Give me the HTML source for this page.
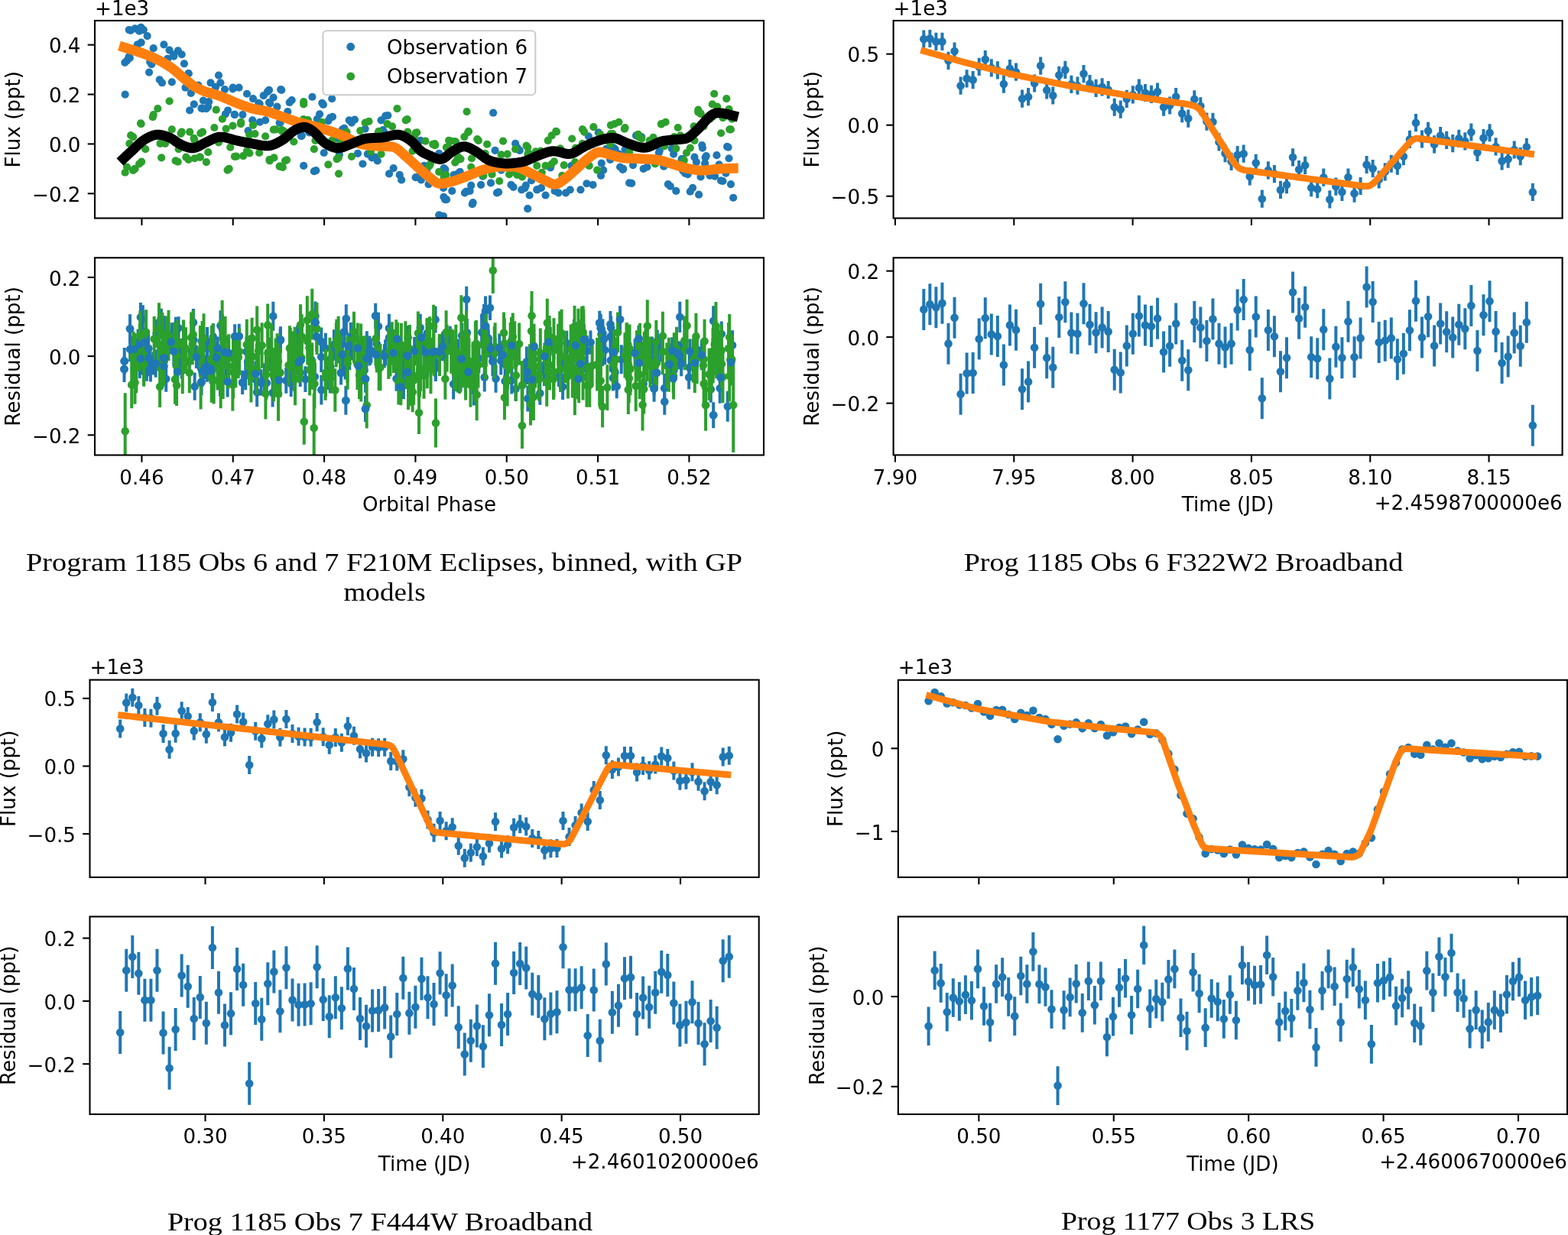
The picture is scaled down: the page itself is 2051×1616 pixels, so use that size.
<!DOCTYPE html><html><head><meta charset="utf-8"><title>Figure</title><style>html,body{margin:0;padding:0;background:#fff;overflow:hidden;}svg{display:block;}</style></head><body>
<svg width="2051" height="1616" viewBox="0 0 2051 1616">
<rect width="2051" height="1616" fill="#fff"/>
<defs>
<clipPath id="tlt"><rect x="124.0" y="27.0" width="875.0" height="258.5"/></clipPath>
<clipPath id="tlr"><rect x="124.0" y="337.3" width="875.0" height="258.2"/></clipPath>
<clipPath id="trt"><rect x="1168.6" y="27.0" width="875.0" height="258.5"/></clipPath>
<clipPath id="trr"><rect x="1168.6" y="337.3" width="875.0" height="258.09999999999997"/></clipPath>
<clipPath id="blt"><rect x="117.5" y="889.6" width="875.2" height="258.30000000000007"/></clipPath>
<clipPath id="blr"><rect x="117.5" y="1199.4" width="875.2" height="258.5999999999999"/></clipPath>
<clipPath id="brt"><rect x="1174.85" y="889.8" width="875.1500000000001" height="258.10000000000014"/></clipPath>
<clipPath id="brr"><rect x="1174.85" y="1199.4" width="875.1500000000001" height="258.5999999999999"/></clipPath>
</defs>
<g fill="#1f77b4" clip-path="url(#tlt)"><circle cx="170.92" cy="39.87" r="5.1"/><circle cx="176.55" cy="37.46" r="5.1"/><circle cx="182.19" cy="40.68" r="5.1"/><circle cx="187.82" cy="39.07" r="5.1"/><circle cx="192.65" cy="47.12" r="5.1"/><circle cx="184.60" cy="55.64" r="5.1"/><circle cx="179.77" cy="58.38" r="5.1"/><circle cx="168.51" cy="74.47" r="5.1"/><circle cx="166.09" cy="79.30" r="5.1"/><circle cx="163.68" cy="123.56" r="5.1"/><circle cx="175.75" cy="67.23" r="5.1"/><circle cx="198.28" cy="84.13" r="5.1"/><circle cx="195.06" cy="94.59" r="5.1"/><circle cx="200.69" cy="63.21" r="5.1"/><circle cx="214.37" cy="58.38" r="5.1"/><circle cx="221.61" cy="65.62" r="5.1"/><circle cx="232.88" cy="66.43" r="5.1"/><circle cx="237.71" cy="71.25" r="5.1"/><circle cx="240.92" cy="83.32" r="5.1"/><circle cx="219.20" cy="76.89" r="5.1"/><circle cx="227.24" cy="73.67" r="5.1"/><circle cx="208.74" cy="104.24" r="5.1"/><circle cx="211.96" cy="108.27" r="5.1"/><circle cx="224.83" cy="107.46" r="5.1"/><circle cx="246.56" cy="96.20" r="5.1"/><circle cx="242.53" cy="114.71" r="5.1"/><circle cx="249.77" cy="121.95" r="5.1"/><circle cx="259.43" cy="111.49" r="5.1"/><circle cx="253.80" cy="136.43" r="5.1"/><circle cx="248.17" cy="144.48" r="5.1"/><circle cx="265.06" cy="142.06" r="5.1"/><circle cx="269.89" cy="142.06" r="5.1"/><circle cx="265.87" cy="131.60" r="5.1"/><circle cx="273.11" cy="133.21" r="5.1"/><circle cx="275.52" cy="108.27" r="5.1"/><circle cx="285.98" cy="98.61" r="5.1"/><circle cx="288.40" cy="108.27" r="5.1"/><circle cx="281.96" cy="113.90" r="5.1"/><circle cx="294.03" cy="117.12" r="5.1"/><circle cx="304.49" cy="116.31" r="5.1"/><circle cx="312.54" cy="114.71" r="5.1"/><circle cx="323.00" cy="122.75" r="5.1"/><circle cx="331.04" cy="129.19" r="5.1"/><circle cx="338.28" cy="134.82" r="5.1"/><circle cx="344.72" cy="125.17" r="5.1"/><circle cx="351.96" cy="117.92" r="5.1"/><circle cx="357.60" cy="127.58" r="5.1"/><circle cx="351.96" cy="134.02" r="5.1"/><circle cx="367.25" cy="117.12" r="5.1"/><circle cx="362.42" cy="139.65" r="5.1"/><circle cx="298.05" cy="144.48" r="5.1"/><circle cx="306.90" cy="150.11" r="5.1"/><circle cx="317.36" cy="150.11" r="5.1"/><circle cx="294.83" cy="149.30" r="5.1"/><circle cx="330.24" cy="157.35" r="5.1"/><circle cx="339.89" cy="159.76" r="5.1"/><circle cx="347.14" cy="157.35" r="5.1"/><circle cx="365.64" cy="160.57" r="5.1"/><circle cx="324.61" cy="171.03" r="5.1"/><circle cx="368.22" cy="117.92" r="5.1"/><circle cx="378.68" cy="134.02" r="5.1"/><circle cx="376.26" cy="146.09" r="5.1"/><circle cx="366.61" cy="160.57" r="5.1"/><circle cx="408.45" cy="126.77" r="5.1"/><circle cx="421.32" cy="134.82" r="5.1"/><circle cx="434.20" cy="129.19" r="5.1"/><circle cx="418.11" cy="149.30" r="5.1"/><circle cx="414.89" cy="155.74" r="5.1"/><circle cx="431.78" cy="154.13" r="5.1"/><circle cx="429.37" cy="158.16" r="5.1"/><circle cx="394.77" cy="177.47" r="5.1"/><circle cx="404.43" cy="173.44" r="5.1"/><circle cx="423.74" cy="200.00" r="5.1"/><circle cx="397.19" cy="216.89" r="5.1"/><circle cx="410.86" cy="224.14" r="5.1"/><circle cx="443.85" cy="202.41" r="5.1"/><circle cx="439.83" cy="181.49" r="5.1"/><circle cx="450.29" cy="167.81" r="5.1"/><circle cx="456.73" cy="157.35" r="5.1"/><circle cx="463.97" cy="156.55" r="5.1"/><circle cx="459.95" cy="160.57" r="5.1"/><circle cx="477.65" cy="168.62" r="5.1"/><circle cx="467.99" cy="200.80" r="5.1"/><circle cx="474.43" cy="214.48" r="5.1"/><circle cx="480.87" cy="201.61" r="5.1"/><circle cx="486.50" cy="206.43" r="5.1"/><circle cx="493.74" cy="210.46" r="5.1"/><circle cx="490.52" cy="205.63" r="5.1"/><circle cx="498.57" cy="157.35" r="5.1"/><circle cx="504.20" cy="151.72" r="5.1"/><circle cx="500.98" cy="170.22" r="5.1"/><circle cx="509.03" cy="227.35" r="5.1"/><circle cx="514.66" cy="220.11" r="5.1"/><circle cx="522.71" cy="228.96" r="5.1"/><circle cx="525.12" cy="235.40" r="5.1"/><circle cx="543.63" cy="232.18" r="5.1"/><circle cx="550.87" cy="235.40" r="5.1"/><circle cx="554.89" cy="216.89" r="5.1"/><circle cx="558.11" cy="222.53" r="5.1"/><circle cx="550.07" cy="183.90" r="5.1"/><circle cx="560.53" cy="241.03" r="5.1"/><circle cx="574.21" cy="200.80" r="5.1"/><circle cx="580.64" cy="220.11" r="5.1"/><circle cx="582.25" cy="261.15" r="5.1"/><circle cx="574.21" cy="281.26" r="5.1"/><circle cx="645.18" cy="147.70" r="5.1"/><circle cx="582.41" cy="221.72" r="5.1"/><circle cx="593.68" cy="228.96" r="5.1"/><circle cx="601.73" cy="224.94" r="5.1"/><circle cx="631.50" cy="230.57" r="5.1"/><circle cx="655.64" cy="222.53" r="5.1"/><circle cx="580.00" cy="245.86" r="5.1"/><circle cx="591.26" cy="249.88" r="5.1"/><circle cx="609.77" cy="250.69" r="5.1"/><circle cx="614.60" cy="249.88" r="5.1"/><circle cx="616.21" cy="242.64" r="5.1"/><circle cx="629.08" cy="241.84" r="5.1"/><circle cx="641.96" cy="239.42" r="5.1"/><circle cx="650.00" cy="252.30" r="5.1"/><circle cx="584.02" cy="261.15" r="5.1"/><circle cx="618.62" cy="265.17" r="5.1"/><circle cx="668.51" cy="241.84" r="5.1"/><circle cx="682.19" cy="248.27" r="5.1"/><circle cx="687.82" cy="242.64" r="5.1"/><circle cx="692.65" cy="255.52" r="5.1"/><circle cx="695.06" cy="236.21" r="5.1"/><circle cx="702.30" cy="248.27" r="5.1"/><circle cx="707.94" cy="245.86" r="5.1"/><circle cx="713.57" cy="255.52" r="5.1"/><circle cx="725.64" cy="249.88" r="5.1"/><circle cx="730.47" cy="252.30" r="5.1"/><circle cx="740.12" cy="252.30" r="5.1"/><circle cx="745.75" cy="248.27" r="5.1"/><circle cx="759.43" cy="248.27" r="5.1"/><circle cx="767.48" cy="240.23" r="5.1"/><circle cx="775.53" cy="241.84" r="5.1"/><circle cx="690.23" cy="273.22" r="5.1"/><circle cx="720.01" cy="219.31" r="5.1"/><circle cx="647.59" cy="196.78" r="5.1"/><circle cx="674.14" cy="187.93" r="5.1"/><circle cx="679.77" cy="196.78" r="5.1"/><circle cx="769.89" cy="178.27" r="5.1"/><circle cx="782.77" cy="173.44" r="5.1"/><circle cx="786.79" cy="213.68" r="5.1"/><circle cx="789.21" cy="222.53" r="5.1"/><circle cx="785.99" cy="229.77" r="5.1"/><circle cx="794.03" cy="197.58" r="5.1"/><circle cx="747.36" cy="216.89" r="5.1"/><circle cx="580.00" cy="282.87" r="5.1"/><circle cx="795.00" cy="195.97" r="5.1"/><circle cx="804.66" cy="195.17" r="5.1"/><circle cx="809.48" cy="201.61" r="5.1"/><circle cx="798.22" cy="208.85" r="5.1"/><circle cx="817.53" cy="195.97" r="5.1"/><circle cx="811.09" cy="218.50" r="5.1"/><circle cx="815.12" cy="220.92" r="5.1"/><circle cx="827.99" cy="216.09" r="5.1"/><circle cx="823.16" cy="239.42" r="5.1"/><circle cx="832.01" cy="177.47" r="5.1"/><circle cx="839.25" cy="179.08" r="5.1"/><circle cx="841.67" cy="220.92" r="5.1"/><circle cx="846.50" cy="218.50" r="5.1"/><circle cx="861.78" cy="200.00" r="5.1"/><circle cx="868.22" cy="217.70" r="5.1"/><circle cx="873.85" cy="241.03" r="5.1"/><circle cx="878.68" cy="194.36" r="5.1"/><circle cx="881.10" cy="201.61" r="5.1"/><circle cx="884.31" cy="249.88" r="5.1"/><circle cx="891.56" cy="208.04" r="5.1"/><circle cx="893.17" cy="223.33" r="5.1"/><circle cx="899.60" cy="228.16" r="5.1"/><circle cx="902.82" cy="250.69" r="5.1"/><circle cx="906.04" cy="245.86" r="5.1"/><circle cx="908.45" cy="205.63" r="5.1"/><circle cx="910.87" cy="212.07" r="5.1"/><circle cx="914.09" cy="254.71" r="5.1"/><circle cx="916.50" cy="231.38" r="5.1"/><circle cx="918.91" cy="193.56" r="5.1"/><circle cx="923.74" cy="204.02" r="5.1"/><circle cx="928.57" cy="229.77" r="5.1"/><circle cx="935.01" cy="230.57" r="5.1"/><circle cx="937.42" cy="203.21" r="5.1"/><circle cx="940.64" cy="215.28" r="5.1"/><circle cx="945.47" cy="237.01" r="5.1"/><circle cx="949.49" cy="226.55" r="5.1"/><circle cx="951.10" cy="191.95" r="5.1"/><circle cx="953.51" cy="207.24" r="5.1"/><circle cx="955.93" cy="241.03" r="5.1"/><circle cx="959.15" cy="258.73" r="5.1"/><circle cx="922.13" cy="213.68" r="5.1"/><circle cx="246.61" cy="96.24" r="5.1"/><circle cx="580.40" cy="257.75" r="5.1"/><circle cx="381.71" cy="131.12" r="5.1"/><circle cx="413.28" cy="223.21" r="5.1"/><circle cx="507.36" cy="151.01" r="5.1"/><circle cx="826.22" cy="239.82" r="5.1"/><circle cx="607.95" cy="252.38" r="5.1"/><circle cx="353.18" cy="135.31" r="5.1"/><circle cx="226.99" cy="71.72" r="5.1"/><circle cx="862.77" cy="197.25" r="5.1"/><circle cx="339.63" cy="135.77" r="5.1"/><circle cx="617.76" cy="267.26" r="5.1"/><circle cx="168.78" cy="39.11" r="5.1"/><circle cx="652.09" cy="251.46" r="5.1"/><circle cx="952.59" cy="192.74" r="5.1"/><circle cx="896.25" cy="226.77" r="5.1"/><circle cx="422.89" cy="136.98" r="5.1"/><circle cx="447.86" cy="169.30" r="5.1"/><circle cx="546.06" cy="231.49" r="5.1"/><circle cx="702.68" cy="248.13" r="5.1"/><circle cx="434.99" cy="152.85" r="5.1"/><circle cx="918.23" cy="190.07" r="5.1"/><circle cx="814.56" cy="221.84" r="5.1"/><circle cx="671.55" cy="244.80" r="5.1"/><circle cx="686.61" cy="246.06" r="5.1"/><circle cx="349.78" cy="120.19" r="5.1"/><circle cx="943.07" cy="236.35" r="5.1"/><circle cx="598.74" cy="227.45" r="5.1"/><circle cx="272.19" cy="139.54" r="5.1"/><circle cx="304.68" cy="114.62" r="5.1"/><circle cx="554.84" cy="217.27" r="5.1"/><circle cx="163.34" cy="81.85" r="5.1"/><circle cx="263.51" cy="141.69" r="5.1"/><circle cx="676.68" cy="193.30" r="5.1"/><circle cx="792.87" cy="194.87" r="5.1"/><circle cx="876.85" cy="243.76" r="5.1"/><circle cx="306.77" cy="149.79" r="5.1"/><circle cx="502.15" cy="172.74" r="5.1"/><circle cx="922.60" cy="206.08" r="5.1"/><circle cx="394.06" cy="178.13" r="5.1"/><circle cx="893.22" cy="208.05" r="5.1"/><circle cx="169.84" cy="75.85" r="5.1"/><circle cx="184.36" cy="35.84" r="5.1"/><circle cx="802.20" cy="193.16" r="5.1"/><circle cx="196.20" cy="80.97" r="5.1"/></g>
<g fill="#2ca02c" clip-path="url(#tlt)"><circle cx="163.68" cy="225.74" r="5.1"/><circle cx="166.09" cy="218.50" r="5.1"/><circle cx="176.55" cy="220.92" r="5.1"/><circle cx="182.19" cy="214.48" r="5.1"/><circle cx="169.31" cy="187.93" r="5.1"/><circle cx="174.14" cy="179.08" r="5.1"/><circle cx="184.60" cy="162.18" r="5.1"/><circle cx="190.23" cy="195.17" r="5.1"/><circle cx="200.69" cy="150.11" r="5.1"/><circle cx="206.32" cy="142.06" r="5.1"/><circle cx="221.61" cy="132.41" r="5.1"/><circle cx="211.15" cy="206.43" r="5.1"/><circle cx="209.54" cy="187.93" r="5.1"/><circle cx="215.98" cy="187.93" r="5.1"/><circle cx="224.83" cy="169.42" r="5.1"/><circle cx="237.71" cy="172.64" r="5.1"/><circle cx="248.17" cy="172.64" r="5.1"/><circle cx="254.60" cy="183.90" r="5.1"/><circle cx="229.66" cy="210.46" r="5.1"/><circle cx="233.68" cy="195.17" r="5.1"/><circle cx="243.34" cy="205.63" r="5.1"/><circle cx="246.56" cy="208.85" r="5.1"/><circle cx="254.60" cy="207.24" r="5.1"/><circle cx="261.04" cy="205.63" r="5.1"/><circle cx="269.89" cy="212.07" r="5.1"/><circle cx="272.30" cy="199.19" r="5.1"/><circle cx="265.06" cy="172.64" r="5.1"/><circle cx="280.35" cy="167.01" r="5.1"/><circle cx="282.76" cy="143.67" r="5.1"/><circle cx="290.81" cy="155.74" r="5.1"/><circle cx="285.98" cy="186.32" r="5.1"/><circle cx="295.64" cy="168.62" r="5.1"/><circle cx="304.49" cy="164.59" r="5.1"/><circle cx="314.95" cy="162.18" r="5.1"/><circle cx="301.27" cy="192.75" r="5.1"/><circle cx="306.90" cy="204.82" r="5.1"/><circle cx="318.17" cy="204.02" r="5.1"/><circle cx="323.00" cy="197.58" r="5.1"/><circle cx="299.66" cy="220.92" r="5.1"/><circle cx="331.04" cy="163.79" r="5.1"/><circle cx="333.46" cy="175.05" r="5.1"/><circle cx="326.21" cy="176.66" r="5.1"/><circle cx="339.09" cy="200.00" r="5.1"/><circle cx="347.14" cy="178.27" r="5.1"/><circle cx="352.77" cy="210.46" r="5.1"/><circle cx="358.40" cy="206.43" r="5.1"/><circle cx="360.81" cy="169.42" r="5.1"/><circle cx="365.64" cy="217.70" r="5.1"/><circle cx="368.86" cy="171.83" r="5.1"/><circle cx="397.19" cy="133.21" r="5.1"/><circle cx="373.05" cy="210.46" r="5.1"/><circle cx="366.61" cy="217.70" r="5.1"/><circle cx="384.31" cy="185.51" r="5.1"/><circle cx="371.44" cy="171.83" r="5.1"/><circle cx="395.58" cy="158.16" r="5.1"/><circle cx="402.82" cy="157.35" r="5.1"/><circle cx="410.86" cy="195.17" r="5.1"/><circle cx="412.47" cy="183.90" r="5.1"/><circle cx="421.32" cy="159.76" r="5.1"/><circle cx="429.37" cy="215.28" r="5.1"/><circle cx="440.64" cy="208.04" r="5.1"/><circle cx="443.05" cy="227.35" r="5.1"/><circle cx="434.20" cy="183.90" r="5.1"/><circle cx="453.51" cy="172.64" r="5.1"/><circle cx="459.95" cy="204.82" r="5.1"/><circle cx="471.21" cy="171.03" r="5.1"/><circle cx="477.65" cy="160.57" r="5.1"/><circle cx="482.48" cy="158.96" r="5.1"/><circle cx="484.89" cy="198.39" r="5.1"/><circle cx="498.57" cy="201.61" r="5.1"/><circle cx="506.62" cy="162.18" r="5.1"/><circle cx="513.05" cy="165.40" r="5.1"/><circle cx="519.49" cy="142.06" r="5.1"/><circle cx="530.75" cy="157.35" r="5.1"/><circle cx="533.17" cy="172.64" r="5.1"/><circle cx="545.24" cy="173.44" r="5.1"/><circle cx="542.02" cy="178.27" r="5.1"/><circle cx="556.50" cy="184.71" r="5.1"/><circle cx="566.16" cy="188.73" r="5.1"/><circle cx="569.38" cy="189.54" r="5.1"/><circle cx="562.94" cy="214.48" r="5.1"/><circle cx="574.21" cy="224.94" r="5.1"/><circle cx="580.64" cy="231.38" r="5.1"/><circle cx="583.86" cy="192.75" r="5.1"/><circle cx="553.28" cy="200.80" r="5.1"/><circle cx="539.61" cy="197.58" r="5.1"/><circle cx="495.35" cy="171.83" r="5.1"/><circle cx="445.46" cy="186.32" r="5.1"/><circle cx="610.58" cy="146.09" r="5.1"/><circle cx="612.99" cy="171.83" r="5.1"/><circle cx="607.36" cy="179.08" r="5.1"/><circle cx="625.86" cy="183.90" r="5.1"/><circle cx="637.13" cy="188.73" r="5.1"/><circle cx="658.05" cy="184.71" r="5.1"/><circle cx="589.66" cy="184.71" r="5.1"/><circle cx="596.09" cy="185.51" r="5.1"/><circle cx="586.44" cy="192.75" r="5.1"/><circle cx="597.70" cy="209.65" r="5.1"/><circle cx="602.53" cy="208.04" r="5.1"/><circle cx="616.21" cy="218.50" r="5.1"/><circle cx="617.01" cy="207.24" r="5.1"/><circle cx="634.72" cy="200.80" r="5.1"/><circle cx="655.64" cy="202.41" r="5.1"/><circle cx="663.68" cy="201.61" r="5.1"/><circle cx="674.14" cy="195.17" r="5.1"/><circle cx="690.23" cy="192.75" r="5.1"/><circle cx="691.04" cy="200.00" r="5.1"/><circle cx="700.70" cy="198.39" r="5.1"/><circle cx="707.13" cy="197.58" r="5.1"/><circle cx="666.10" cy="228.16" r="5.1"/><circle cx="676.56" cy="228.96" r="5.1"/><circle cx="682.99" cy="231.38" r="5.1"/><circle cx="653.22" cy="237.01" r="5.1"/><circle cx="632.30" cy="229.77" r="5.1"/><circle cx="643.57" cy="228.16" r="5.1"/><circle cx="702.30" cy="216.89" r="5.1"/><circle cx="708.74" cy="225.74" r="5.1"/><circle cx="713.57" cy="216.89" r="5.1"/><circle cx="724.83" cy="211.26" r="5.1"/><circle cx="716.79" cy="183.90" r="5.1"/><circle cx="721.62" cy="177.47" r="5.1"/><circle cx="727.25" cy="171.83" r="5.1"/><circle cx="732.88" cy="194.36" r="5.1"/><circle cx="737.71" cy="216.09" r="5.1"/><circle cx="735.29" cy="229.77" r="5.1"/><circle cx="748.17" cy="181.49" r="5.1"/><circle cx="753.00" cy="193.56" r="5.1"/><circle cx="761.85" cy="187.93" r="5.1"/><circle cx="764.26" cy="172.64" r="5.1"/><circle cx="776.33" cy="166.20" r="5.1"/><circle cx="785.18" cy="175.86" r="5.1"/><circle cx="770.70" cy="216.89" r="5.1"/><circle cx="781.16" cy="222.53" r="5.1"/><circle cx="798.86" cy="163.79" r="5.1"/><circle cx="798.86" cy="175.05" r="5.1"/><circle cx="752.19" cy="212.07" r="5.1"/><circle cx="801.44" cy="175.05" r="5.1"/><circle cx="803.85" cy="162.18" r="5.1"/><circle cx="809.48" cy="159.76" r="5.1"/><circle cx="817.53" cy="167.01" r="5.1"/><circle cx="798.22" cy="188.73" r="5.1"/><circle cx="823.16" cy="199.19" r="5.1"/><circle cx="835.23" cy="179.08" r="5.1"/><circle cx="839.25" cy="181.49" r="5.1"/><circle cx="854.54" cy="179.88" r="5.1"/><circle cx="849.72" cy="183.90" r="5.1"/><circle cx="856.96" cy="214.48" r="5.1"/><circle cx="865.00" cy="162.18" r="5.1"/><circle cx="870.64" cy="159.76" r="5.1"/><circle cx="869.03" cy="191.15" r="5.1"/><circle cx="881.90" cy="179.08" r="5.1"/><circle cx="884.31" cy="194.36" r="5.1"/><circle cx="886.73" cy="167.01" r="5.1"/><circle cx="889.95" cy="177.47" r="5.1"/><circle cx="894.77" cy="209.65" r="5.1"/><circle cx="897.99" cy="200.00" r="5.1"/><circle cx="902.82" cy="193.56" r="5.1"/><circle cx="908.45" cy="183.90" r="5.1"/><circle cx="913.28" cy="143.67" r="5.1"/><circle cx="916.50" cy="148.50" r="5.1"/><circle cx="920.52" cy="165.40" r="5.1"/><circle cx="931.79" cy="136.43" r="5.1"/><circle cx="934.20" cy="122.75" r="5.1"/><circle cx="938.22" cy="139.65" r="5.1"/><circle cx="950.29" cy="129.19" r="5.1"/><circle cx="953.51" cy="142.87" r="5.1"/><circle cx="945.47" cy="154.13" r="5.1"/><circle cx="943.05" cy="174.25" r="5.1"/><circle cx="955.93" cy="169.42" r="5.1"/><circle cx="957.54" cy="155.74" r="5.1"/><circle cx="928.57" cy="155.74" r="5.1"/><circle cx="907.65" cy="165.40" r="5.1"/><circle cx="865.01" cy="162.52" r="5.1"/><circle cx="352.44" cy="208.88" r="5.1"/><circle cx="913.20" cy="146.63" r="5.1"/><circle cx="297.57" cy="222.55" r="5.1"/><circle cx="688.49" cy="190.61" r="5.1"/><circle cx="675.32" cy="226.11" r="5.1"/><circle cx="415.52" cy="182.96" r="5.1"/><circle cx="761.99" cy="169.14" r="5.1"/><circle cx="171.06" cy="177.08" r="5.1"/><circle cx="568.80" cy="190.25" r="5.1"/><circle cx="326.36" cy="200.32" r="5.1"/><circle cx="543.43" cy="174.22" r="5.1"/><circle cx="185.14" cy="211.69" r="5.1"/><circle cx="568.64" cy="188.00" r="5.1"/><circle cx="532.73" cy="156.11" r="5.1"/><circle cx="261.92" cy="205.68" r="5.1"/><circle cx="262.29" cy="174.46" r="5.1"/><circle cx="309.16" cy="204.71" r="5.1"/><circle cx="761.06" cy="191.06" r="5.1"/><circle cx="893.89" cy="212.31" r="5.1"/><circle cx="184.03" cy="161.29" r="5.1"/><circle cx="253.63" cy="180.82" r="5.1"/><circle cx="624.31" cy="182.01" r="5.1"/><circle cx="357.75" cy="169.71" r="5.1"/><circle cx="834.83" cy="175.75" r="5.1"/><circle cx="595.29" cy="212.58" r="5.1"/><circle cx="587.09" cy="183.82" r="5.1"/><circle cx="931.72" cy="153.04" r="5.1"/><circle cx="690.41" cy="202.10" r="5.1"/><circle cx="599.16" cy="205.02" r="5.1"/><circle cx="232.67" cy="211.75" r="5.1"/><circle cx="954.25" cy="169.28" r="5.1"/><circle cx="706.98" cy="228.49" r="5.1"/><circle cx="669.24" cy="225.16" r="5.1"/><circle cx="315.12" cy="159.97" r="5.1"/><circle cx="816.86" cy="168.69" r="5.1"/><circle cx="397.07" cy="155.98" r="5.1"/><circle cx="594.92" cy="184.99" r="5.1"/><circle cx="612.19" cy="173.11" r="5.1"/><circle cx="375.06" cy="209.30" r="5.1"/><circle cx="945.06" cy="151.10" r="5.1"/><circle cx="199.76" cy="153.24" r="5.1"/><circle cx="916.52" cy="148.90" r="5.1"/><circle cx="727.99" cy="172.30" r="5.1"/><circle cx="442.77" cy="206.36" r="5.1"/><circle cx="561.66" cy="217.19" r="5.1"/><circle cx="397.18" cy="136.43" r="5.1"/><circle cx="174.03" cy="222.90" r="5.1"/><circle cx="402.63" cy="157.17" r="5.1"/><circle cx="583.31" cy="228.79" r="5.1"/><circle cx="368.96" cy="170.08" r="5.1"/><circle cx="236.60" cy="174.86" r="5.1"/><circle cx="494.64" cy="173.83" r="5.1"/><circle cx="721.43" cy="214.76" r="5.1"/><circle cx="369.80" cy="218.95" r="5.1"/></g>
<g clip-path="url(#tlt)">
<polyline points="156.00,60.00 158.00,60.62 160.00,61.24 162.00,61.86 164.00,62.49 166.00,63.13 168.00,63.76 170.00,64.40 172.00,65.03 174.00,65.66 176.00,66.29 178.00,66.92 180.00,67.56 182.00,68.21 184.00,68.88 186.00,69.57 188.00,70.28 190.00,71.02 192.00,71.80 194.00,72.60 196.00,73.42 198.00,74.28 200.00,75.16 202.00,76.07 204.00,77.01 206.00,77.99 208.00,78.99 210.00,80.03 212.00,81.12 214.00,82.24 216.00,83.42 218.00,84.64 220.00,85.92 222.00,87.24 224.00,88.62 226.00,90.08 228.00,91.63 230.00,93.26 232.00,94.98 234.00,96.74 236.00,98.51 238.00,100.26 240.00,101.98 242.00,103.68 244.00,105.35 246.00,107.01 248.00,108.62 250.00,110.15 252.00,111.58 254.00,112.90 256.00,114.12 258.00,115.24 260.00,116.27 262.00,117.24 264.00,118.13 266.00,118.93 268.00,119.67 270.00,120.34 272.00,120.95 274.00,121.53 276.00,122.08 278.00,122.63 280.00,123.19 282.00,123.77 284.00,124.38 286.00,125.05 288.00,125.76 290.00,126.53 292.00,127.33 294.00,128.17 296.00,129.03 298.00,129.91 300.00,130.79 302.00,131.67 304.00,132.53 306.00,133.37 308.00,134.19 310.00,134.99 312.00,135.77 314.00,136.54 316.00,137.30 318.00,138.05 320.00,138.79 322.00,139.50 324.00,140.18 326.00,140.82 328.00,141.41 330.00,141.95 332.00,142.44 334.00,142.87 336.00,143.27 338.00,143.64 340.00,144.00 342.00,144.36 344.00,144.73 346.00,145.13 348.00,145.57 350.00,146.05 352.00,146.60 354.00,147.20 356.00,147.85 358.00,148.55 360.00,149.28 362.00,150.02 364.00,150.78 366.00,151.53 368.00,152.26 370.00,152.99 372.00,153.72 374.00,154.45 376.00,155.18 378.00,155.91 380.00,156.64 382.00,157.35 384.00,158.05 386.00,158.72 388.00,159.36 390.00,159.97 392.00,160.53 394.00,161.07 396.00,161.58 398.00,162.07 400.00,162.54 402.00,163.02 404.00,163.50 406.00,163.98 408.00,164.49 410.00,165.02 412.00,165.56 414.00,166.13 416.00,166.70 418.00,167.29 420.00,167.88 422.00,168.49 424.00,169.11 426.00,169.73 428.00,170.36 430.00,171.00 432.00,171.65 434.00,172.30 436.00,172.95 438.00,173.62 440.00,174.29 442.00,174.99 444.00,175.71 446.00,176.45 448.00,177.23 450.00,178.08 452.00,179.01 454.00,180.02 456.00,181.12 458.00,182.27 460.00,183.42 462.00,184.54 464.00,185.58 466.00,186.50 468.00,187.26 470.00,187.89 472.00,188.41 474.00,188.83 476.00,189.22 478.00,189.57 480.00,189.88 482.00,190.17 484.00,190.42 486.00,190.64 488.00,190.82 490.00,190.97 492.00,191.10 494.00,191.20 496.00,191.27 498.00,191.34 500.00,191.40 502.00,191.45 504.00,191.51 506.00,191.57 508.00,191.65 510.00,191.75 512.00,191.91 514.00,192.25 516.00,192.86 518.00,193.79 520.00,195.09 522.00,196.69 524.00,198.47 526.00,200.32 528.00,202.15 530.00,203.94 532.00,205.70 534.00,207.45 536.00,209.22 538.00,211.04 540.00,212.87 542.00,214.72 544.00,216.57 546.00,218.40 548.00,220.20 550.00,221.99 552.00,223.75 554.00,225.50 556.00,227.23 558.00,228.92 560.00,230.56 562.00,232.21 564.00,233.86 566.00,235.52 568.00,237.11 570.00,238.50 572.00,239.52 574.00,240.14 576.00,240.37 578.00,240.29 580.00,240.03 582.00,239.66 584.00,239.23 586.00,238.76 588.00,238.26 590.00,237.75 592.00,237.21 594.00,236.64 596.00,236.02 598.00,235.36 600.00,234.65 602.00,233.91 604.00,233.15 606.00,232.38 608.00,231.61 610.00,230.83 612.00,230.05 614.00,229.24 616.00,228.42 618.00,227.56 620.00,226.70 622.00,225.84 624.00,225.01 626.00,224.22 628.00,223.49 630.00,222.82 632.00,222.20 634.00,221.63 636.00,221.08 638.00,220.54 640.00,220.03 642.00,219.55 644.00,219.12 646.00,218.75 648.00,218.47 650.00,218.28 652.00,218.17 654.00,218.11 656.00,218.10 658.00,218.10 660.00,218.10 662.00,218.10 664.00,218.10 666.00,218.10 668.00,218.10 670.00,218.10 672.00,218.16 674.00,218.32 676.00,218.62 678.00,219.11 680.00,219.78 682.00,220.61 684.00,221.54 686.00,222.55 688.00,223.58 690.00,224.60 692.00,225.60 694.00,226.57 696.00,227.54 698.00,228.52 700.00,229.52 702.00,230.55 704.00,231.60 706.00,232.64 708.00,233.66 710.00,234.66 712.00,235.65 714.00,236.64 716.00,237.66 718.00,238.67 720.00,239.64 722.00,240.46 724.00,241.01 726.00,241.16 728.00,240.87 730.00,240.14 732.00,239.04 734.00,237.69 736.00,236.22 738.00,234.71 740.00,233.15 742.00,231.56 744.00,229.88 746.00,228.12 748.00,226.31 750.00,224.47 752.00,222.64 754.00,220.83 756.00,219.01 758.00,217.19 760.00,215.36 762.00,213.53 764.00,211.72 766.00,209.98 768.00,208.32 770.00,206.73 772.00,205.19 774.00,203.68 776.00,202.23 778.00,200.92 780.00,199.88 782.00,199.21 784.00,198.94 786.00,199.03 788.00,199.40 790.00,199.93 792.00,200.53 794.00,201.14 796.00,201.73 798.00,202.31 800.00,202.89 802.00,203.48 804.00,204.07 806.00,204.65 808.00,205.20 810.00,205.70 812.00,206.12 814.00,206.46 816.00,206.72 818.00,206.91 820.00,207.05 822.00,207.17 824.00,207.27 826.00,207.36 828.00,207.44 830.00,207.52 832.00,207.60 834.00,207.68 836.00,207.77 838.00,207.86 840.00,207.94 842.00,208.02 844.00,208.10 846.00,208.18 848.00,208.27 850.00,208.36 852.00,208.46 854.00,208.59 856.00,208.74 858.00,208.95 860.00,209.23 862.00,209.59 864.00,210.03 866.00,210.54 868.00,211.10 870.00,211.69 872.00,212.29 874.00,212.90 876.00,213.50 878.00,214.09 880.00,214.70 882.00,215.31 884.00,215.95 886.00,216.61 888.00,217.26 890.00,217.89 892.00,218.50 894.00,219.07 896.00,219.58 898.00,220.05 900.00,220.49 902.00,220.91 904.00,221.31 906.00,221.70 908.00,222.07 910.00,222.40 912.00,222.68 914.00,222.90 916.00,223.05 918.00,223.12 920.00,223.11 922.00,223.01 924.00,222.85 926.00,222.64 928.00,222.40 930.00,222.13 932.00,221.86 934.00,221.61 936.00,221.40 938.00,221.21 940.00,221.06 942.00,220.94 944.00,220.83 946.00,220.73 948.00,220.62 950.00,220.53 952.00,220.44 954.00,220.36 956.00,220.29 958.00,220.22 960.00,220.17 962.00,220.13 964.00,220.11 965.70,220.10" fill="none" stroke="#ff7f0e" stroke-width="13.0" stroke-linejoin="round" stroke-linecap="butt" />
<polyline points="157.00,212.00 159.00,210.06 161.00,208.13 163.00,206.22 165.00,204.33 167.00,202.46 169.00,200.60 171.00,198.75 173.00,196.90 175.00,195.02 177.00,193.11 179.00,191.18 181.00,189.26 183.00,187.40 185.00,185.67 187.00,184.12 189.00,182.75 191.00,181.53 193.00,180.43 195.00,179.42 197.00,178.49 199.00,177.66 201.00,176.99 203.00,176.51 205.00,176.24 207.00,176.19 209.00,176.33 211.00,176.64 213.00,177.09 215.00,177.63 217.00,178.26 219.00,178.94 221.00,179.72 223.00,180.64 225.00,181.73 227.00,183.00 229.00,184.41 231.00,185.83 233.00,187.15 235.00,188.33 237.00,189.37 239.00,190.28 241.00,191.12 243.00,191.90 245.00,192.59 247.00,193.16 249.00,193.56 251.00,193.75 253.00,193.68 255.00,193.33 257.00,192.71 259.00,191.87 261.00,190.86 263.00,189.75 265.00,188.63 267.00,187.55 269.00,186.52 271.00,185.54 273.00,184.56 275.00,183.59 277.00,182.60 279.00,181.64 281.00,180.78 283.00,180.07 285.00,179.55 287.00,179.26 289.00,179.18 291.00,179.29 293.00,179.56 295.00,179.95 297.00,180.42 299.00,180.95 301.00,181.52 303.00,182.10 305.00,182.68 307.00,183.22 309.00,183.73 311.00,184.20 313.00,184.64 315.00,185.06 317.00,185.48 319.00,185.89 321.00,186.30 323.00,186.70 325.00,187.08 327.00,187.46 329.00,187.82 331.00,188.19 333.00,188.57 335.00,188.95 337.00,189.34 339.00,189.72 341.00,190.07 343.00,190.38 345.00,190.63 347.00,190.81 349.00,190.87 351.00,190.79 353.00,190.54 355.00,190.10 357.00,189.48 359.00,188.70 361.00,187.80 363.00,186.81 365.00,185.75 367.00,184.66 369.00,183.49 371.00,182.18 373.00,180.72 375.00,179.07 377.00,177.28 379.00,175.44 381.00,173.69 383.00,172.12 385.00,170.77 387.00,169.62 389.00,168.64 391.00,167.81 393.00,167.10 395.00,166.58 397.00,166.34 399.00,166.43 401.00,166.89 403.00,167.69 405.00,168.76 407.00,170.00 409.00,171.41 411.00,173.00 413.00,174.81 415.00,176.84 417.00,179.06 419.00,181.33 421.00,183.49 423.00,185.42 425.00,187.05 427.00,188.43 429.00,189.59 431.00,190.61 433.00,191.55 435.00,192.37 437.00,193.03 439.00,193.50 441.00,193.75 443.00,193.75 445.00,193.51 447.00,193.07 449.00,192.45 451.00,191.70 453.00,190.89 455.00,190.04 457.00,189.21 459.00,188.40 461.00,187.61 463.00,186.82 465.00,186.00 467.00,185.16 469.00,184.32 471.00,183.51 473.00,182.77 475.00,182.13 477.00,181.62 479.00,181.24 481.00,180.98 483.00,180.81 485.00,180.69 487.00,180.60 489.00,180.52 491.00,180.45 493.00,180.37 495.00,180.28 497.00,180.18 499.00,180.02 501.00,179.80 503.00,179.49 505.00,179.08 507.00,178.60 509.00,178.08 511.00,177.55 513.00,177.06 515.00,176.64 517.00,176.34 519.00,176.20 521.00,176.26 523.00,176.54 525.00,177.07 527.00,177.82 529.00,178.76 531.00,179.87 533.00,181.10 535.00,182.44 537.00,183.85 539.00,185.44 541.00,187.31 543.00,189.47 545.00,191.82 547.00,194.17 549.00,196.26 551.00,197.98 553.00,199.35 555.00,200.45 557.00,201.42 559.00,202.31 561.00,203.18 563.00,204.05 565.00,204.95 567.00,205.85 569.00,206.71 571.00,207.48 573.00,208.07 575.00,208.39 577.00,208.29 579.00,207.72 581.00,206.67 583.00,205.22 585.00,203.53 587.00,201.81 589.00,200.21 591.00,198.76 593.00,197.46 595.00,196.27 597.00,195.14 599.00,194.07 601.00,193.14 603.00,192.39 605.00,191.90 607.00,191.71 609.00,191.84 611.00,192.29 613.00,193.02 615.00,193.94 617.00,194.99 619.00,196.09 621.00,197.24 623.00,198.44 625.00,199.73 627.00,201.13 629.00,202.63 631.00,204.16 633.00,205.67 635.00,207.10 637.00,208.38 639.00,209.46 641.00,210.33 643.00,211.01 645.00,211.55 647.00,212.00 649.00,212.42 651.00,212.80 653.00,213.13 655.00,213.42 657.00,213.65 659.00,213.81 661.00,213.91 663.00,213.95 665.00,213.92 667.00,213.83 669.00,213.70 671.00,213.53 673.00,213.32 675.00,213.09 677.00,212.82 679.00,212.53 681.00,212.22 683.00,211.84 685.00,211.37 687.00,210.79 689.00,210.09 691.00,209.28 693.00,208.39 695.00,207.46 697.00,206.53 699.00,205.62 701.00,204.76 703.00,203.96 705.00,203.18 707.00,202.42 709.00,201.65 711.00,200.88 713.00,200.13 715.00,199.44 717.00,198.83 719.00,198.34 721.00,197.98 723.00,197.80 725.00,197.79 727.00,197.96 729.00,198.29 731.00,198.74 733.00,199.27 735.00,199.83 737.00,200.38 739.00,200.86 741.00,201.24 743.00,201.45 745.00,201.43 747.00,201.14 749.00,200.57 751.00,199.73 753.00,198.69 755.00,197.49 757.00,196.22 759.00,194.92 761.00,193.68 763.00,192.53 765.00,191.48 767.00,190.51 769.00,189.58 771.00,188.68 773.00,187.79 775.00,186.93 777.00,186.10 779.00,185.32 781.00,184.61 783.00,183.96 785.00,183.37 787.00,182.83 789.00,182.32 791.00,181.84 793.00,181.39 795.00,180.99 797.00,180.67 799.00,180.44 801.00,180.37 803.00,180.48 805.00,180.81 807.00,181.37 809.00,182.13 811.00,183.02 813.00,183.99 815.00,184.96 817.00,185.88 819.00,186.73 821.00,187.51 823.00,188.24 825.00,188.95 827.00,189.67 829.00,190.39 831.00,191.07 833.00,191.70 835.00,192.26 837.00,192.72 839.00,193.08 841.00,193.28 843.00,193.30 845.00,193.12 847.00,192.71 849.00,192.09 851.00,191.30 853.00,190.38 855.00,189.39 857.00,188.37 859.00,187.37 861.00,186.44 863.00,185.64 865.00,184.99 867.00,184.50 869.00,184.14 871.00,183.89 873.00,183.68 875.00,183.50 877.00,183.34 879.00,183.19 881.00,183.04 883.00,182.89 885.00,182.74 887.00,182.58 889.00,182.42 891.00,182.25 893.00,182.07 895.00,181.85 897.00,181.44 899.00,180.70 901.00,179.58 903.00,178.11 905.00,176.39 907.00,174.56 909.00,172.71 911.00,170.86 913.00,168.92 915.00,166.86 917.00,164.69 919.00,162.45 921.00,160.18 923.00,157.93 925.00,155.77 927.00,153.80 929.00,152.01 931.00,150.46 933.00,149.23 935.00,148.38 937.00,147.86 939.00,147.66 941.00,147.72 943.00,147.90 945.00,148.17 947.00,148.53 949.00,148.95 951.00,149.43 953.00,149.92 955.00,150.41 957.00,150.89 959.00,151.37 961.00,151.87 963.00,152.37 965.00,152.87 965.50,153.00" fill="none" stroke="#000" stroke-width="13.0" stroke-linejoin="round" stroke-linecap="butt" />
</g>
<g clip-path="url(#tlr)">
<path d="M162.72 454.93V490.13" stroke="#1f77b4" stroke-width="4.0"/><circle cx="162.72" cy="472.53" r="5.3" fill="#1f77b4"/>
<path d="M170.04 411.14V449.55" stroke="#1f77b4" stroke-width="4.0"/><circle cx="170.04" cy="430.34" r="5.3" fill="#1f77b4"/>
<path d="M170.15 440.75V473.37" stroke="#1f77b4" stroke-width="4.0"/><circle cx="170.15" cy="457.06" r="5.3" fill="#1f77b4"/>
<path d="M174.47 446.44V479.96" stroke="#1f77b4" stroke-width="4.0"/><circle cx="174.47" cy="463.20" r="5.3" fill="#1f77b4"/>
<path d="M175.30 439.11V475.01" stroke="#1f77b4" stroke-width="4.0"/><circle cx="175.30" cy="457.06" r="5.3" fill="#1f77b4"/>
<path d="M175.33 449.84V482.16" stroke="#1f77b4" stroke-width="4.0"/><circle cx="175.33" cy="466.00" r="5.3" fill="#1f77b4"/>
<path d="M180.62 430.79V463.52" stroke="#1f77b4" stroke-width="4.0"/><circle cx="180.62" cy="447.16" r="5.3" fill="#1f77b4"/>
<path d="M182.50 434.92V466.72" stroke="#1f77b4" stroke-width="4.0"/><circle cx="182.50" cy="450.82" r="5.3" fill="#1f77b4"/>
<path d="M182.77 462.43V495.03" stroke="#1f77b4" stroke-width="4.0"/><circle cx="182.77" cy="478.73" r="5.3" fill="#1f77b4"/>
<path d="M183.89 449.83V488.50" stroke="#1f77b4" stroke-width="4.0"/><circle cx="183.89" cy="469.17" r="5.3" fill="#1f77b4"/>
<path d="M183.90 396.03V434.23" stroke="#1f77b4" stroke-width="4.0"/><circle cx="183.90" cy="415.13" r="5.3" fill="#1f77b4"/>
<path d="M184.30 441.53V472.56" stroke="#1f77b4" stroke-width="4.0"/><circle cx="184.30" cy="457.05" r="5.3" fill="#1f77b4"/>
<path d="M184.41 450.63V484.14" stroke="#1f77b4" stroke-width="4.0"/><circle cx="184.41" cy="467.39" r="5.3" fill="#1f77b4"/>
<path d="M186.83 399.29V436.72" stroke="#1f77b4" stroke-width="4.0"/><circle cx="186.83" cy="418.01" r="5.3" fill="#1f77b4"/>
<path d="M187.39 446.79V485.67" stroke="#1f77b4" stroke-width="4.0"/><circle cx="187.39" cy="466.23" r="5.3" fill="#1f77b4"/>
<path d="M188.17 468.21V503.94" stroke="#1f77b4" stroke-width="4.0"/><circle cx="188.17" cy="486.07" r="5.3" fill="#1f77b4"/>
<path d="M189.26 428.97V466.45" stroke="#1f77b4" stroke-width="4.0"/><circle cx="189.26" cy="447.71" r="5.3" fill="#1f77b4"/>
<path d="M191.83 466.36V498.69" stroke="#1f77b4" stroke-width="4.0"/><circle cx="191.83" cy="482.52" r="5.3" fill="#1f77b4"/>
<path d="M192.93 454.31V492.37" stroke="#1f77b4" stroke-width="4.0"/><circle cx="192.93" cy="473.34" r="5.3" fill="#1f77b4"/>
<path d="M194.18 436.82V475.29" stroke="#1f77b4" stroke-width="4.0"/><circle cx="194.18" cy="456.06" r="5.3" fill="#1f77b4"/>
<path d="M196.30 452.09V486.21" stroke="#1f77b4" stroke-width="4.0"/><circle cx="196.30" cy="469.15" r="5.3" fill="#1f77b4"/>
<path d="M196.92 467.20V499.51" stroke="#1f77b4" stroke-width="4.0"/><circle cx="196.92" cy="483.35" r="5.3" fill="#1f77b4"/>
<path d="M200.36 460.44V490.62" stroke="#1f77b4" stroke-width="4.0"/><circle cx="200.36" cy="475.53" r="5.3" fill="#1f77b4"/>
<path d="M203.68 457.38V493.84" stroke="#1f77b4" stroke-width="4.0"/><circle cx="203.68" cy="475.61" r="5.3" fill="#1f77b4"/>
<path d="M204.63 417.91V454.40" stroke="#1f77b4" stroke-width="4.0"/><circle cx="204.63" cy="436.15" r="5.3" fill="#1f77b4"/>
<path d="M209.59 466.26V496.10" stroke="#1f77b4" stroke-width="4.0"/><circle cx="209.59" cy="481.18" r="5.3" fill="#1f77b4"/>
<path d="M210.41 462.46V497.77" stroke="#1f77b4" stroke-width="4.0"/><circle cx="210.41" cy="480.12" r="5.3" fill="#1f77b4"/>
<path d="M210.93 403.72V443.43" stroke="#1f77b4" stroke-width="4.0"/><circle cx="210.93" cy="423.57" r="5.3" fill="#1f77b4"/>
<path d="M214.27 463.91V494.05" stroke="#1f77b4" stroke-width="4.0"/><circle cx="214.27" cy="478.98" r="5.3" fill="#1f77b4"/>
<path d="M214.68 413.35V444.63" stroke="#1f77b4" stroke-width="4.0"/><circle cx="214.68" cy="428.99" r="5.3" fill="#1f77b4"/>
<path d="M214.82 419.35V449.79" stroke="#1f77b4" stroke-width="4.0"/><circle cx="214.82" cy="434.57" r="5.3" fill="#1f77b4"/>
<path d="M214.92 451.30V485.73" stroke="#1f77b4" stroke-width="4.0"/><circle cx="214.92" cy="468.51" r="5.3" fill="#1f77b4"/>
<path d="M217.20 478.89V512.77" stroke="#1f77b4" stroke-width="4.0"/><circle cx="217.20" cy="495.83" r="5.3" fill="#1f77b4"/>
<path d="M217.98 434.19V473.18" stroke="#1f77b4" stroke-width="4.0"/><circle cx="217.98" cy="453.69" r="5.3" fill="#1f77b4"/>
<path d="M223.78 432.32V462.85" stroke="#1f77b4" stroke-width="4.0"/><circle cx="223.78" cy="447.59" r="5.3" fill="#1f77b4"/>
<path d="M224.51 422.14V454.08" stroke="#1f77b4" stroke-width="4.0"/><circle cx="224.51" cy="438.11" r="5.3" fill="#1f77b4"/>
<path d="M227.33 439.92V479.63" stroke="#1f77b4" stroke-width="4.0"/><circle cx="227.33" cy="459.78" r="5.3" fill="#1f77b4"/>
<path d="M229.76 419.75V449.78" stroke="#1f77b4" stroke-width="4.0"/><circle cx="229.76" cy="434.76" r="5.3" fill="#1f77b4"/>
<path d="M229.97 414.65V447.21" stroke="#1f77b4" stroke-width="4.0"/><circle cx="229.97" cy="430.93" r="5.3" fill="#1f77b4"/>
<path d="M232.21 469.22V503.20" stroke="#1f77b4" stroke-width="4.0"/><circle cx="232.21" cy="486.21" r="5.3" fill="#1f77b4"/>
<path d="M233.59 414.34V444.17" stroke="#1f77b4" stroke-width="4.0"/><circle cx="233.59" cy="429.26" r="5.3" fill="#1f77b4"/>
<path d="M235.14 443.42V476.28" stroke="#1f77b4" stroke-width="4.0"/><circle cx="235.14" cy="459.85" r="5.3" fill="#1f77b4"/>
<path d="M237.65 459.28V495.46" stroke="#1f77b4" stroke-width="4.0"/><circle cx="237.65" cy="477.37" r="5.3" fill="#1f77b4"/>
<path d="M247.43 454.94V491.25" stroke="#1f77b4" stroke-width="4.0"/><circle cx="247.43" cy="473.09" r="5.3" fill="#1f77b4"/>
<path d="M252.96 403.94V440.18" stroke="#1f77b4" stroke-width="4.0"/><circle cx="252.96" cy="422.06" r="5.3" fill="#1f77b4"/>
<path d="M253.30 426.53V463.21" stroke="#1f77b4" stroke-width="4.0"/><circle cx="253.30" cy="444.87" r="5.3" fill="#1f77b4"/>
<path d="M254.67 487.54V523.84" stroke="#1f77b4" stroke-width="4.0"/><circle cx="254.67" cy="505.69" r="5.3" fill="#1f77b4"/>
<path d="M256.87 451.91V482.10" stroke="#1f77b4" stroke-width="4.0"/><circle cx="256.87" cy="467.00" r="5.3" fill="#1f77b4"/>
<path d="M262.49 452.86V489.59" stroke="#1f77b4" stroke-width="4.0"/><circle cx="262.49" cy="471.23" r="5.3" fill="#1f77b4"/>
<path d="M262.51 456.27V492.24" stroke="#1f77b4" stroke-width="4.0"/><circle cx="262.51" cy="474.26" r="5.3" fill="#1f77b4"/>
<path d="M262.94 465.83V497.95" stroke="#1f77b4" stroke-width="4.0"/><circle cx="262.94" cy="481.89" r="5.3" fill="#1f77b4"/>
<path d="M263.60 482.78V517.03" stroke="#1f77b4" stroke-width="4.0"/><circle cx="263.60" cy="499.91" r="5.3" fill="#1f77b4"/>
<path d="M263.75 429.96V462.30" stroke="#1f77b4" stroke-width="4.0"/><circle cx="263.75" cy="446.13" r="5.3" fill="#1f77b4"/>
<path d="M264.56 466.68V505.65" stroke="#1f77b4" stroke-width="4.0"/><circle cx="264.56" cy="486.17" r="5.3" fill="#1f77b4"/>
<path d="M265.27 456.80V489.56" stroke="#1f77b4" stroke-width="4.0"/><circle cx="265.27" cy="473.18" r="5.3" fill="#1f77b4"/>
<path d="M268.04 464.68V496.23" stroke="#1f77b4" stroke-width="4.0"/><circle cx="268.04" cy="480.45" r="5.3" fill="#1f77b4"/>
<path d="M270.96 461.45V499.67" stroke="#1f77b4" stroke-width="4.0"/><circle cx="270.96" cy="480.56" r="5.3" fill="#1f77b4"/>
<path d="M271.04 427.98V465.82" stroke="#1f77b4" stroke-width="4.0"/><circle cx="271.04" cy="446.90" r="5.3" fill="#1f77b4"/>
<path d="M271.10 436.66V475.46" stroke="#1f77b4" stroke-width="4.0"/><circle cx="271.10" cy="456.06" r="5.3" fill="#1f77b4"/>
<path d="M275.61 463.83V500.79" stroke="#1f77b4" stroke-width="4.0"/><circle cx="275.61" cy="482.31" r="5.3" fill="#1f77b4"/>
<path d="M275.86 468.09V502.30" stroke="#1f77b4" stroke-width="4.0"/><circle cx="275.86" cy="485.19" r="5.3" fill="#1f77b4"/>
<path d="M275.92 456.61V491.45" stroke="#1f77b4" stroke-width="4.0"/><circle cx="275.92" cy="474.03" r="5.3" fill="#1f77b4"/>
<path d="M278.86 423.15V458.82" stroke="#1f77b4" stroke-width="4.0"/><circle cx="278.86" cy="440.99" r="5.3" fill="#1f77b4"/>
<path d="M279.05 443.29V479.39" stroke="#1f77b4" stroke-width="4.0"/><circle cx="279.05" cy="461.34" r="5.3" fill="#1f77b4"/>
<path d="M280.49 436.12V475.90" stroke="#1f77b4" stroke-width="4.0"/><circle cx="280.49" cy="456.01" r="5.3" fill="#1f77b4"/>
<path d="M283.29 451.38V484.01" stroke="#1f77b4" stroke-width="4.0"/><circle cx="283.29" cy="467.70" r="5.3" fill="#1f77b4"/>
<path d="M283.55 447.60V485.52" stroke="#1f77b4" stroke-width="4.0"/><circle cx="283.55" cy="466.56" r="5.3" fill="#1f77b4"/>
<path d="M284.62 440.51V470.51" stroke="#1f77b4" stroke-width="4.0"/><circle cx="284.62" cy="455.51" r="5.3" fill="#1f77b4"/>
<path d="M287.95 486.73V518.56" stroke="#1f77b4" stroke-width="4.0"/><circle cx="287.95" cy="502.65" r="5.3" fill="#1f77b4"/>
<path d="M288.45 406.24V446.02" stroke="#1f77b4" stroke-width="4.0"/><circle cx="288.45" cy="426.13" r="5.3" fill="#1f77b4"/>
<path d="M288.48 463.15V495.62" stroke="#1f77b4" stroke-width="4.0"/><circle cx="288.48" cy="479.39" r="5.3" fill="#1f77b4"/>
<path d="M288.54 456.24V491.45" stroke="#1f77b4" stroke-width="4.0"/><circle cx="288.54" cy="473.85" r="5.3" fill="#1f77b4"/>
<path d="M290.96 410.75V450.23" stroke="#1f77b4" stroke-width="4.0"/><circle cx="290.96" cy="430.49" r="5.3" fill="#1f77b4"/>
<path d="M291.12 438.23V474.95" stroke="#1f77b4" stroke-width="4.0"/><circle cx="291.12" cy="456.59" r="5.3" fill="#1f77b4"/>
<path d="M293.54 443.16V478.14" stroke="#1f77b4" stroke-width="4.0"/><circle cx="293.54" cy="460.65" r="5.3" fill="#1f77b4"/>
<path d="M295.32 457.88V495.10" stroke="#1f77b4" stroke-width="4.0"/><circle cx="295.32" cy="476.49" r="5.3" fill="#1f77b4"/>
<path d="M297.64 479.30V519.43" stroke="#1f77b4" stroke-width="4.0"/><circle cx="297.64" cy="499.36" r="5.3" fill="#1f77b4"/>
<path d="M298.79 441.97V481.71" stroke="#1f77b4" stroke-width="4.0"/><circle cx="298.79" cy="461.84" r="5.3" fill="#1f77b4"/>
<path d="M307.14 424.35V456.09" stroke="#1f77b4" stroke-width="4.0"/><circle cx="307.14" cy="440.22" r="5.3" fill="#1f77b4"/>
<path d="M307.96 473.68V504.99" stroke="#1f77b4" stroke-width="4.0"/><circle cx="307.96" cy="489.33" r="5.3" fill="#1f77b4"/>
<path d="M312.76 423.63V456.49" stroke="#1f77b4" stroke-width="4.0"/><circle cx="312.76" cy="440.06" r="5.3" fill="#1f77b4"/>
<path d="M317.13 484.76V516.12" stroke="#1f77b4" stroke-width="4.0"/><circle cx="317.13" cy="500.44" r="5.3" fill="#1f77b4"/>
<path d="M321.21 472.46V510.33" stroke="#1f77b4" stroke-width="4.0"/><circle cx="321.21" cy="491.39" r="5.3" fill="#1f77b4"/>
<path d="M322.37 440.80V479.41" stroke="#1f77b4" stroke-width="4.0"/><circle cx="322.37" cy="460.10" r="5.3" fill="#1f77b4"/>
<path d="M324.20 457.42V488.73" stroke="#1f77b4" stroke-width="4.0"/><circle cx="324.20" cy="473.07" r="5.3" fill="#1f77b4"/>
<path d="M326.47 439.09V469.69" stroke="#1f77b4" stroke-width="4.0"/><circle cx="326.47" cy="454.39" r="5.3" fill="#1f77b4"/>
<path d="M334.28 472.44V505.68" stroke="#1f77b4" stroke-width="4.0"/><circle cx="334.28" cy="489.06" r="5.3" fill="#1f77b4"/>
<path d="M334.33 477.96V515.02" stroke="#1f77b4" stroke-width="4.0"/><circle cx="334.33" cy="496.49" r="5.3" fill="#1f77b4"/>
<path d="M336.13 494.35V532.29" stroke="#1f77b4" stroke-width="4.0"/><circle cx="336.13" cy="513.32" r="5.3" fill="#1f77b4"/>
<path d="M341.54 483.17V517.85" stroke="#1f77b4" stroke-width="4.0"/><circle cx="341.54" cy="500.51" r="5.3" fill="#1f77b4"/>
<path d="M345.87 475.29V511.85" stroke="#1f77b4" stroke-width="4.0"/><circle cx="345.87" cy="493.57" r="5.3" fill="#1f77b4"/>
<path d="M348.77 481.22V520.71" stroke="#1f77b4" stroke-width="4.0"/><circle cx="348.77" cy="500.97" r="5.3" fill="#1f77b4"/>
<path d="M352.37 441.72V480.81" stroke="#1f77b4" stroke-width="4.0"/><circle cx="352.37" cy="461.26" r="5.3" fill="#1f77b4"/>
<path d="M355.96 466.12V497.18" stroke="#1f77b4" stroke-width="4.0"/><circle cx="355.96" cy="481.65" r="5.3" fill="#1f77b4"/>
<path d="M356.59 495.21V532.55" stroke="#1f77b4" stroke-width="4.0"/><circle cx="356.59" cy="513.88" r="5.3" fill="#1f77b4"/>
<path d="M357.32 394.73V432.73" stroke="#1f77b4" stroke-width="4.0"/><circle cx="357.32" cy="413.73" r="5.3" fill="#1f77b4"/>
<path d="M359.84 464.76V504.15" stroke="#1f77b4" stroke-width="4.0"/><circle cx="359.84" cy="484.45" r="5.3" fill="#1f77b4"/>
<path d="M364.83 480.49V514.72" stroke="#1f77b4" stroke-width="4.0"/><circle cx="364.83" cy="497.61" r="5.3" fill="#1f77b4"/>
<path d="M366.58 429.66V461.13" stroke="#1f77b4" stroke-width="4.0"/><circle cx="366.58" cy="445.39" r="5.3" fill="#1f77b4"/>
<path d="M367.00 427.21V462.03" stroke="#1f77b4" stroke-width="4.0"/><circle cx="367.00" cy="444.62" r="5.3" fill="#1f77b4"/>
<path d="M374.27 481.01V514.74" stroke="#1f77b4" stroke-width="4.0"/><circle cx="374.27" cy="497.88" r="5.3" fill="#1f77b4"/>
<path d="M380.70 485.09V519.07" stroke="#1f77b4" stroke-width="4.0"/><circle cx="380.70" cy="502.08" r="5.3" fill="#1f77b4"/>
<path d="M382.16 472.23V510.51" stroke="#1f77b4" stroke-width="4.0"/><circle cx="382.16" cy="491.37" r="5.3" fill="#1f77b4"/>
<path d="M389.09 425.97V462.67" stroke="#1f77b4" stroke-width="4.0"/><circle cx="389.09" cy="444.32" r="5.3" fill="#1f77b4"/>
<path d="M390.79 455.38V492.37" stroke="#1f77b4" stroke-width="4.0"/><circle cx="390.79" cy="473.88" r="5.3" fill="#1f77b4"/>
<path d="M392.75 469.20V505.91" stroke="#1f77b4" stroke-width="4.0"/><circle cx="392.75" cy="487.56" r="5.3" fill="#1f77b4"/>
<path d="M393.79 455.55V486.87" stroke="#1f77b4" stroke-width="4.0"/><circle cx="393.79" cy="471.21" r="5.3" fill="#1f77b4"/>
<path d="M394.79 425.53V455.97" stroke="#1f77b4" stroke-width="4.0"/><circle cx="394.79" cy="440.75" r="5.3" fill="#1f77b4"/>
<path d="M399.43 479.13V513.12" stroke="#1f77b4" stroke-width="4.0"/><circle cx="399.43" cy="496.13" r="5.3" fill="#1f77b4"/>
<path d="M407.35 451.45V490.23" stroke="#1f77b4" stroke-width="4.0"/><circle cx="407.35" cy="470.84" r="5.3" fill="#1f77b4"/>
<path d="M411.83 474.75V511.41" stroke="#1f77b4" stroke-width="4.0"/><circle cx="411.83" cy="493.08" r="5.3" fill="#1f77b4"/>
<path d="M412.52 394.59V432.76" stroke="#1f77b4" stroke-width="4.0"/><circle cx="412.52" cy="413.68" r="5.3" fill="#1f77b4"/>
<path d="M412.54 403.70V440.08" stroke="#1f77b4" stroke-width="4.0"/><circle cx="412.54" cy="421.89" r="5.3" fill="#1f77b4"/>
<path d="M414.27 421.72V459.81" stroke="#1f77b4" stroke-width="4.0"/><circle cx="414.27" cy="440.76" r="5.3" fill="#1f77b4"/>
<path d="M420.19 446.80V487.12" stroke="#1f77b4" stroke-width="4.0"/><circle cx="420.19" cy="466.96" r="5.3" fill="#1f77b4"/>
<path d="M420.29 428.46V465.80" stroke="#1f77b4" stroke-width="4.0"/><circle cx="420.29" cy="447.13" r="5.3" fill="#1f77b4"/>
<path d="M420.34 490.71V529.61" stroke="#1f77b4" stroke-width="4.0"/><circle cx="420.34" cy="510.16" r="5.3" fill="#1f77b4"/>
<path d="M425.91 435.75V475.82" stroke="#1f77b4" stroke-width="4.0"/><circle cx="425.91" cy="455.78" r="5.3" fill="#1f77b4"/>
<path d="M430.04 472.41V510.04" stroke="#1f77b4" stroke-width="4.0"/><circle cx="430.04" cy="491.23" r="5.3" fill="#1f77b4"/>
<path d="M431.78 476.22V514.61" stroke="#1f77b4" stroke-width="4.0"/><circle cx="431.78" cy="495.42" r="5.3" fill="#1f77b4"/>
<path d="M432.39 464.53V495.19" stroke="#1f77b4" stroke-width="4.0"/><circle cx="432.39" cy="479.86" r="5.3" fill="#1f77b4"/>
<path d="M432.87 453.87V484.09" stroke="#1f77b4" stroke-width="4.0"/><circle cx="432.87" cy="468.98" r="5.3" fill="#1f77b4"/>
<path d="M436.91 431.13V470.68" stroke="#1f77b4" stroke-width="4.0"/><circle cx="436.91" cy="450.90" r="5.3" fill="#1f77b4"/>
<path d="M441.95 433.40V465.74" stroke="#1f77b4" stroke-width="4.0"/><circle cx="441.95" cy="449.57" r="5.3" fill="#1f77b4"/>
<path d="M442.91 442.21V475.26" stroke="#1f77b4" stroke-width="4.0"/><circle cx="442.91" cy="458.73" r="5.3" fill="#1f77b4"/>
<path d="M446.06 472.28V503.54" stroke="#1f77b4" stroke-width="4.0"/><circle cx="446.06" cy="487.91" r="5.3" fill="#1f77b4"/>
<path d="M446.09 432.67V469.18" stroke="#1f77b4" stroke-width="4.0"/><circle cx="446.09" cy="450.93" r="5.3" fill="#1f77b4"/>
<path d="M447.81 448.91V479.06" stroke="#1f77b4" stroke-width="4.0"/><circle cx="447.81" cy="463.99" r="5.3" fill="#1f77b4"/>
<path d="M450.14 415.23V453.48" stroke="#1f77b4" stroke-width="4.0"/><circle cx="450.14" cy="434.36" r="5.3" fill="#1f77b4"/>
<path d="M451.58 463.54V496.51" stroke="#1f77b4" stroke-width="4.0"/><circle cx="451.58" cy="480.02" r="5.3" fill="#1f77b4"/>
<path d="M452.35 505.11V542.77" stroke="#1f77b4" stroke-width="4.0"/><circle cx="452.35" cy="523.94" r="5.3" fill="#1f77b4"/>
<path d="M452.54 456.20V495.62" stroke="#1f77b4" stroke-width="4.0"/><circle cx="452.54" cy="475.91" r="5.3" fill="#1f77b4"/>
<path d="M452.81 398.34V435.44" stroke="#1f77b4" stroke-width="4.0"/><circle cx="452.81" cy="416.89" r="5.3" fill="#1f77b4"/>
<path d="M455.46 435.69V470.00" stroke="#1f77b4" stroke-width="4.0"/><circle cx="455.46" cy="452.85" r="5.3" fill="#1f77b4"/>
<path d="M457.27 447.65V484.06" stroke="#1f77b4" stroke-width="4.0"/><circle cx="457.27" cy="465.85" r="5.3" fill="#1f77b4"/>
<path d="M458.88 421.78V460.61" stroke="#1f77b4" stroke-width="4.0"/><circle cx="458.88" cy="441.19" r="5.3" fill="#1f77b4"/>
<path d="M460.04 434.16V471.48" stroke="#1f77b4" stroke-width="4.0"/><circle cx="460.04" cy="452.82" r="5.3" fill="#1f77b4"/>
<path d="M468.07 439.54V472.03" stroke="#1f77b4" stroke-width="4.0"/><circle cx="468.07" cy="455.79" r="5.3" fill="#1f77b4"/>
<path d="M469.00 463.94V493.85" stroke="#1f77b4" stroke-width="4.0"/><circle cx="469.00" cy="478.89" r="5.3" fill="#1f77b4"/>
<path d="M472.53 448.62V487.72" stroke="#1f77b4" stroke-width="4.0"/><circle cx="472.53" cy="468.17" r="5.3" fill="#1f77b4"/>
<path d="M473.26 444.36V480.76" stroke="#1f77b4" stroke-width="4.0"/><circle cx="473.26" cy="462.56" r="5.3" fill="#1f77b4"/>
<path d="M476.42 469.45V499.95" stroke="#1f77b4" stroke-width="4.0"/><circle cx="476.42" cy="484.70" r="5.3" fill="#1f77b4"/>
<path d="M478.06 478.04V513.67" stroke="#1f77b4" stroke-width="4.0"/><circle cx="478.06" cy="495.86" r="5.3" fill="#1f77b4"/>
<path d="M479.37 451.01V487.04" stroke="#1f77b4" stroke-width="4.0"/><circle cx="479.37" cy="469.02" r="5.3" fill="#1f77b4"/>
<path d="M479.84 433.28V466.20" stroke="#1f77b4" stroke-width="4.0"/><circle cx="479.84" cy="449.74" r="5.3" fill="#1f77b4"/>
<path d="M483.42 439.46V478.62" stroke="#1f77b4" stroke-width="4.0"/><circle cx="483.42" cy="459.04" r="5.3" fill="#1f77b4"/>
<path d="M484.60 444.48V476.84" stroke="#1f77b4" stroke-width="4.0"/><circle cx="484.60" cy="460.66" r="5.3" fill="#1f77b4"/>
<path d="M485.48 443.11V474.45" stroke="#1f77b4" stroke-width="4.0"/><circle cx="485.48" cy="458.78" r="5.3" fill="#1f77b4"/>
<path d="M491.17 396.73V429.82" stroke="#1f77b4" stroke-width="4.0"/><circle cx="491.17" cy="413.27" r="5.3" fill="#1f77b4"/>
<path d="M492.26 447.57V480.96" stroke="#1f77b4" stroke-width="4.0"/><circle cx="492.26" cy="464.26" r="5.3" fill="#1f77b4"/>
<path d="M492.86 430.47V469.61" stroke="#1f77b4" stroke-width="4.0"/><circle cx="492.86" cy="450.04" r="5.3" fill="#1f77b4"/>
<path d="M494.99 408.72V445.47" stroke="#1f77b4" stroke-width="4.0"/><circle cx="494.99" cy="427.10" r="5.3" fill="#1f77b4"/>
<path d="M502.84 450.14V481.25" stroke="#1f77b4" stroke-width="4.0"/><circle cx="502.84" cy="465.70" r="5.3" fill="#1f77b4"/>
<path d="M504.10 444.28V478.26" stroke="#1f77b4" stroke-width="4.0"/><circle cx="504.10" cy="461.27" r="5.3" fill="#1f77b4"/>
<path d="M508.93 426.46V457.38" stroke="#1f77b4" stroke-width="4.0"/><circle cx="508.93" cy="441.92" r="5.3" fill="#1f77b4"/>
<path d="M508.95 410.84V448.10" stroke="#1f77b4" stroke-width="4.0"/><circle cx="508.95" cy="429.47" r="5.3" fill="#1f77b4"/>
<path d="M509.08 440.73V479.56" stroke="#1f77b4" stroke-width="4.0"/><circle cx="509.08" cy="460.14" r="5.3" fill="#1f77b4"/>
<path d="M514.62 446.43V477.24" stroke="#1f77b4" stroke-width="4.0"/><circle cx="514.62" cy="461.83" r="5.3" fill="#1f77b4"/>
<path d="M518.40 448.77V483.86" stroke="#1f77b4" stroke-width="4.0"/><circle cx="518.40" cy="466.32" r="5.3" fill="#1f77b4"/>
<path d="M518.52 479.36V511.76" stroke="#1f77b4" stroke-width="4.0"/><circle cx="518.52" cy="495.56" r="5.3" fill="#1f77b4"/>
<path d="M519.30 427.13V459.96" stroke="#1f77b4" stroke-width="4.0"/><circle cx="519.30" cy="443.54" r="5.3" fill="#1f77b4"/>
<path d="M521.72 453.92V491.61" stroke="#1f77b4" stroke-width="4.0"/><circle cx="521.72" cy="472.77" r="5.3" fill="#1f77b4"/>
<path d="M524.00 486.29V526.41" stroke="#1f77b4" stroke-width="4.0"/><circle cx="524.00" cy="506.35" r="5.3" fill="#1f77b4"/>
<path d="M527.85 454.62V487.39" stroke="#1f77b4" stroke-width="4.0"/><circle cx="527.85" cy="471.00" r="5.3" fill="#1f77b4"/>
<path d="M527.92 486.68V522.22" stroke="#1f77b4" stroke-width="4.0"/><circle cx="527.92" cy="504.45" r="5.3" fill="#1f77b4"/>
<path d="M532.03 470.21V503.31" stroke="#1f77b4" stroke-width="4.0"/><circle cx="532.03" cy="486.76" r="5.3" fill="#1f77b4"/>
<path d="M533.11 450.36V480.84" stroke="#1f77b4" stroke-width="4.0"/><circle cx="533.11" cy="465.60" r="5.3" fill="#1f77b4"/>
<path d="M533.25 469.00V505.17" stroke="#1f77b4" stroke-width="4.0"/><circle cx="533.25" cy="487.08" r="5.3" fill="#1f77b4"/>
<path d="M533.72 426.11V457.58" stroke="#1f77b4" stroke-width="4.0"/><circle cx="533.72" cy="441.85" r="5.3" fill="#1f77b4"/>
<path d="M535.19 479.59V516.66" stroke="#1f77b4" stroke-width="4.0"/><circle cx="535.19" cy="498.13" r="5.3" fill="#1f77b4"/>
<path d="M542.14 440.63V478.33" stroke="#1f77b4" stroke-width="4.0"/><circle cx="542.14" cy="459.48" r="5.3" fill="#1f77b4"/>
<path d="M546.93 433.52V464.85" stroke="#1f77b4" stroke-width="4.0"/><circle cx="546.93" cy="449.19" r="5.3" fill="#1f77b4"/>
<path d="M549.75 410.76V446.86" stroke="#1f77b4" stroke-width="4.0"/><circle cx="549.75" cy="428.81" r="5.3" fill="#1f77b4"/>
<path d="M550.92 425.66V457.69" stroke="#1f77b4" stroke-width="4.0"/><circle cx="550.92" cy="441.67" r="5.3" fill="#1f77b4"/>
<path d="M554.56 440.74V478.60" stroke="#1f77b4" stroke-width="4.0"/><circle cx="554.56" cy="459.67" r="5.3" fill="#1f77b4"/>
<path d="M556.89 444.66V477.50" stroke="#1f77b4" stroke-width="4.0"/><circle cx="556.89" cy="461.08" r="5.3" fill="#1f77b4"/>
<path d="M558.28 444.85V481.94" stroke="#1f77b4" stroke-width="4.0"/><circle cx="558.28" cy="463.40" r="5.3" fill="#1f77b4"/>
<path d="M558.62 417.72V454.37" stroke="#1f77b4" stroke-width="4.0"/><circle cx="558.62" cy="436.04" r="5.3" fill="#1f77b4"/>
<path d="M559.42 457.48V493.37" stroke="#1f77b4" stroke-width="4.0"/><circle cx="559.42" cy="475.42" r="5.3" fill="#1f77b4"/>
<path d="M559.53 436.76V468.88" stroke="#1f77b4" stroke-width="4.0"/><circle cx="559.53" cy="452.82" r="5.3" fill="#1f77b4"/>
<path d="M561.72 448.07V486.69" stroke="#1f77b4" stroke-width="4.0"/><circle cx="561.72" cy="467.38" r="5.3" fill="#1f77b4"/>
<path d="M566.16 443.60V477.16" stroke="#1f77b4" stroke-width="4.0"/><circle cx="566.16" cy="460.38" r="5.3" fill="#1f77b4"/>
<path d="M569.09 454.83V492.77" stroke="#1f77b4" stroke-width="4.0"/><circle cx="569.09" cy="473.80" r="5.3" fill="#1f77b4"/>
<path d="M569.59 400.73V435.56" stroke="#1f77b4" stroke-width="4.0"/><circle cx="569.59" cy="418.14" r="5.3" fill="#1f77b4"/>
<path d="M569.88 464.57V499.12" stroke="#1f77b4" stroke-width="4.0"/><circle cx="569.88" cy="481.84" r="5.3" fill="#1f77b4"/>
<path d="M574.67 440.86V478.19" stroke="#1f77b4" stroke-width="4.0"/><circle cx="574.67" cy="459.53" r="5.3" fill="#1f77b4"/>
<path d="M575.02 443.71V477.13" stroke="#1f77b4" stroke-width="4.0"/><circle cx="575.02" cy="460.42" r="5.3" fill="#1f77b4"/>
<path d="M578.99 434.26V472.13" stroke="#1f77b4" stroke-width="4.0"/><circle cx="578.99" cy="453.20" r="5.3" fill="#1f77b4"/>
<path d="M582.55 440.60V475.11" stroke="#1f77b4" stroke-width="4.0"/><circle cx="582.55" cy="457.85" r="5.3" fill="#1f77b4"/>
<path d="M584.30 438.87V476.50" stroke="#1f77b4" stroke-width="4.0"/><circle cx="584.30" cy="457.69" r="5.3" fill="#1f77b4"/>
<path d="M588.77 426.72V463.89" stroke="#1f77b4" stroke-width="4.0"/><circle cx="588.77" cy="445.31" r="5.3" fill="#1f77b4"/>
<path d="M593.13 482.73V522.52" stroke="#1f77b4" stroke-width="4.0"/><circle cx="593.13" cy="502.62" r="5.3" fill="#1f77b4"/>
<path d="M596.54 452.23V486.36" stroke="#1f77b4" stroke-width="4.0"/><circle cx="596.54" cy="469.29" r="5.3" fill="#1f77b4"/>
<path d="M599.16 480.14V513.64" stroke="#1f77b4" stroke-width="4.0"/><circle cx="599.16" cy="496.89" r="5.3" fill="#1f77b4"/>
<path d="M599.19 443.46V483.77" stroke="#1f77b4" stroke-width="4.0"/><circle cx="599.19" cy="463.62" r="5.3" fill="#1f77b4"/>
<path d="M602.49 477.47V512.74" stroke="#1f77b4" stroke-width="4.0"/><circle cx="602.49" cy="495.11" r="5.3" fill="#1f77b4"/>
<path d="M602.88 472.07V506.30" stroke="#1f77b4" stroke-width="4.0"/><circle cx="602.88" cy="489.18" r="5.3" fill="#1f77b4"/>
<path d="M603.94 450.97V488.18" stroke="#1f77b4" stroke-width="4.0"/><circle cx="603.94" cy="469.58" r="5.3" fill="#1f77b4"/>
<path d="M604.10 423.06V455.52" stroke="#1f77b4" stroke-width="4.0"/><circle cx="604.10" cy="439.29" r="5.3" fill="#1f77b4"/>
<path d="M607.56 436.50V476.42" stroke="#1f77b4" stroke-width="4.0"/><circle cx="607.56" cy="456.46" r="5.3" fill="#1f77b4"/>
<path d="M609.08 442.20V479.97" stroke="#1f77b4" stroke-width="4.0"/><circle cx="609.08" cy="461.08" r="5.3" fill="#1f77b4"/>
<path d="M610.91 416.98V453.64" stroke="#1f77b4" stroke-width="4.0"/><circle cx="610.91" cy="435.31" r="5.3" fill="#1f77b4"/>
<path d="M612.50 470.18V503.08" stroke="#1f77b4" stroke-width="4.0"/><circle cx="612.50" cy="486.63" r="5.3" fill="#1f77b4"/>
<path d="M620.01 492.19V530.55" stroke="#1f77b4" stroke-width="4.0"/><circle cx="620.01" cy="511.37" r="5.3" fill="#1f77b4"/>
<path d="M622.27 451.16V490.67" stroke="#1f77b4" stroke-width="4.0"/><circle cx="622.27" cy="470.92" r="5.3" fill="#1f77b4"/>
<path d="M626.37 449.86V488.02" stroke="#1f77b4" stroke-width="4.0"/><circle cx="626.37" cy="468.94" r="5.3" fill="#1f77b4"/>
<path d="M630.13 415.21V454.64" stroke="#1f77b4" stroke-width="4.0"/><circle cx="630.13" cy="434.92" r="5.3" fill="#1f77b4"/>
<path d="M633.09 398.06V428.87" stroke="#1f77b4" stroke-width="4.0"/><circle cx="633.09" cy="413.46" r="5.3" fill="#1f77b4"/>
<path d="M633.75 474.82V512.45" stroke="#1f77b4" stroke-width="4.0"/><circle cx="633.75" cy="493.64" r="5.3" fill="#1f77b4"/>
<path d="M635.00 387.43V426.38" stroke="#1f77b4" stroke-width="4.0"/><circle cx="635.00" cy="406.90" r="5.3" fill="#1f77b4"/>
<path d="M635.09 409.18V444.03" stroke="#1f77b4" stroke-width="4.0"/><circle cx="635.09" cy="426.61" r="5.3" fill="#1f77b4"/>
<path d="M638.52 426.91V457.59" stroke="#1f77b4" stroke-width="4.0"/><circle cx="638.52" cy="442.25" r="5.3" fill="#1f77b4"/>
<path d="M638.66 432.31V467.86" stroke="#1f77b4" stroke-width="4.0"/><circle cx="638.66" cy="450.08" r="5.3" fill="#1f77b4"/>
<path d="M641.00 386.58V418.97" stroke="#1f77b4" stroke-width="4.0"/><circle cx="641.00" cy="402.77" r="5.3" fill="#1f77b4"/>
<path d="M641.80 441.12V471.29" stroke="#1f77b4" stroke-width="4.0"/><circle cx="641.80" cy="456.20" r="5.3" fill="#1f77b4"/>
<path d="M644.41 452.88V492.56" stroke="#1f77b4" stroke-width="4.0"/><circle cx="644.41" cy="472.72" r="5.3" fill="#1f77b4"/>
<path d="M647.71 442.54V481.13" stroke="#1f77b4" stroke-width="4.0"/><circle cx="647.71" cy="461.84" r="5.3" fill="#1f77b4"/>
<path d="M648.56 477.32V513.83" stroke="#1f77b4" stroke-width="4.0"/><circle cx="648.56" cy="495.58" r="5.3" fill="#1f77b4"/>
<path d="M653.31 436.39V474.10" stroke="#1f77b4" stroke-width="4.0"/><circle cx="653.31" cy="455.24" r="5.3" fill="#1f77b4"/>
<path d="M655.23 453.51V490.41" stroke="#1f77b4" stroke-width="4.0"/><circle cx="655.23" cy="471.96" r="5.3" fill="#1f77b4"/>
<path d="M657.26 445.95V480.66" stroke="#1f77b4" stroke-width="4.0"/><circle cx="657.26" cy="463.31" r="5.3" fill="#1f77b4"/>
<path d="M657.81 448.97V480.08" stroke="#1f77b4" stroke-width="4.0"/><circle cx="657.81" cy="464.52" r="5.3" fill="#1f77b4"/>
<path d="M660.65 482.25V515.12" stroke="#1f77b4" stroke-width="4.0"/><circle cx="660.65" cy="498.69" r="5.3" fill="#1f77b4"/>
<path d="M668.82 428.68V463.84" stroke="#1f77b4" stroke-width="4.0"/><circle cx="668.82" cy="446.26" r="5.3" fill="#1f77b4"/>
<path d="M669.30 479.43V515.39" stroke="#1f77b4" stroke-width="4.0"/><circle cx="669.30" cy="497.41" r="5.3" fill="#1f77b4"/>
<path d="M669.31 435.56V468.56" stroke="#1f77b4" stroke-width="4.0"/><circle cx="669.31" cy="452.06" r="5.3" fill="#1f77b4"/>
<path d="M674.48 493.39V524.56" stroke="#1f77b4" stroke-width="4.0"/><circle cx="674.48" cy="508.98" r="5.3" fill="#1f77b4"/>
<path d="M675.60 446.89V480.32" stroke="#1f77b4" stroke-width="4.0"/><circle cx="675.60" cy="463.60" r="5.3" fill="#1f77b4"/>
<path d="M686.50 474.30V506.09" stroke="#1f77b4" stroke-width="4.0"/><circle cx="686.50" cy="490.20" r="5.3" fill="#1f77b4"/>
<path d="M688.86 453.49V493.12" stroke="#1f77b4" stroke-width="4.0"/><circle cx="688.86" cy="473.31" r="5.3" fill="#1f77b4"/>
<path d="M689.95 470.82V502.98" stroke="#1f77b4" stroke-width="4.0"/><circle cx="689.95" cy="486.90" r="5.3" fill="#1f77b4"/>
<path d="M690.36 504.54V538.52" stroke="#1f77b4" stroke-width="4.0"/><circle cx="690.36" cy="521.53" r="5.3" fill="#1f77b4"/>
<path d="M695.95 478.82V514.36" stroke="#1f77b4" stroke-width="4.0"/><circle cx="695.95" cy="496.59" r="5.3" fill="#1f77b4"/>
<path d="M698.33 454.07V486.56" stroke="#1f77b4" stroke-width="4.0"/><circle cx="698.33" cy="470.31" r="5.3" fill="#1f77b4"/>
<path d="M698.34 436.31V471.35" stroke="#1f77b4" stroke-width="4.0"/><circle cx="698.34" cy="453.83" r="5.3" fill="#1f77b4"/>
<path d="M698.38 480.39V516.04" stroke="#1f77b4" stroke-width="4.0"/><circle cx="698.38" cy="498.22" r="5.3" fill="#1f77b4"/>
<path d="M706.33 499.45V529.80" stroke="#1f77b4" stroke-width="4.0"/><circle cx="706.33" cy="514.62" r="5.3" fill="#1f77b4"/>
<path d="M711.94 465.10V504.91" stroke="#1f77b4" stroke-width="4.0"/><circle cx="711.94" cy="485.00" r="5.3" fill="#1f77b4"/>
<path d="M712.45 448.53V484.03" stroke="#1f77b4" stroke-width="4.0"/><circle cx="712.45" cy="466.28" r="5.3" fill="#1f77b4"/>
<path d="M712.89 461.62V492.99" stroke="#1f77b4" stroke-width="4.0"/><circle cx="712.89" cy="477.30" r="5.3" fill="#1f77b4"/>
<path d="M713.44 462.25V502.42" stroke="#1f77b4" stroke-width="4.0"/><circle cx="713.44" cy="482.34" r="5.3" fill="#1f77b4"/>
<path d="M717.49 431.68V463.28" stroke="#1f77b4" stroke-width="4.0"/><circle cx="717.49" cy="447.48" r="5.3" fill="#1f77b4"/>
<path d="M719.79 427.67V465.16" stroke="#1f77b4" stroke-width="4.0"/><circle cx="719.79" cy="446.42" r="5.3" fill="#1f77b4"/>
<path d="M724.03 436.93V471.84" stroke="#1f77b4" stroke-width="4.0"/><circle cx="724.03" cy="454.38" r="5.3" fill="#1f77b4"/>
<path d="M730.89 473.48V506.02" stroke="#1f77b4" stroke-width="4.0"/><circle cx="730.89" cy="489.75" r="5.3" fill="#1f77b4"/>
<path d="M733.85 452.33V486.15" stroke="#1f77b4" stroke-width="4.0"/><circle cx="733.85" cy="469.24" r="5.3" fill="#1f77b4"/>
<path d="M734.47 460.34V495.23" stroke="#1f77b4" stroke-width="4.0"/><circle cx="734.47" cy="477.78" r="5.3" fill="#1f77b4"/>
<path d="M736.08 489.22V522.95" stroke="#1f77b4" stroke-width="4.0"/><circle cx="736.08" cy="506.09" r="5.3" fill="#1f77b4"/>
<path d="M741.24 432.77V465.20" stroke="#1f77b4" stroke-width="4.0"/><circle cx="741.24" cy="448.98" r="5.3" fill="#1f77b4"/>
<path d="M747.28 452.62V486.83" stroke="#1f77b4" stroke-width="4.0"/><circle cx="747.28" cy="469.73" r="5.3" fill="#1f77b4"/>
<path d="M749.50 465.02V499.44" stroke="#1f77b4" stroke-width="4.0"/><circle cx="749.50" cy="482.23" r="5.3" fill="#1f77b4"/>
<path d="M750.92 417.72V454.79" stroke="#1f77b4" stroke-width="4.0"/><circle cx="750.92" cy="436.25" r="5.3" fill="#1f77b4"/>
<path d="M750.95 436.66V468.57" stroke="#1f77b4" stroke-width="4.0"/><circle cx="750.95" cy="452.61" r="5.3" fill="#1f77b4"/>
<path d="M752.96 436.79V467.10" stroke="#1f77b4" stroke-width="4.0"/><circle cx="752.96" cy="451.95" r="5.3" fill="#1f77b4"/>
<path d="M755.25 421.26V459.87" stroke="#1f77b4" stroke-width="4.0"/><circle cx="755.25" cy="440.56" r="5.3" fill="#1f77b4"/>
<path d="M756.37 439.46V470.02" stroke="#1f77b4" stroke-width="4.0"/><circle cx="756.37" cy="454.74" r="5.3" fill="#1f77b4"/>
<path d="M756.71 477.55V514.03" stroke="#1f77b4" stroke-width="4.0"/><circle cx="756.71" cy="495.79" r="5.3" fill="#1f77b4"/>
<path d="M759.38 458.14V493.75" stroke="#1f77b4" stroke-width="4.0"/><circle cx="759.38" cy="475.95" r="5.3" fill="#1f77b4"/>
<path d="M763.91 424.24V464.34" stroke="#1f77b4" stroke-width="4.0"/><circle cx="763.91" cy="444.29" r="5.3" fill="#1f77b4"/>
<path d="M766.86 466.53V498.36" stroke="#1f77b4" stroke-width="4.0"/><circle cx="766.86" cy="482.44" r="5.3" fill="#1f77b4"/>
<path d="M767.81 439.13V478.31" stroke="#1f77b4" stroke-width="4.0"/><circle cx="767.81" cy="458.72" r="5.3" fill="#1f77b4"/>
<path d="M772.46 432.49V463.69" stroke="#1f77b4" stroke-width="4.0"/><circle cx="772.46" cy="448.09" r="5.3" fill="#1f77b4"/>
<path d="M784.28 406.79V438.43" stroke="#1f77b4" stroke-width="4.0"/><circle cx="784.28" cy="422.61" r="5.3" fill="#1f77b4"/>
<path d="M785.79 410.81V447.53" stroke="#1f77b4" stroke-width="4.0"/><circle cx="785.79" cy="429.17" r="5.3" fill="#1f77b4"/>
<path d="M786.48 421.74V453.32" stroke="#1f77b4" stroke-width="4.0"/><circle cx="786.48" cy="437.53" r="5.3" fill="#1f77b4"/>
<path d="M788.32 442.91V478.92" stroke="#1f77b4" stroke-width="4.0"/><circle cx="788.32" cy="460.92" r="5.3" fill="#1f77b4"/>
<path d="M788.46 417.51V454.45" stroke="#1f77b4" stroke-width="4.0"/><circle cx="788.46" cy="435.98" r="5.3" fill="#1f77b4"/>
<path d="M789.86 428.14V459.29" stroke="#1f77b4" stroke-width="4.0"/><circle cx="789.86" cy="443.71" r="5.3" fill="#1f77b4"/>
<path d="M791.21 438.80V476.95" stroke="#1f77b4" stroke-width="4.0"/><circle cx="791.21" cy="457.88" r="5.3" fill="#1f77b4"/>
<path d="M798.44 407.10V441.38" stroke="#1f77b4" stroke-width="4.0"/><circle cx="798.44" cy="424.24" r="5.3" fill="#1f77b4"/>
<path d="M798.46 420.46V460.47" stroke="#1f77b4" stroke-width="4.0"/><circle cx="798.46" cy="440.46" r="5.3" fill="#1f77b4"/>
<path d="M798.81 456.56V486.51" stroke="#1f77b4" stroke-width="4.0"/><circle cx="798.81" cy="471.53" r="5.3" fill="#1f77b4"/>
<path d="M799.15 413.61V444.27" stroke="#1f77b4" stroke-width="4.0"/><circle cx="799.15" cy="428.94" r="5.3" fill="#1f77b4"/>
<path d="M800.90 441.15V477.51" stroke="#1f77b4" stroke-width="4.0"/><circle cx="800.90" cy="459.33" r="5.3" fill="#1f77b4"/>
<path d="M801.16 427.79V460.33" stroke="#1f77b4" stroke-width="4.0"/><circle cx="801.16" cy="444.06" r="5.3" fill="#1f77b4"/>
<path d="M801.92 477.36V511.43" stroke="#1f77b4" stroke-width="4.0"/><circle cx="801.92" cy="494.39" r="5.3" fill="#1f77b4"/>
<path d="M803.09 441.04V480.44" stroke="#1f77b4" stroke-width="4.0"/><circle cx="803.09" cy="460.74" r="5.3" fill="#1f77b4"/>
<path d="M803.50 467.74V501.19" stroke="#1f77b4" stroke-width="4.0"/><circle cx="803.50" cy="484.46" r="5.3" fill="#1f77b4"/>
<path d="M804.51 471.88V502.25" stroke="#1f77b4" stroke-width="4.0"/><circle cx="804.51" cy="487.07" r="5.3" fill="#1f77b4"/>
<path d="M806.74 489.81V521.14" stroke="#1f77b4" stroke-width="4.0"/><circle cx="806.74" cy="505.48" r="5.3" fill="#1f77b4"/>
<path d="M811.05 400.26V435.94" stroke="#1f77b4" stroke-width="4.0"/><circle cx="811.05" cy="418.10" r="5.3" fill="#1f77b4"/>
<path d="M812.76 451.21V489.20" stroke="#1f77b4" stroke-width="4.0"/><circle cx="812.76" cy="470.20" r="5.3" fill="#1f77b4"/>
<path d="M830.62 443.34V481.15" stroke="#1f77b4" stroke-width="4.0"/><circle cx="830.62" cy="462.24" r="5.3" fill="#1f77b4"/>
<path d="M835.49 425.76V460.55" stroke="#1f77b4" stroke-width="4.0"/><circle cx="835.49" cy="443.16" r="5.3" fill="#1f77b4"/>
<path d="M836.02 458.70V491.05" stroke="#1f77b4" stroke-width="4.0"/><circle cx="836.02" cy="474.88" r="5.3" fill="#1f77b4"/>
<path d="M840.92 446.39V477.57" stroke="#1f77b4" stroke-width="4.0"/><circle cx="840.92" cy="461.98" r="5.3" fill="#1f77b4"/>
<path d="M841.63 486.22V518.40" stroke="#1f77b4" stroke-width="4.0"/><circle cx="841.63" cy="502.31" r="5.3" fill="#1f77b4"/>
<path d="M848.96 448.21V480.15" stroke="#1f77b4" stroke-width="4.0"/><circle cx="848.96" cy="464.18" r="5.3" fill="#1f77b4"/>
<path d="M851.92 459.20V498.58" stroke="#1f77b4" stroke-width="4.0"/><circle cx="851.92" cy="478.89" r="5.3" fill="#1f77b4"/>
<path d="M852.85 440.57V474.70" stroke="#1f77b4" stroke-width="4.0"/><circle cx="852.85" cy="457.64" r="5.3" fill="#1f77b4"/>
<path d="M853.13 449.16V480.22" stroke="#1f77b4" stroke-width="4.0"/><circle cx="853.13" cy="464.69" r="5.3" fill="#1f77b4"/>
<path d="M855.56 480.60V517.15" stroke="#1f77b4" stroke-width="4.0"/><circle cx="855.56" cy="498.87" r="5.3" fill="#1f77b4"/>
<path d="M855.57 491.06V525.71" stroke="#1f77b4" stroke-width="4.0"/><circle cx="855.57" cy="508.38" r="5.3" fill="#1f77b4"/>
<path d="M859.13 472.74V502.87" stroke="#1f77b4" stroke-width="4.0"/><circle cx="859.13" cy="487.80" r="5.3" fill="#1f77b4"/>
<path d="M859.81 431.76V471.91" stroke="#1f77b4" stroke-width="4.0"/><circle cx="859.81" cy="451.83" r="5.3" fill="#1f77b4"/>
<path d="M860.41 437.47V477.27" stroke="#1f77b4" stroke-width="4.0"/><circle cx="860.41" cy="457.37" r="5.3" fill="#1f77b4"/>
<path d="M864.31 440.84V473.44" stroke="#1f77b4" stroke-width="4.0"/><circle cx="864.31" cy="457.14" r="5.3" fill="#1f77b4"/>
<path d="M869.12 488.64V527.24" stroke="#1f77b4" stroke-width="4.0"/><circle cx="869.12" cy="507.94" r="5.3" fill="#1f77b4"/>
<path d="M869.30 508.25V542.87" stroke="#1f77b4" stroke-width="4.0"/><circle cx="869.30" cy="525.56" r="5.3" fill="#1f77b4"/>
<path d="M874.97 458.07V494.99" stroke="#1f77b4" stroke-width="4.0"/><circle cx="874.97" cy="476.53" r="5.3" fill="#1f77b4"/>
<path d="M875.81 449.39V486.10" stroke="#1f77b4" stroke-width="4.0"/><circle cx="875.81" cy="467.75" r="5.3" fill="#1f77b4"/>
<path d="M875.96 457.88V495.41" stroke="#1f77b4" stroke-width="4.0"/><circle cx="875.96" cy="476.65" r="5.3" fill="#1f77b4"/>
<path d="M879.22 441.28V475.75" stroke="#1f77b4" stroke-width="4.0"/><circle cx="879.22" cy="458.52" r="5.3" fill="#1f77b4"/>
<path d="M880.34 457.15V488.52" stroke="#1f77b4" stroke-width="4.0"/><circle cx="880.34" cy="472.84" r="5.3" fill="#1f77b4"/>
<path d="M880.64 475.99V514.29" stroke="#1f77b4" stroke-width="4.0"/><circle cx="880.64" cy="495.14" r="5.3" fill="#1f77b4"/>
<path d="M881.19 467.73V502.20" stroke="#1f77b4" stroke-width="4.0"/><circle cx="881.19" cy="484.97" r="5.3" fill="#1f77b4"/>
<path d="M884.10 443.58V478.07" stroke="#1f77b4" stroke-width="4.0"/><circle cx="884.10" cy="460.82" r="5.3" fill="#1f77b4"/>
<path d="M884.99 442.39V480.22" stroke="#1f77b4" stroke-width="4.0"/><circle cx="884.99" cy="461.30" r="5.3" fill="#1f77b4"/>
<path d="M888.47 446.27V483.32" stroke="#1f77b4" stroke-width="4.0"/><circle cx="888.47" cy="464.79" r="5.3" fill="#1f77b4"/>
<path d="M889.29 394.73V434.98" stroke="#1f77b4" stroke-width="4.0"/><circle cx="889.29" cy="414.85" r="5.3" fill="#1f77b4"/>
<path d="M891.17 458.22V492.14" stroke="#1f77b4" stroke-width="4.0"/><circle cx="891.17" cy="475.18" r="5.3" fill="#1f77b4"/>
<path d="M891.49 447.34V483.85" stroke="#1f77b4" stroke-width="4.0"/><circle cx="891.49" cy="465.60" r="5.3" fill="#1f77b4"/>
<path d="M901.15 478.47V509.18" stroke="#1f77b4" stroke-width="4.0"/><circle cx="901.15" cy="493.82" r="5.3" fill="#1f77b4"/>
<path d="M901.71 465.21V496.22" stroke="#1f77b4" stroke-width="4.0"/><circle cx="901.71" cy="480.72" r="5.3" fill="#1f77b4"/>
<path d="M902.44 443.39V475.90" stroke="#1f77b4" stroke-width="4.0"/><circle cx="902.44" cy="459.65" r="5.3" fill="#1f77b4"/>
<path d="M908.17 446.80V479.58" stroke="#1f77b4" stroke-width="4.0"/><circle cx="908.17" cy="463.19" r="5.3" fill="#1f77b4"/>
<path d="M909.09 457.41V491.94" stroke="#1f77b4" stroke-width="4.0"/><circle cx="909.09" cy="474.67" r="5.3" fill="#1f77b4"/>
<path d="M911.92 441.35V473.59" stroke="#1f77b4" stroke-width="4.0"/><circle cx="911.92" cy="457.47" r="5.3" fill="#1f77b4"/>
<path d="M917.77 444.64V484.33" stroke="#1f77b4" stroke-width="4.0"/><circle cx="917.77" cy="464.48" r="5.3" fill="#1f77b4"/>
<path d="M929.79 492.36V526.69" stroke="#1f77b4" stroke-width="4.0"/><circle cx="929.79" cy="509.53" r="5.3" fill="#1f77b4"/>
<path d="M933.15 526.34V560.20" stroke="#1f77b4" stroke-width="4.0"/><circle cx="933.15" cy="543.27" r="5.3" fill="#1f77b4"/>
<path d="M933.17 400.23V439.56" stroke="#1f77b4" stroke-width="4.0"/><circle cx="933.17" cy="419.89" r="5.3" fill="#1f77b4"/>
<path d="M935.65 434.60V472.80" stroke="#1f77b4" stroke-width="4.0"/><circle cx="935.65" cy="453.70" r="5.3" fill="#1f77b4"/>
<path d="M938.61 456.15V494.09" stroke="#1f77b4" stroke-width="4.0"/><circle cx="938.61" cy="475.12" r="5.3" fill="#1f77b4"/>
<path d="M941.68 488.30V527.75" stroke="#1f77b4" stroke-width="4.0"/><circle cx="941.68" cy="508.02" r="5.3" fill="#1f77b4"/>
<path d="M942.55 475.22V512.81" stroke="#1f77b4" stroke-width="4.0"/><circle cx="942.55" cy="494.01" r="5.3" fill="#1f77b4"/>
<path d="M943.77 420.49V453.54" stroke="#1f77b4" stroke-width="4.0"/><circle cx="943.77" cy="437.02" r="5.3" fill="#1f77b4"/>
<path d="M951.76 511.85V551.80" stroke="#1f77b4" stroke-width="4.0"/><circle cx="951.76" cy="531.82" r="5.3" fill="#1f77b4"/>
<path d="M956.16 459.06V489.18" stroke="#1f77b4" stroke-width="4.0"/><circle cx="956.16" cy="474.12" r="5.3" fill="#1f77b4"/>
<path d="M958.04 432.17V471.44" stroke="#1f77b4" stroke-width="4.0"/><circle cx="958.04" cy="451.80" r="5.3" fill="#1f77b4"/>
<path d="M610.20 374.70V408.70" stroke="#1f77b4" stroke-width="4.0"/><circle cx="610.20" cy="391.70" r="5.3" fill="#1f77b4"/>
<path d="M162.50 466.00V500.00" stroke="#1f77b4" stroke-width="4.0"/><circle cx="162.50" cy="483.00" r="5.3" fill="#1f77b4"/>
<path d="M478.00 518.00V552.00" stroke="#1f77b4" stroke-width="4.0"/><circle cx="478.00" cy="535.00" r="5.3" fill="#1f77b4"/>
<path d="M172.22 472.86V534.23" stroke="#2ca02c" stroke-width="4.0"/><circle cx="172.22" cy="503.55" r="5.3" fill="#2ca02c"/>
<path d="M174.03 439.71V493.89" stroke="#2ca02c" stroke-width="4.0"/><circle cx="174.03" cy="466.80" r="5.3" fill="#2ca02c"/>
<path d="M174.47 433.54V503.92" stroke="#2ca02c" stroke-width="4.0"/><circle cx="174.47" cy="468.73" r="5.3" fill="#2ca02c"/>
<path d="M176.49 471.97V528.82" stroke="#2ca02c" stroke-width="4.0"/><circle cx="176.49" cy="500.40" r="5.3" fill="#2ca02c"/>
<path d="M176.52 436.07V496.43" stroke="#2ca02c" stroke-width="4.0"/><circle cx="176.52" cy="466.25" r="5.3" fill="#2ca02c"/>
<path d="M178.08 449.65V510.65" stroke="#2ca02c" stroke-width="4.0"/><circle cx="178.08" cy="480.15" r="5.3" fill="#2ca02c"/>
<path d="M178.28 447.87V514.34" stroke="#2ca02c" stroke-width="4.0"/><circle cx="178.28" cy="481.11" r="5.3" fill="#2ca02c"/>
<path d="M182.81 423.54V485.62" stroke="#2ca02c" stroke-width="4.0"/><circle cx="182.81" cy="454.58" r="5.3" fill="#2ca02c"/>
<path d="M183.31 406.73V471.03" stroke="#2ca02c" stroke-width="4.0"/><circle cx="183.31" cy="438.88" r="5.3" fill="#2ca02c"/>
<path d="M188.15 447.56V505.79" stroke="#2ca02c" stroke-width="4.0"/><circle cx="188.15" cy="476.67" r="5.3" fill="#2ca02c"/>
<path d="M191.08 405.21V464.00" stroke="#2ca02c" stroke-width="4.0"/><circle cx="191.08" cy="434.60" r="5.3" fill="#2ca02c"/>
<path d="M201.68 414.11V472.89" stroke="#2ca02c" stroke-width="4.0"/><circle cx="201.68" cy="443.50" r="5.3" fill="#2ca02c"/>
<path d="M207.09 415.23V485.03" stroke="#2ca02c" stroke-width="4.0"/><circle cx="207.09" cy="450.13" r="5.3" fill="#2ca02c"/>
<path d="M208.01 396.23V465.19" stroke="#2ca02c" stroke-width="4.0"/><circle cx="208.01" cy="430.71" r="5.3" fill="#2ca02c"/>
<path d="M209.12 479.13V533.01" stroke="#2ca02c" stroke-width="4.0"/><circle cx="209.12" cy="506.07" r="5.3" fill="#2ca02c"/>
<path d="M212.49 408.91V463.63" stroke="#2ca02c" stroke-width="4.0"/><circle cx="212.49" cy="436.27" r="5.3" fill="#2ca02c"/>
<path d="M212.89 431.80V485.78" stroke="#2ca02c" stroke-width="4.0"/><circle cx="212.89" cy="458.79" r="5.3" fill="#2ca02c"/>
<path d="M212.96 448.31V505.64" stroke="#2ca02c" stroke-width="4.0"/><circle cx="212.96" cy="476.97" r="5.3" fill="#2ca02c"/>
<path d="M214.53 442.56V504.13" stroke="#2ca02c" stroke-width="4.0"/><circle cx="214.53" cy="473.35" r="5.3" fill="#2ca02c"/>
<path d="M217.93 413.46V470.64" stroke="#2ca02c" stroke-width="4.0"/><circle cx="217.93" cy="442.05" r="5.3" fill="#2ca02c"/>
<path d="M220.54 406.04V471.95" stroke="#2ca02c" stroke-width="4.0"/><circle cx="220.54" cy="439.00" r="5.3" fill="#2ca02c"/>
<path d="M227.93 421.69V481.83" stroke="#2ca02c" stroke-width="4.0"/><circle cx="227.93" cy="451.76" r="5.3" fill="#2ca02c"/>
<path d="M229.03 463.98V528.87" stroke="#2ca02c" stroke-width="4.0"/><circle cx="229.03" cy="496.42" r="5.3" fill="#2ca02c"/>
<path d="M231.09 477.75V530.90" stroke="#2ca02c" stroke-width="4.0"/><circle cx="231.09" cy="504.33" r="5.3" fill="#2ca02c"/>
<path d="M231.62 439.35V492.06" stroke="#2ca02c" stroke-width="4.0"/><circle cx="231.62" cy="465.71" r="5.3" fill="#2ca02c"/>
<path d="M231.67 418.51V483.14" stroke="#2ca02c" stroke-width="4.0"/><circle cx="231.67" cy="450.83" r="5.3" fill="#2ca02c"/>
<path d="M238.80 454.50V515.16" stroke="#2ca02c" stroke-width="4.0"/><circle cx="238.80" cy="484.83" r="5.3" fill="#2ca02c"/>
<path d="M239.98 418.61V475.36" stroke="#2ca02c" stroke-width="4.0"/><circle cx="239.98" cy="446.98" r="5.3" fill="#2ca02c"/>
<path d="M240.27 420.72V484.51" stroke="#2ca02c" stroke-width="4.0"/><circle cx="240.27" cy="452.62" r="5.3" fill="#2ca02c"/>
<path d="M242.98 428.26V483.90" stroke="#2ca02c" stroke-width="4.0"/><circle cx="242.98" cy="456.08" r="5.3" fill="#2ca02c"/>
<path d="M247.78 461.23V514.28" stroke="#2ca02c" stroke-width="4.0"/><circle cx="247.78" cy="487.76" r="5.3" fill="#2ca02c"/>
<path d="M250.15 408.59V474.86" stroke="#2ca02c" stroke-width="4.0"/><circle cx="250.15" cy="441.73" r="5.3" fill="#2ca02c"/>
<path d="M251.76 422.53V477.37" stroke="#2ca02c" stroke-width="4.0"/><circle cx="251.76" cy="449.95" r="5.3" fill="#2ca02c"/>
<path d="M252.63 405.83V470.02" stroke="#2ca02c" stroke-width="4.0"/><circle cx="252.63" cy="437.93" r="5.3" fill="#2ca02c"/>
<path d="M261.88 426.11V492.82" stroke="#2ca02c" stroke-width="4.0"/><circle cx="261.88" cy="459.46" r="5.3" fill="#2ca02c"/>
<path d="M262.63 466.11V535.48" stroke="#2ca02c" stroke-width="4.0"/><circle cx="262.63" cy="500.80" r="5.3" fill="#2ca02c"/>
<path d="M264.53 419.89V487.94" stroke="#2ca02c" stroke-width="4.0"/><circle cx="264.53" cy="453.92" r="5.3" fill="#2ca02c"/>
<path d="M266.52 410.24V474.93" stroke="#2ca02c" stroke-width="4.0"/><circle cx="266.52" cy="442.59" r="5.3" fill="#2ca02c"/>
<path d="M275.83 440.34V500.11" stroke="#2ca02c" stroke-width="4.0"/><circle cx="275.83" cy="470.23" r="5.3" fill="#2ca02c"/>
<path d="M276.69 461.72V526.86" stroke="#2ca02c" stroke-width="4.0"/><circle cx="276.69" cy="494.29" r="5.3" fill="#2ca02c"/>
<path d="M276.92 425.90V484.24" stroke="#2ca02c" stroke-width="4.0"/><circle cx="276.92" cy="455.07" r="5.3" fill="#2ca02c"/>
<path d="M278.58 423.58V482.23" stroke="#2ca02c" stroke-width="4.0"/><circle cx="278.58" cy="452.91" r="5.3" fill="#2ca02c"/>
<path d="M279.69 466.45V528.47" stroke="#2ca02c" stroke-width="4.0"/><circle cx="279.69" cy="497.46" r="5.3" fill="#2ca02c"/>
<path d="M284.48 454.67V510.61" stroke="#2ca02c" stroke-width="4.0"/><circle cx="284.48" cy="482.64" r="5.3" fill="#2ca02c"/>
<path d="M288.69 467.19V534.20" stroke="#2ca02c" stroke-width="4.0"/><circle cx="288.69" cy="500.69" r="5.3" fill="#2ca02c"/>
<path d="M289.57 426.16V490.70" stroke="#2ca02c" stroke-width="4.0"/><circle cx="289.57" cy="458.43" r="5.3" fill="#2ca02c"/>
<path d="M289.59 435.18V489.77" stroke="#2ca02c" stroke-width="4.0"/><circle cx="289.59" cy="462.48" r="5.3" fill="#2ca02c"/>
<path d="M290.65 393.08V453.08" stroke="#2ca02c" stroke-width="4.0"/><circle cx="290.65" cy="423.08" r="5.3" fill="#2ca02c"/>
<path d="M291.72 466.46V521.94" stroke="#2ca02c" stroke-width="4.0"/><circle cx="291.72" cy="494.20" r="5.3" fill="#2ca02c"/>
<path d="M294.59 414.10V473.66" stroke="#2ca02c" stroke-width="4.0"/><circle cx="294.59" cy="443.88" r="5.3" fill="#2ca02c"/>
<path d="M298.34 448.43V508.92" stroke="#2ca02c" stroke-width="4.0"/><circle cx="298.34" cy="478.67" r="5.3" fill="#2ca02c"/>
<path d="M299.21 437.14V499.29" stroke="#2ca02c" stroke-width="4.0"/><circle cx="299.21" cy="468.21" r="5.3" fill="#2ca02c"/>
<path d="M304.35 468.69V537.78" stroke="#2ca02c" stroke-width="4.0"/><circle cx="304.35" cy="503.23" r="5.3" fill="#2ca02c"/>
<path d="M305.00 439.30V498.32" stroke="#2ca02c" stroke-width="4.0"/><circle cx="305.00" cy="468.81" r="5.3" fill="#2ca02c"/>
<path d="M305.13 451.97V521.57" stroke="#2ca02c" stroke-width="4.0"/><circle cx="305.13" cy="486.77" r="5.3" fill="#2ca02c"/>
<path d="M308.33 440.48V507.15" stroke="#2ca02c" stroke-width="4.0"/><circle cx="308.33" cy="473.82" r="5.3" fill="#2ca02c"/>
<path d="M311.76 440.14V495.00" stroke="#2ca02c" stroke-width="4.0"/><circle cx="311.76" cy="467.57" r="5.3" fill="#2ca02c"/>
<path d="M313.16 429.15V491.10" stroke="#2ca02c" stroke-width="4.0"/><circle cx="313.16" cy="460.12" r="5.3" fill="#2ca02c"/>
<path d="M322.82 417.77V484.08" stroke="#2ca02c" stroke-width="4.0"/><circle cx="322.82" cy="450.93" r="5.3" fill="#2ca02c"/>
<path d="M326.10 443.73V504.33" stroke="#2ca02c" stroke-width="4.0"/><circle cx="326.10" cy="474.03" r="5.3" fill="#2ca02c"/>
<path d="M328.44 459.27V526.43" stroke="#2ca02c" stroke-width="4.0"/><circle cx="328.44" cy="492.85" r="5.3" fill="#2ca02c"/>
<path d="M329.61 415.72V469.35" stroke="#2ca02c" stroke-width="4.0"/><circle cx="329.61" cy="442.54" r="5.3" fill="#2ca02c"/>
<path d="M330.31 438.32V494.73" stroke="#2ca02c" stroke-width="4.0"/><circle cx="330.31" cy="466.52" r="5.3" fill="#2ca02c"/>
<path d="M335.76 450.07V516.02" stroke="#2ca02c" stroke-width="4.0"/><circle cx="335.76" cy="483.04" r="5.3" fill="#2ca02c"/>
<path d="M336.20 400.40V462.93" stroke="#2ca02c" stroke-width="4.0"/><circle cx="336.20" cy="431.67" r="5.3" fill="#2ca02c"/>
<path d="M338.25 427.77V490.14" stroke="#2ca02c" stroke-width="4.0"/><circle cx="338.25" cy="458.95" r="5.3" fill="#2ca02c"/>
<path d="M342.63 422.17V481.87" stroke="#2ca02c" stroke-width="4.0"/><circle cx="342.63" cy="452.02" r="5.3" fill="#2ca02c"/>
<path d="M347.42 481.70V548.50" stroke="#2ca02c" stroke-width="4.0"/><circle cx="347.42" cy="515.10" r="5.3" fill="#2ca02c"/>
<path d="M347.99 457.32V523.27" stroke="#2ca02c" stroke-width="4.0"/><circle cx="347.99" cy="490.30" r="5.3" fill="#2ca02c"/>
<path d="M350.22 397.54V453.29" stroke="#2ca02c" stroke-width="4.0"/><circle cx="350.22" cy="425.41" r="5.3" fill="#2ca02c"/>
<path d="M350.41 431.19V493.13" stroke="#2ca02c" stroke-width="4.0"/><circle cx="350.41" cy="462.16" r="5.3" fill="#2ca02c"/>
<path d="M355.18 424.21V495.00" stroke="#2ca02c" stroke-width="4.0"/><circle cx="355.18" cy="459.61" r="5.3" fill="#2ca02c"/>
<path d="M358.03 455.43V525.36" stroke="#2ca02c" stroke-width="4.0"/><circle cx="358.03" cy="490.39" r="5.3" fill="#2ca02c"/>
<path d="M360.60 442.51V511.16" stroke="#2ca02c" stroke-width="4.0"/><circle cx="360.60" cy="476.83" r="5.3" fill="#2ca02c"/>
<path d="M362.63 436.25V491.36" stroke="#2ca02c" stroke-width="4.0"/><circle cx="362.63" cy="463.81" r="5.3" fill="#2ca02c"/>
<path d="M363.14 444.26V498.14" stroke="#2ca02c" stroke-width="4.0"/><circle cx="363.14" cy="471.20" r="5.3" fill="#2ca02c"/>
<path d="M363.90 441.46V504.55" stroke="#2ca02c" stroke-width="4.0"/><circle cx="363.90" cy="473.01" r="5.3" fill="#2ca02c"/>
<path d="M364.05 480.54V550.69" stroke="#2ca02c" stroke-width="4.0"/><circle cx="364.05" cy="515.61" r="5.3" fill="#2ca02c"/>
<path d="M366.54 455.35V519.51" stroke="#2ca02c" stroke-width="4.0"/><circle cx="366.54" cy="487.43" r="5.3" fill="#2ca02c"/>
<path d="M377.47 451.36V504.51" stroke="#2ca02c" stroke-width="4.0"/><circle cx="377.47" cy="477.94" r="5.3" fill="#2ca02c"/>
<path d="M378.93 426.35V485.07" stroke="#2ca02c" stroke-width="4.0"/><circle cx="378.93" cy="455.71" r="5.3" fill="#2ca02c"/>
<path d="M379.91 429.03V482.05" stroke="#2ca02c" stroke-width="4.0"/><circle cx="379.91" cy="455.54" r="5.3" fill="#2ca02c"/>
<path d="M382.99 433.50V499.63" stroke="#2ca02c" stroke-width="4.0"/><circle cx="382.99" cy="466.57" r="5.3" fill="#2ca02c"/>
<path d="M385.20 453.01V512.21" stroke="#2ca02c" stroke-width="4.0"/><circle cx="385.20" cy="482.61" r="5.3" fill="#2ca02c"/>
<path d="M385.55 448.82V509.57" stroke="#2ca02c" stroke-width="4.0"/><circle cx="385.55" cy="479.19" r="5.3" fill="#2ca02c"/>
<path d="M385.61 427.65V482.90" stroke="#2ca02c" stroke-width="4.0"/><circle cx="385.61" cy="455.28" r="5.3" fill="#2ca02c"/>
<path d="M386.05 462.11V530.17" stroke="#2ca02c" stroke-width="4.0"/><circle cx="386.05" cy="496.14" r="5.3" fill="#2ca02c"/>
<path d="M386.61 435.65V496.16" stroke="#2ca02c" stroke-width="4.0"/><circle cx="386.61" cy="465.90" r="5.3" fill="#2ca02c"/>
<path d="M391.60 438.18V501.35" stroke="#2ca02c" stroke-width="4.0"/><circle cx="391.60" cy="469.77" r="5.3" fill="#2ca02c"/>
<path d="M391.75 436.18V495.46" stroke="#2ca02c" stroke-width="4.0"/><circle cx="391.75" cy="465.82" r="5.3" fill="#2ca02c"/>
<path d="M393.05 398.13V452.11" stroke="#2ca02c" stroke-width="4.0"/><circle cx="393.05" cy="425.12" r="5.3" fill="#2ca02c"/>
<path d="M394.26 439.45V496.42" stroke="#2ca02c" stroke-width="4.0"/><circle cx="394.26" cy="467.93" r="5.3" fill="#2ca02c"/>
<path d="M394.75 411.32V469.55" stroke="#2ca02c" stroke-width="4.0"/><circle cx="394.75" cy="440.44" r="5.3" fill="#2ca02c"/>
<path d="M401.82 387.30V450.80" stroke="#2ca02c" stroke-width="4.0"/><circle cx="401.82" cy="419.05" r="5.3" fill="#2ca02c"/>
<path d="M402.26 415.91V477.62" stroke="#2ca02c" stroke-width="4.0"/><circle cx="402.26" cy="446.76" r="5.3" fill="#2ca02c"/>
<path d="M404.53 425.10V485.53" stroke="#2ca02c" stroke-width="4.0"/><circle cx="404.53" cy="455.32" r="5.3" fill="#2ca02c"/>
<path d="M405.13 450.32V517.56" stroke="#2ca02c" stroke-width="4.0"/><circle cx="405.13" cy="483.94" r="5.3" fill="#2ca02c"/>
<path d="M408.25 377.65V444.62" stroke="#2ca02c" stroke-width="4.0"/><circle cx="408.25" cy="411.13" r="5.3" fill="#2ca02c"/>
<path d="M408.29 448.55V509.68" stroke="#2ca02c" stroke-width="4.0"/><circle cx="408.29" cy="479.12" r="5.3" fill="#2ca02c"/>
<path d="M411.45 469.92V534.47" stroke="#2ca02c" stroke-width="4.0"/><circle cx="411.45" cy="502.19" r="5.3" fill="#2ca02c"/>
<path d="M414.53 395.97V464.01" stroke="#2ca02c" stroke-width="4.0"/><circle cx="414.53" cy="429.99" r="5.3" fill="#2ca02c"/>
<path d="M425.64 464.31V523.85" stroke="#2ca02c" stroke-width="4.0"/><circle cx="425.64" cy="494.08" r="5.3" fill="#2ca02c"/>
<path d="M426.04 456.85V518.76" stroke="#2ca02c" stroke-width="4.0"/><circle cx="426.04" cy="487.81" r="5.3" fill="#2ca02c"/>
<path d="M431.50 441.78V508.47" stroke="#2ca02c" stroke-width="4.0"/><circle cx="431.50" cy="475.13" r="5.3" fill="#2ca02c"/>
<path d="M433.94 459.13V514.59" stroke="#2ca02c" stroke-width="4.0"/><circle cx="433.94" cy="486.86" r="5.3" fill="#2ca02c"/>
<path d="M438.33 482.31V538.71" stroke="#2ca02c" stroke-width="4.0"/><circle cx="438.33" cy="510.51" r="5.3" fill="#2ca02c"/>
<path d="M439.81 422.51V480.49" stroke="#2ca02c" stroke-width="4.0"/><circle cx="439.81" cy="451.50" r="5.3" fill="#2ca02c"/>
<path d="M440.27 417.79V472.85" stroke="#2ca02c" stroke-width="4.0"/><circle cx="440.27" cy="445.32" r="5.3" fill="#2ca02c"/>
<path d="M442.63 413.71V471.84" stroke="#2ca02c" stroke-width="4.0"/><circle cx="442.63" cy="442.77" r="5.3" fill="#2ca02c"/>
<path d="M445.13 433.63V486.58" stroke="#2ca02c" stroke-width="4.0"/><circle cx="445.13" cy="460.10" r="5.3" fill="#2ca02c"/>
<path d="M454.43 439.77V500.41" stroke="#2ca02c" stroke-width="4.0"/><circle cx="454.43" cy="470.09" r="5.3" fill="#2ca02c"/>
<path d="M454.65 440.67V509.63" stroke="#2ca02c" stroke-width="4.0"/><circle cx="454.65" cy="475.15" r="5.3" fill="#2ca02c"/>
<path d="M462.96 407.80V460.61" stroke="#2ca02c" stroke-width="4.0"/><circle cx="462.96" cy="434.20" r="5.3" fill="#2ca02c"/>
<path d="M463.02 411.80V475.30" stroke="#2ca02c" stroke-width="4.0"/><circle cx="463.02" cy="443.55" r="5.3" fill="#2ca02c"/>
<path d="M467.46 443.06V509.90" stroke="#2ca02c" stroke-width="4.0"/><circle cx="467.46" cy="476.48" r="5.3" fill="#2ca02c"/>
<path d="M467.83 422.61V486.13" stroke="#2ca02c" stroke-width="4.0"/><circle cx="467.83" cy="454.37" r="5.3" fill="#2ca02c"/>
<path d="M470.04 459.48V522.27" stroke="#2ca02c" stroke-width="4.0"/><circle cx="470.04" cy="490.87" r="5.3" fill="#2ca02c"/>
<path d="M472.09 423.38V476.32" stroke="#2ca02c" stroke-width="4.0"/><circle cx="472.09" cy="449.85" r="5.3" fill="#2ca02c"/>
<path d="M472.26 457.48V525.54" stroke="#2ca02c" stroke-width="4.0"/><circle cx="472.26" cy="491.51" r="5.3" fill="#2ca02c"/>
<path d="M474.92 439.74V502.94" stroke="#2ca02c" stroke-width="4.0"/><circle cx="474.92" cy="471.34" r="5.3" fill="#2ca02c"/>
<path d="M477.51 439.17V502.85" stroke="#2ca02c" stroke-width="4.0"/><circle cx="477.51" cy="471.01" r="5.3" fill="#2ca02c"/>
<path d="M479.71 499.98V560.39" stroke="#2ca02c" stroke-width="4.0"/><circle cx="479.71" cy="530.19" r="5.3" fill="#2ca02c"/>
<path d="M491.47 408.22V478.12" stroke="#2ca02c" stroke-width="4.0"/><circle cx="491.47" cy="443.17" r="5.3" fill="#2ca02c"/>
<path d="M492.93 432.36V487.51" stroke="#2ca02c" stroke-width="4.0"/><circle cx="492.93" cy="459.93" r="5.3" fill="#2ca02c"/>
<path d="M495.73 452.33V510.93" stroke="#2ca02c" stroke-width="4.0"/><circle cx="495.73" cy="481.63" r="5.3" fill="#2ca02c"/>
<path d="M497.48 450.02V511.26" stroke="#2ca02c" stroke-width="4.0"/><circle cx="497.48" cy="480.64" r="5.3" fill="#2ca02c"/>
<path d="M508.25 428.06V496.12" stroke="#2ca02c" stroke-width="4.0"/><circle cx="508.25" cy="462.09" r="5.3" fill="#2ca02c"/>
<path d="M510.44 434.74V492.40" stroke="#2ca02c" stroke-width="4.0"/><circle cx="510.44" cy="463.57" r="5.3" fill="#2ca02c"/>
<path d="M512.85 421.23V477.60" stroke="#2ca02c" stroke-width="4.0"/><circle cx="512.85" cy="449.42" r="5.3" fill="#2ca02c"/>
<path d="M514.84 430.81V488.07" stroke="#2ca02c" stroke-width="4.0"/><circle cx="514.84" cy="459.44" r="5.3" fill="#2ca02c"/>
<path d="M518.26 418.22V483.17" stroke="#2ca02c" stroke-width="4.0"/><circle cx="518.26" cy="450.69" r="5.3" fill="#2ca02c"/>
<path d="M520.13 421.90V488.67" stroke="#2ca02c" stroke-width="4.0"/><circle cx="520.13" cy="455.29" r="5.3" fill="#2ca02c"/>
<path d="M521.34 469.19V529.45" stroke="#2ca02c" stroke-width="4.0"/><circle cx="521.34" cy="499.32" r="5.3" fill="#2ca02c"/>
<path d="M524.37 467.54V530.20" stroke="#2ca02c" stroke-width="4.0"/><circle cx="524.37" cy="498.87" r="5.3" fill="#2ca02c"/>
<path d="M524.89 422.70V479.93" stroke="#2ca02c" stroke-width="4.0"/><circle cx="524.89" cy="451.32" r="5.3" fill="#2ca02c"/>
<path d="M530.38 420.35V489.40" stroke="#2ca02c" stroke-width="4.0"/><circle cx="530.38" cy="454.87" r="5.3" fill="#2ca02c"/>
<path d="M532.70 434.92V504.91" stroke="#2ca02c" stroke-width="4.0"/><circle cx="532.70" cy="469.92" r="5.3" fill="#2ca02c"/>
<path d="M534.03 472.38V536.27" stroke="#2ca02c" stroke-width="4.0"/><circle cx="534.03" cy="504.33" r="5.3" fill="#2ca02c"/>
<path d="M534.30 456.68V521.36" stroke="#2ca02c" stroke-width="4.0"/><circle cx="534.30" cy="489.02" r="5.3" fill="#2ca02c"/>
<path d="M534.74 462.75V518.44" stroke="#2ca02c" stroke-width="4.0"/><circle cx="534.74" cy="490.59" r="5.3" fill="#2ca02c"/>
<path d="M535.94 425.12V487.47" stroke="#2ca02c" stroke-width="4.0"/><circle cx="535.94" cy="456.29" r="5.3" fill="#2ca02c"/>
<path d="M537.15 460.76V531.16" stroke="#2ca02c" stroke-width="4.0"/><circle cx="537.15" cy="495.96" r="5.3" fill="#2ca02c"/>
<path d="M539.70 486.63V539.29" stroke="#2ca02c" stroke-width="4.0"/><circle cx="539.70" cy="512.96" r="5.3" fill="#2ca02c"/>
<path d="M541.14 464.95V529.83" stroke="#2ca02c" stroke-width="4.0"/><circle cx="541.14" cy="497.39" r="5.3" fill="#2ca02c"/>
<path d="M546.10 437.80V498.48" stroke="#2ca02c" stroke-width="4.0"/><circle cx="546.10" cy="468.14" r="5.3" fill="#2ca02c"/>
<path d="M546.88 407.44V464.80" stroke="#2ca02c" stroke-width="4.0"/><circle cx="546.88" cy="436.12" r="5.3" fill="#2ca02c"/>
<path d="M547.44 462.96V517.88" stroke="#2ca02c" stroke-width="4.0"/><circle cx="547.44" cy="490.42" r="5.3" fill="#2ca02c"/>
<path d="M548.91 417.53V476.78" stroke="#2ca02c" stroke-width="4.0"/><circle cx="548.91" cy="447.16" r="5.3" fill="#2ca02c"/>
<path d="M549.05 449.36V519.18" stroke="#2ca02c" stroke-width="4.0"/><circle cx="549.05" cy="484.27" r="5.3" fill="#2ca02c"/>
<path d="M550.03 452.58V512.09" stroke="#2ca02c" stroke-width="4.0"/><circle cx="550.03" cy="482.33" r="5.3" fill="#2ca02c"/>
<path d="M554.55 460.73V521.65" stroke="#2ca02c" stroke-width="4.0"/><circle cx="554.55" cy="491.19" r="5.3" fill="#2ca02c"/>
<path d="M558.67 415.95V482.58" stroke="#2ca02c" stroke-width="4.0"/><circle cx="558.67" cy="449.27" r="5.3" fill="#2ca02c"/>
<path d="M558.81 454.54V508.34" stroke="#2ca02c" stroke-width="4.0"/><circle cx="558.81" cy="481.44" r="5.3" fill="#2ca02c"/>
<path d="M562.09 414.23V478.87" stroke="#2ca02c" stroke-width="4.0"/><circle cx="562.09" cy="446.55" r="5.3" fill="#2ca02c"/>
<path d="M563.45 449.78V515.19" stroke="#2ca02c" stroke-width="4.0"/><circle cx="563.45" cy="482.49" r="5.3" fill="#2ca02c"/>
<path d="M567.09 398.70V454.35" stroke="#2ca02c" stroke-width="4.0"/><circle cx="567.09" cy="426.52" r="5.3" fill="#2ca02c"/>
<path d="M567.44 436.62V491.51" stroke="#2ca02c" stroke-width="4.0"/><circle cx="567.44" cy="464.06" r="5.3" fill="#2ca02c"/>
<path d="M574.99 436.97V492.02" stroke="#2ca02c" stroke-width="4.0"/><circle cx="574.99" cy="464.50" r="5.3" fill="#2ca02c"/>
<path d="M582.36 468.93V522.67" stroke="#2ca02c" stroke-width="4.0"/><circle cx="582.36" cy="495.80" r="5.3" fill="#2ca02c"/>
<path d="M583.62 406.13V463.61" stroke="#2ca02c" stroke-width="4.0"/><circle cx="583.62" cy="434.87" r="5.3" fill="#2ca02c"/>
<path d="M584.69 424.87V486.43" stroke="#2ca02c" stroke-width="4.0"/><circle cx="584.69" cy="455.65" r="5.3" fill="#2ca02c"/>
<path d="M590.23 430.14V488.82" stroke="#2ca02c" stroke-width="4.0"/><circle cx="590.23" cy="459.48" r="5.3" fill="#2ca02c"/>
<path d="M592.62 431.52V491.18" stroke="#2ca02c" stroke-width="4.0"/><circle cx="592.62" cy="461.35" r="5.3" fill="#2ca02c"/>
<path d="M594.02 449.86V509.16" stroke="#2ca02c" stroke-width="4.0"/><circle cx="594.02" cy="479.51" r="5.3" fill="#2ca02c"/>
<path d="M596.18 445.47V512.24" stroke="#2ca02c" stroke-width="4.0"/><circle cx="596.18" cy="478.86" r="5.3" fill="#2ca02c"/>
<path d="M596.33 424.77V494.52" stroke="#2ca02c" stroke-width="4.0"/><circle cx="596.33" cy="459.65" r="5.3" fill="#2ca02c"/>
<path d="M601.26 461.36V514.99" stroke="#2ca02c" stroke-width="4.0"/><circle cx="601.26" cy="488.18" r="5.3" fill="#2ca02c"/>
<path d="M603.28 444.49V501.82" stroke="#2ca02c" stroke-width="4.0"/><circle cx="603.28" cy="473.15" r="5.3" fill="#2ca02c"/>
<path d="M603.37 386.20V445.54" stroke="#2ca02c" stroke-width="4.0"/><circle cx="603.37" cy="415.87" r="5.3" fill="#2ca02c"/>
<path d="M604.14 441.38V504.92" stroke="#2ca02c" stroke-width="4.0"/><circle cx="604.14" cy="473.15" r="5.3" fill="#2ca02c"/>
<path d="M604.96 448.21V507.36" stroke="#2ca02c" stroke-width="4.0"/><circle cx="604.96" cy="477.78" r="5.3" fill="#2ca02c"/>
<path d="M608.55 415.80V483.86" stroke="#2ca02c" stroke-width="4.0"/><circle cx="608.55" cy="449.83" r="5.3" fill="#2ca02c"/>
<path d="M609.04 469.13V523.46" stroke="#2ca02c" stroke-width="4.0"/><circle cx="609.04" cy="496.29" r="5.3" fill="#2ca02c"/>
<path d="M610.01 406.20V471.80" stroke="#2ca02c" stroke-width="4.0"/><circle cx="610.01" cy="439.00" r="5.3" fill="#2ca02c"/>
<path d="M613.45 441.90V503.12" stroke="#2ca02c" stroke-width="4.0"/><circle cx="613.45" cy="472.51" r="5.3" fill="#2ca02c"/>
<path d="M615.48 474.13V532.83" stroke="#2ca02c" stroke-width="4.0"/><circle cx="615.48" cy="503.48" r="5.3" fill="#2ca02c"/>
<path d="M618.53 447.40V511.18" stroke="#2ca02c" stroke-width="4.0"/><circle cx="618.53" cy="479.29" r="5.3" fill="#2ca02c"/>
<path d="M620.89 457.88V525.15" stroke="#2ca02c" stroke-width="4.0"/><circle cx="620.89" cy="491.52" r="5.3" fill="#2ca02c"/>
<path d="M621.85 420.50V484.38" stroke="#2ca02c" stroke-width="4.0"/><circle cx="621.85" cy="452.44" r="5.3" fill="#2ca02c"/>
<path d="M622.01 447.51V516.07" stroke="#2ca02c" stroke-width="4.0"/><circle cx="622.01" cy="481.79" r="5.3" fill="#2ca02c"/>
<path d="M622.95 418.95V480.60" stroke="#2ca02c" stroke-width="4.0"/><circle cx="622.95" cy="449.77" r="5.3" fill="#2ca02c"/>
<path d="M623.67 482.90V550.22" stroke="#2ca02c" stroke-width="4.0"/><circle cx="623.67" cy="516.56" r="5.3" fill="#2ca02c"/>
<path d="M625.47 447.58V507.47" stroke="#2ca02c" stroke-width="4.0"/><circle cx="625.47" cy="477.53" r="5.3" fill="#2ca02c"/>
<path d="M631.62 421.89V480.79" stroke="#2ca02c" stroke-width="4.0"/><circle cx="631.62" cy="451.34" r="5.3" fill="#2ca02c"/>
<path d="M634.06 420.88V484.30" stroke="#2ca02c" stroke-width="4.0"/><circle cx="634.06" cy="452.59" r="5.3" fill="#2ca02c"/>
<path d="M635.17 429.57V496.36" stroke="#2ca02c" stroke-width="4.0"/><circle cx="635.17" cy="462.96" r="5.3" fill="#2ca02c"/>
<path d="M635.65 415.99V472.95" stroke="#2ca02c" stroke-width="4.0"/><circle cx="635.65" cy="444.47" r="5.3" fill="#2ca02c"/>
<path d="M635.84 410.61V479.69" stroke="#2ca02c" stroke-width="4.0"/><circle cx="635.84" cy="445.15" r="5.3" fill="#2ca02c"/>
<path d="M646.76 427.16V495.57" stroke="#2ca02c" stroke-width="4.0"/><circle cx="646.76" cy="461.37" r="5.3" fill="#2ca02c"/>
<path d="M647.63 422.21V485.58" stroke="#2ca02c" stroke-width="4.0"/><circle cx="647.63" cy="453.89" r="5.3" fill="#2ca02c"/>
<path d="M659.06 408.49V462.60" stroke="#2ca02c" stroke-width="4.0"/><circle cx="659.06" cy="435.55" r="5.3" fill="#2ca02c"/>
<path d="M659.89 416.54V482.38" stroke="#2ca02c" stroke-width="4.0"/><circle cx="659.89" cy="449.46" r="5.3" fill="#2ca02c"/>
<path d="M659.93 491.36V549.22" stroke="#2ca02c" stroke-width="4.0"/><circle cx="659.93" cy="520.29" r="5.3" fill="#2ca02c"/>
<path d="M663.57 465.63V531.50" stroke="#2ca02c" stroke-width="4.0"/><circle cx="663.57" cy="498.56" r="5.3" fill="#2ca02c"/>
<path d="M664.13 445.53V509.58" stroke="#2ca02c" stroke-width="4.0"/><circle cx="664.13" cy="477.56" r="5.3" fill="#2ca02c"/>
<path d="M667.64 421.90V475.60" stroke="#2ca02c" stroke-width="4.0"/><circle cx="667.64" cy="448.75" r="5.3" fill="#2ca02c"/>
<path d="M667.86 433.32V488.70" stroke="#2ca02c" stroke-width="4.0"/><circle cx="667.86" cy="461.01" r="5.3" fill="#2ca02c"/>
<path d="M668.97 414.85V482.81" stroke="#2ca02c" stroke-width="4.0"/><circle cx="668.97" cy="448.83" r="5.3" fill="#2ca02c"/>
<path d="M670.80 409.43V471.50" stroke="#2ca02c" stroke-width="4.0"/><circle cx="670.80" cy="440.46" r="5.3" fill="#2ca02c"/>
<path d="M673.24 420.35V482.70" stroke="#2ca02c" stroke-width="4.0"/><circle cx="673.24" cy="451.52" r="5.3" fill="#2ca02c"/>
<path d="M674.87 457.79V524.94" stroke="#2ca02c" stroke-width="4.0"/><circle cx="674.87" cy="491.36" r="5.3" fill="#2ca02c"/>
<path d="M679.10 422.38V477.63" stroke="#2ca02c" stroke-width="4.0"/><circle cx="679.10" cy="450.00" r="5.3" fill="#2ca02c"/>
<path d="M682.72 472.20V536.64" stroke="#2ca02c" stroke-width="4.0"/><circle cx="682.72" cy="504.42" r="5.3" fill="#2ca02c"/>
<path d="M683.44 473.14V534.41" stroke="#2ca02c" stroke-width="4.0"/><circle cx="683.44" cy="503.78" r="5.3" fill="#2ca02c"/>
<path d="M692.98 450.22V518.50" stroke="#2ca02c" stroke-width="4.0"/><circle cx="692.98" cy="484.36" r="5.3" fill="#2ca02c"/>
<path d="M694.02 501.39V556.45" stroke="#2ca02c" stroke-width="4.0"/><circle cx="694.02" cy="528.92" r="5.3" fill="#2ca02c"/>
<path d="M695.09 400.27V466.32" stroke="#2ca02c" stroke-width="4.0"/><circle cx="695.09" cy="433.29" r="5.3" fill="#2ca02c"/>
<path d="M695.57 380.99V445.28" stroke="#2ca02c" stroke-width="4.0"/><circle cx="695.57" cy="413.13" r="5.3" fill="#2ca02c"/>
<path d="M695.64 439.57V507.25" stroke="#2ca02c" stroke-width="4.0"/><circle cx="695.64" cy="473.41" r="5.3" fill="#2ca02c"/>
<path d="M697.84 446.77V512.57" stroke="#2ca02c" stroke-width="4.0"/><circle cx="697.84" cy="479.67" r="5.3" fill="#2ca02c"/>
<path d="M697.92 488.83V550.10" stroke="#2ca02c" stroke-width="4.0"/><circle cx="697.92" cy="519.47" r="5.3" fill="#2ca02c"/>
<path d="M698.52 423.87V481.40" stroke="#2ca02c" stroke-width="4.0"/><circle cx="698.52" cy="452.64" r="5.3" fill="#2ca02c"/>
<path d="M700.31 452.32V507.43" stroke="#2ca02c" stroke-width="4.0"/><circle cx="700.31" cy="479.87" r="5.3" fill="#2ca02c"/>
<path d="M704.98 455.42V524.59" stroke="#2ca02c" stroke-width="4.0"/><circle cx="704.98" cy="490.00" r="5.3" fill="#2ca02c"/>
<path d="M705.45 467.94V523.92" stroke="#2ca02c" stroke-width="4.0"/><circle cx="705.45" cy="495.93" r="5.3" fill="#2ca02c"/>
<path d="M706.82 429.49V495.08" stroke="#2ca02c" stroke-width="4.0"/><circle cx="706.82" cy="462.28" r="5.3" fill="#2ca02c"/>
<path d="M713.71 431.30V489.52" stroke="#2ca02c" stroke-width="4.0"/><circle cx="713.71" cy="460.41" r="5.3" fill="#2ca02c"/>
<path d="M715.03 421.05V489.11" stroke="#2ca02c" stroke-width="4.0"/><circle cx="715.03" cy="455.08" r="5.3" fill="#2ca02c"/>
<path d="M715.06 440.56V500.30" stroke="#2ca02c" stroke-width="4.0"/><circle cx="715.06" cy="470.43" r="5.3" fill="#2ca02c"/>
<path d="M715.22 467.53V531.70" stroke="#2ca02c" stroke-width="4.0"/><circle cx="715.22" cy="499.61" r="5.3" fill="#2ca02c"/>
<path d="M715.81 390.83V454.33" stroke="#2ca02c" stroke-width="4.0"/><circle cx="715.81" cy="422.58" r="5.3" fill="#2ca02c"/>
<path d="M718.65 412.99V468.18" stroke="#2ca02c" stroke-width="4.0"/><circle cx="718.65" cy="440.59" r="5.3" fill="#2ca02c"/>
<path d="M719.00 445.20V510.51" stroke="#2ca02c" stroke-width="4.0"/><circle cx="719.00" cy="477.86" r="5.3" fill="#2ca02c"/>
<path d="M723.99 468.72V523.10" stroke="#2ca02c" stroke-width="4.0"/><circle cx="723.99" cy="495.91" r="5.3" fill="#2ca02c"/>
<path d="M724.49 453.67V519.65" stroke="#2ca02c" stroke-width="4.0"/><circle cx="724.49" cy="486.66" r="5.3" fill="#2ca02c"/>
<path d="M724.49 416.25V470.58" stroke="#2ca02c" stroke-width="4.0"/><circle cx="724.49" cy="443.41" r="5.3" fill="#2ca02c"/>
<path d="M730.13 423.86V479.02" stroke="#2ca02c" stroke-width="4.0"/><circle cx="730.13" cy="451.44" r="5.3" fill="#2ca02c"/>
<path d="M730.87 429.26V488.79" stroke="#2ca02c" stroke-width="4.0"/><circle cx="730.87" cy="459.02" r="5.3" fill="#2ca02c"/>
<path d="M732.19 407.14V475.74" stroke="#2ca02c" stroke-width="4.0"/><circle cx="732.19" cy="441.44" r="5.3" fill="#2ca02c"/>
<path d="M733.12 453.12V513.05" stroke="#2ca02c" stroke-width="4.0"/><circle cx="733.12" cy="483.08" r="5.3" fill="#2ca02c"/>
<path d="M734.60 404.72V467.14" stroke="#2ca02c" stroke-width="4.0"/><circle cx="734.60" cy="435.93" r="5.3" fill="#2ca02c"/>
<path d="M739.04 433.26V501.20" stroke="#2ca02c" stroke-width="4.0"/><circle cx="739.04" cy="467.23" r="5.3" fill="#2ca02c"/>
<path d="M742.95 463.26V521.45" stroke="#2ca02c" stroke-width="4.0"/><circle cx="742.95" cy="492.35" r="5.3" fill="#2ca02c"/>
<path d="M746.68 424.53V489.15" stroke="#2ca02c" stroke-width="4.0"/><circle cx="746.68" cy="456.84" r="5.3" fill="#2ca02c"/>
<path d="M748.74 427.29V495.29" stroke="#2ca02c" stroke-width="4.0"/><circle cx="748.74" cy="461.29" r="5.3" fill="#2ca02c"/>
<path d="M748.99 457.85V520.54" stroke="#2ca02c" stroke-width="4.0"/><circle cx="748.99" cy="489.20" r="5.3" fill="#2ca02c"/>
<path d="M751.55 399.91V454.39" stroke="#2ca02c" stroke-width="4.0"/><circle cx="751.55" cy="427.15" r="5.3" fill="#2ca02c"/>
<path d="M751.89 477.49V543.27" stroke="#2ca02c" stroke-width="4.0"/><circle cx="751.89" cy="510.38" r="5.3" fill="#2ca02c"/>
<path d="M753.36 430.29V500.28" stroke="#2ca02c" stroke-width="4.0"/><circle cx="753.36" cy="465.28" r="5.3" fill="#2ca02c"/>
<path d="M753.94 432.85V493.50" stroke="#2ca02c" stroke-width="4.0"/><circle cx="753.94" cy="463.18" r="5.3" fill="#2ca02c"/>
<path d="M755.70 461.08V522.01" stroke="#2ca02c" stroke-width="4.0"/><circle cx="755.70" cy="491.54" r="5.3" fill="#2ca02c"/>
<path d="M756.05 435.95V503.95" stroke="#2ca02c" stroke-width="4.0"/><circle cx="756.05" cy="469.95" r="5.3" fill="#2ca02c"/>
<path d="M756.45 403.76V471.80" stroke="#2ca02c" stroke-width="4.0"/><circle cx="756.45" cy="437.78" r="5.3" fill="#2ca02c"/>
<path d="M756.69 465.68V523.11" stroke="#2ca02c" stroke-width="4.0"/><circle cx="756.69" cy="494.39" r="5.3" fill="#2ca02c"/>
<path d="M757.12 460.38V527.31" stroke="#2ca02c" stroke-width="4.0"/><circle cx="757.12" cy="493.84" r="5.3" fill="#2ca02c"/>
<path d="M757.32 443.24V499.77" stroke="#2ca02c" stroke-width="4.0"/><circle cx="757.32" cy="471.51" r="5.3" fill="#2ca02c"/>
<path d="M759.47 418.10V482.48" stroke="#2ca02c" stroke-width="4.0"/><circle cx="759.47" cy="450.29" r="5.3" fill="#2ca02c"/>
<path d="M760.92 401.25V471.32" stroke="#2ca02c" stroke-width="4.0"/><circle cx="760.92" cy="436.28" r="5.3" fill="#2ca02c"/>
<path d="M761.23 421.63V485.25" stroke="#2ca02c" stroke-width="4.0"/><circle cx="761.23" cy="453.44" r="5.3" fill="#2ca02c"/>
<path d="M762.52 463.96V523.58" stroke="#2ca02c" stroke-width="4.0"/><circle cx="762.52" cy="493.77" r="5.3" fill="#2ca02c"/>
<path d="M762.72 400.30V469.04" stroke="#2ca02c" stroke-width="4.0"/><circle cx="762.72" cy="434.67" r="5.3" fill="#2ca02c"/>
<path d="M763.27 411.76V480.26" stroke="#2ca02c" stroke-width="4.0"/><circle cx="763.27" cy="446.01" r="5.3" fill="#2ca02c"/>
<path d="M763.31 404.82V476.03" stroke="#2ca02c" stroke-width="4.0"/><circle cx="763.31" cy="440.43" r="5.3" fill="#2ca02c"/>
<path d="M767.46 475.90V532.71" stroke="#2ca02c" stroke-width="4.0"/><circle cx="767.46" cy="504.31" r="5.3" fill="#2ca02c"/>
<path d="M771.24 474.83V532.69" stroke="#2ca02c" stroke-width="4.0"/><circle cx="771.24" cy="503.76" r="5.3" fill="#2ca02c"/>
<path d="M774.63 452.22V504.92" stroke="#2ca02c" stroke-width="4.0"/><circle cx="774.63" cy="478.57" r="5.3" fill="#2ca02c"/>
<path d="M781.09 442.00V511.52" stroke="#2ca02c" stroke-width="4.0"/><circle cx="781.09" cy="476.76" r="5.3" fill="#2ca02c"/>
<path d="M784.16 437.19V500.50" stroke="#2ca02c" stroke-width="4.0"/><circle cx="784.16" cy="468.84" r="5.3" fill="#2ca02c"/>
<path d="M784.20 466.29V531.37" stroke="#2ca02c" stroke-width="4.0"/><circle cx="784.20" cy="498.83" r="5.3" fill="#2ca02c"/>
<path d="M785.66 463.63V533.03" stroke="#2ca02c" stroke-width="4.0"/><circle cx="785.66" cy="498.33" r="5.3" fill="#2ca02c"/>
<path d="M785.87 436.77V492.48" stroke="#2ca02c" stroke-width="4.0"/><circle cx="785.87" cy="464.62" r="5.3" fill="#2ca02c"/>
<path d="M788.09 504.92V559.31" stroke="#2ca02c" stroke-width="4.0"/><circle cx="788.09" cy="532.12" r="5.3" fill="#2ca02c"/>
<path d="M794.34 477.21V536.89" stroke="#2ca02c" stroke-width="4.0"/><circle cx="794.34" cy="507.05" r="5.3" fill="#2ca02c"/>
<path d="M802.47 449.43V502.99" stroke="#2ca02c" stroke-width="4.0"/><circle cx="802.47" cy="476.21" r="5.3" fill="#2ca02c"/>
<path d="M803.11 432.00V487.29" stroke="#2ca02c" stroke-width="4.0"/><circle cx="803.11" cy="459.65" r="5.3" fill="#2ca02c"/>
<path d="M805.59 442.22V498.38" stroke="#2ca02c" stroke-width="4.0"/><circle cx="805.59" cy="470.30" r="5.3" fill="#2ca02c"/>
<path d="M808.05 408.58V461.23" stroke="#2ca02c" stroke-width="4.0"/><circle cx="808.05" cy="434.91" r="5.3" fill="#2ca02c"/>
<path d="M817.47 435.17V494.60" stroke="#2ca02c" stroke-width="4.0"/><circle cx="817.47" cy="464.89" r="5.3" fill="#2ca02c"/>
<path d="M819.46 422.54V491.49" stroke="#2ca02c" stroke-width="4.0"/><circle cx="819.46" cy="457.02" r="5.3" fill="#2ca02c"/>
<path d="M820.07 422.34V489.37" stroke="#2ca02c" stroke-width="4.0"/><circle cx="820.07" cy="455.85" r="5.3" fill="#2ca02c"/>
<path d="M820.99 447.38V507.63" stroke="#2ca02c" stroke-width="4.0"/><circle cx="820.99" cy="477.50" r="5.3" fill="#2ca02c"/>
<path d="M821.81 478.20V541.96" stroke="#2ca02c" stroke-width="4.0"/><circle cx="821.81" cy="510.08" r="5.3" fill="#2ca02c"/>
<path d="M821.97 447.80V513.75" stroke="#2ca02c" stroke-width="4.0"/><circle cx="821.97" cy="480.78" r="5.3" fill="#2ca02c"/>
<path d="M822.18 450.70V504.64" stroke="#2ca02c" stroke-width="4.0"/><circle cx="822.18" cy="477.67" r="5.3" fill="#2ca02c"/>
<path d="M822.87 462.80V527.36" stroke="#2ca02c" stroke-width="4.0"/><circle cx="822.87" cy="495.08" r="5.3" fill="#2ca02c"/>
<path d="M823.59 424.57V488.14" stroke="#2ca02c" stroke-width="4.0"/><circle cx="823.59" cy="456.36" r="5.3" fill="#2ca02c"/>
<path d="M824.47 448.18V517.29" stroke="#2ca02c" stroke-width="4.0"/><circle cx="824.47" cy="482.74" r="5.3" fill="#2ca02c"/>
<path d="M831.72 471.92V538.26" stroke="#2ca02c" stroke-width="4.0"/><circle cx="831.72" cy="505.09" r="5.3" fill="#2ca02c"/>
<path d="M832.98 432.18V498.67" stroke="#2ca02c" stroke-width="4.0"/><circle cx="832.98" cy="465.43" r="5.3" fill="#2ca02c"/>
<path d="M836.74 458.04V522.17" stroke="#2ca02c" stroke-width="4.0"/><circle cx="836.74" cy="490.11" r="5.3" fill="#2ca02c"/>
<path d="M837.06 422.80V479.48" stroke="#2ca02c" stroke-width="4.0"/><circle cx="837.06" cy="451.14" r="5.3" fill="#2ca02c"/>
<path d="M840.52 496.11V563.42" stroke="#2ca02c" stroke-width="4.0"/><circle cx="840.52" cy="529.77" r="5.3" fill="#2ca02c"/>
<path d="M842.21 476.92V541.38" stroke="#2ca02c" stroke-width="4.0"/><circle cx="842.21" cy="509.15" r="5.3" fill="#2ca02c"/>
<path d="M842.64 434.08V501.65" stroke="#2ca02c" stroke-width="4.0"/><circle cx="842.64" cy="467.87" r="5.3" fill="#2ca02c"/>
<path d="M844.39 430.77V490.44" stroke="#2ca02c" stroke-width="4.0"/><circle cx="844.39" cy="460.60" r="5.3" fill="#2ca02c"/>
<path d="M846.64 429.14V499.13" stroke="#2ca02c" stroke-width="4.0"/><circle cx="846.64" cy="464.13" r="5.3" fill="#2ca02c"/>
<path d="M846.79 392.24V460.94" stroke="#2ca02c" stroke-width="4.0"/><circle cx="846.79" cy="426.59" r="5.3" fill="#2ca02c"/>
<path d="M850.41 440.57V507.03" stroke="#2ca02c" stroke-width="4.0"/><circle cx="850.41" cy="473.80" r="5.3" fill="#2ca02c"/>
<path d="M856.50 450.89V508.71" stroke="#2ca02c" stroke-width="4.0"/><circle cx="856.50" cy="479.80" r="5.3" fill="#2ca02c"/>
<path d="M858.34 418.97V474.98" stroke="#2ca02c" stroke-width="4.0"/><circle cx="858.34" cy="446.98" r="5.3" fill="#2ca02c"/>
<path d="M858.93 442.64V507.66" stroke="#2ca02c" stroke-width="4.0"/><circle cx="858.93" cy="475.15" r="5.3" fill="#2ca02c"/>
<path d="M866.82 430.41V490.31" stroke="#2ca02c" stroke-width="4.0"/><circle cx="866.82" cy="460.36" r="5.3" fill="#2ca02c"/>
<path d="M866.88 407.85V471.53" stroke="#2ca02c" stroke-width="4.0"/><circle cx="866.88" cy="439.69" r="5.3" fill="#2ca02c"/>
<path d="M872.25 448.62V508.34" stroke="#2ca02c" stroke-width="4.0"/><circle cx="872.25" cy="478.48" r="5.3" fill="#2ca02c"/>
<path d="M874.83 441.80V512.67" stroke="#2ca02c" stroke-width="4.0"/><circle cx="874.83" cy="477.23" r="5.3" fill="#2ca02c"/>
<path d="M881.05 461.51V522.61" stroke="#2ca02c" stroke-width="4.0"/><circle cx="881.05" cy="492.06" r="5.3" fill="#2ca02c"/>
<path d="M881.79 435.17V500.50" stroke="#2ca02c" stroke-width="4.0"/><circle cx="881.79" cy="467.83" r="5.3" fill="#2ca02c"/>
<path d="M884.99 427.63V484.65" stroke="#2ca02c" stroke-width="4.0"/><circle cx="884.99" cy="456.14" r="5.3" fill="#2ca02c"/>
<path d="M895.27 413.58V477.76" stroke="#2ca02c" stroke-width="4.0"/><circle cx="895.27" cy="445.67" r="5.3" fill="#2ca02c"/>
<path d="M895.92 430.77V484.18" stroke="#2ca02c" stroke-width="4.0"/><circle cx="895.92" cy="457.48" r="5.3" fill="#2ca02c"/>
<path d="M898.56 391.83V460.50" stroke="#2ca02c" stroke-width="4.0"/><circle cx="898.56" cy="426.16" r="5.3" fill="#2ca02c"/>
<path d="M906.66 442.73V500.42" stroke="#2ca02c" stroke-width="4.0"/><circle cx="906.66" cy="471.57" r="5.3" fill="#2ca02c"/>
<path d="M907.63 444.35V500.62" stroke="#2ca02c" stroke-width="4.0"/><circle cx="907.63" cy="472.49" r="5.3" fill="#2ca02c"/>
<path d="M908.81 445.95V514.04" stroke="#2ca02c" stroke-width="4.0"/><circle cx="908.81" cy="479.99" r="5.3" fill="#2ca02c"/>
<path d="M910.41 409.68V470.80" stroke="#2ca02c" stroke-width="4.0"/><circle cx="910.41" cy="440.24" r="5.3" fill="#2ca02c"/>
<path d="M911.66 435.57V502.21" stroke="#2ca02c" stroke-width="4.0"/><circle cx="911.66" cy="468.89" r="5.3" fill="#2ca02c"/>
<path d="M919.82 446.70V509.45" stroke="#2ca02c" stroke-width="4.0"/><circle cx="919.82" cy="478.07" r="5.3" fill="#2ca02c"/>
<path d="M920.65 473.79V530.76" stroke="#2ca02c" stroke-width="4.0"/><circle cx="920.65" cy="502.28" r="5.3" fill="#2ca02c"/>
<path d="M920.78 442.16V497.83" stroke="#2ca02c" stroke-width="4.0"/><circle cx="920.78" cy="470.00" r="5.3" fill="#2ca02c"/>
<path d="M921.53 417.72V475.46" stroke="#2ca02c" stroke-width="4.0"/><circle cx="921.53" cy="446.59" r="5.3" fill="#2ca02c"/>
<path d="M923.06 496.73V563.76" stroke="#2ca02c" stroke-width="4.0"/><circle cx="923.06" cy="530.24" r="5.3" fill="#2ca02c"/>
<path d="M927.52 455.79V524.05" stroke="#2ca02c" stroke-width="4.0"/><circle cx="927.52" cy="489.92" r="5.3" fill="#2ca02c"/>
<path d="M928.05 461.73V517.65" stroke="#2ca02c" stroke-width="4.0"/><circle cx="928.05" cy="489.69" r="5.3" fill="#2ca02c"/>
<path d="M930.82 460.53V514.02" stroke="#2ca02c" stroke-width="4.0"/><circle cx="930.82" cy="487.27" r="5.3" fill="#2ca02c"/>
<path d="M932.48 429.81V497.01" stroke="#2ca02c" stroke-width="4.0"/><circle cx="932.48" cy="463.41" r="5.3" fill="#2ca02c"/>
<path d="M932.61 443.05V501.38" stroke="#2ca02c" stroke-width="4.0"/><circle cx="932.61" cy="472.22" r="5.3" fill="#2ca02c"/>
<path d="M933.07 428.72V489.55" stroke="#2ca02c" stroke-width="4.0"/><circle cx="933.07" cy="459.14" r="5.3" fill="#2ca02c"/>
<path d="M934.68 417.63V483.27" stroke="#2ca02c" stroke-width="4.0"/><circle cx="934.68" cy="450.45" r="5.3" fill="#2ca02c"/>
<path d="M936.45 394.89V458.17" stroke="#2ca02c" stroke-width="4.0"/><circle cx="936.45" cy="426.53" r="5.3" fill="#2ca02c"/>
<path d="M937.13 437.02V495.10" stroke="#2ca02c" stroke-width="4.0"/><circle cx="937.13" cy="466.06" r="5.3" fill="#2ca02c"/>
<path d="M939.27 427.55V482.05" stroke="#2ca02c" stroke-width="4.0"/><circle cx="939.27" cy="454.80" r="5.3" fill="#2ca02c"/>
<path d="M941.35 437.23V497.11" stroke="#2ca02c" stroke-width="4.0"/><circle cx="941.35" cy="467.17" r="5.3" fill="#2ca02c"/>
<path d="M943.69 424.75V492.30" stroke="#2ca02c" stroke-width="4.0"/><circle cx="943.69" cy="458.52" r="5.3" fill="#2ca02c"/>
<path d="M943.99 444.47V507.91" stroke="#2ca02c" stroke-width="4.0"/><circle cx="943.99" cy="476.19" r="5.3" fill="#2ca02c"/>
<path d="M945.47 459.38V527.37" stroke="#2ca02c" stroke-width="4.0"/><circle cx="945.47" cy="493.37" r="5.3" fill="#2ca02c"/>
<path d="M952.98 421.90V489.88" stroke="#2ca02c" stroke-width="4.0"/><circle cx="952.98" cy="455.89" r="5.3" fill="#2ca02c"/>
<path d="M954.19 410.99V471.45" stroke="#2ca02c" stroke-width="4.0"/><circle cx="954.19" cy="441.22" r="5.3" fill="#2ca02c"/>
<path d="M954.23 458.71V525.39" stroke="#2ca02c" stroke-width="4.0"/><circle cx="954.23" cy="492.05" r="5.3" fill="#2ca02c"/>
<path d="M955.25 436.63V504.76" stroke="#2ca02c" stroke-width="4.0"/><circle cx="955.25" cy="470.69" r="5.3" fill="#2ca02c"/>
<path d="M957.21 437.77V502.62" stroke="#2ca02c" stroke-width="4.0"/><circle cx="957.21" cy="470.19" r="5.3" fill="#2ca02c"/>
<path d="M163.70 514.16V614.16" stroke="#2ca02c" stroke-width="4.0"/><circle cx="163.70" cy="564.16" r="5.3" fill="#2ca02c"/>
<path d="M644.80 323.90V383.90" stroke="#2ca02c" stroke-width="4.0"/><circle cx="644.80" cy="353.90" r="5.3" fill="#2ca02c"/>
<path d="M397.80 521.80V581.80" stroke="#2ca02c" stroke-width="4.0"/><circle cx="397.80" cy="551.80" r="5.3" fill="#2ca02c"/>
<path d="M410.70 515.00V605.00" stroke="#2ca02c" stroke-width="4.0"/><circle cx="410.70" cy="560.00" r="5.3" fill="#2ca02c"/>
<path d="M570.00 521.40V585.40" stroke="#2ca02c" stroke-width="4.0"/><circle cx="570.00" cy="553.40" r="5.3" fill="#2ca02c"/>
<path d="M959.20 468.00V592.00" stroke="#2ca02c" stroke-width="4.0"/><circle cx="959.20" cy="530.00" r="5.3" fill="#2ca02c"/>
<path d="M548.00 512.00V568.00" stroke="#2ca02c" stroke-width="4.0"/><circle cx="548.00" cy="540.00" r="5.3" fill="#2ca02c"/>
<path d="M683.00 527.00V587.00" stroke="#2ca02c" stroke-width="4.0"/><circle cx="683.00" cy="557.00" r="5.3" fill="#2ca02c"/>
<circle cx="162.72" cy="472.53" r="5.3" fill="#1f77b4"/>
<circle cx="170.04" cy="430.34" r="5.3" fill="#1f77b4"/>
<circle cx="175.30" cy="457.06" r="5.3" fill="#1f77b4"/>
<circle cx="182.50" cy="450.82" r="5.3" fill="#1f77b4"/>
<circle cx="183.89" cy="469.17" r="5.3" fill="#1f77b4"/>
<circle cx="189.26" cy="447.71" r="5.3" fill="#1f77b4"/>
<circle cx="194.18" cy="456.06" r="5.3" fill="#1f77b4"/>
<circle cx="196.30" cy="469.15" r="5.3" fill="#1f77b4"/>
<circle cx="200.36" cy="475.53" r="5.3" fill="#1f77b4"/>
<circle cx="203.68" cy="475.61" r="5.3" fill="#1f77b4"/>
<circle cx="214.27" cy="478.98" r="5.3" fill="#1f77b4"/>
<circle cx="214.92" cy="468.51" r="5.3" fill="#1f77b4"/>
<circle cx="223.78" cy="447.59" r="5.3" fill="#1f77b4"/>
<circle cx="227.33" cy="459.78" r="5.3" fill="#1f77b4"/>
<circle cx="232.21" cy="486.21" r="5.3" fill="#1f77b4"/>
<circle cx="256.87" cy="467.00" r="5.3" fill="#1f77b4"/>
<circle cx="263.60" cy="499.91" r="5.3" fill="#1f77b4"/>
<circle cx="264.56" cy="486.17" r="5.3" fill="#1f77b4"/>
<circle cx="268.04" cy="480.45" r="5.3" fill="#1f77b4"/>
<circle cx="275.61" cy="482.31" r="5.3" fill="#1f77b4"/>
<circle cx="275.86" cy="485.19" r="5.3" fill="#1f77b4"/>
<circle cx="283.29" cy="467.70" r="5.3" fill="#1f77b4"/>
<circle cx="284.62" cy="455.51" r="5.3" fill="#1f77b4"/>
<circle cx="293.54" cy="460.65" r="5.3" fill="#1f77b4"/>
<circle cx="297.64" cy="499.36" r="5.3" fill="#1f77b4"/>
<circle cx="298.79" cy="461.84" r="5.3" fill="#1f77b4"/>
<circle cx="307.14" cy="440.22" r="5.3" fill="#1f77b4"/>
<circle cx="312.76" cy="440.06" r="5.3" fill="#1f77b4"/>
<circle cx="317.13" cy="500.44" r="5.3" fill="#1f77b4"/>
<circle cx="334.28" cy="489.06" r="5.3" fill="#1f77b4"/>
<circle cx="341.54" cy="500.51" r="5.3" fill="#1f77b4"/>
<circle cx="364.83" cy="497.61" r="5.3" fill="#1f77b4"/>
<circle cx="367.00" cy="444.62" r="5.3" fill="#1f77b4"/>
<circle cx="390.79" cy="473.88" r="5.3" fill="#1f77b4"/>
<circle cx="393.79" cy="471.21" r="5.3" fill="#1f77b4"/>
<circle cx="412.54" cy="421.89" r="5.3" fill="#1f77b4"/>
<circle cx="414.27" cy="440.76" r="5.3" fill="#1f77b4"/>
<circle cx="420.29" cy="447.13" r="5.3" fill="#1f77b4"/>
<circle cx="446.06" cy="487.91" r="5.3" fill="#1f77b4"/>
<circle cx="447.81" cy="463.99" r="5.3" fill="#1f77b4"/>
<circle cx="450.14" cy="434.36" r="5.3" fill="#1f77b4"/>
<circle cx="452.35" cy="523.94" r="5.3" fill="#1f77b4"/>
<circle cx="455.46" cy="452.85" r="5.3" fill="#1f77b4"/>
<circle cx="468.07" cy="455.79" r="5.3" fill="#1f77b4"/>
<circle cx="469.00" cy="478.89" r="5.3" fill="#1f77b4"/>
<circle cx="478.06" cy="495.86" r="5.3" fill="#1f77b4"/>
<circle cx="479.37" cy="469.02" r="5.3" fill="#1f77b4"/>
<circle cx="483.42" cy="459.04" r="5.3" fill="#1f77b4"/>
<circle cx="484.60" cy="460.66" r="5.3" fill="#1f77b4"/>
<circle cx="485.48" cy="458.78" r="5.3" fill="#1f77b4"/>
<circle cx="491.17" cy="413.27" r="5.3" fill="#1f77b4"/>
<circle cx="492.26" cy="464.26" r="5.3" fill="#1f77b4"/>
<circle cx="502.84" cy="465.70" r="5.3" fill="#1f77b4"/>
<circle cx="514.62" cy="461.83" r="5.3" fill="#1f77b4"/>
<circle cx="519.30" cy="443.54" r="5.3" fill="#1f77b4"/>
<circle cx="524.00" cy="506.35" r="5.3" fill="#1f77b4"/>
<circle cx="533.11" cy="465.60" r="5.3" fill="#1f77b4"/>
<circle cx="533.25" cy="487.08" r="5.3" fill="#1f77b4"/>
<circle cx="542.14" cy="459.48" r="5.3" fill="#1f77b4"/>
<circle cx="550.92" cy="441.67" r="5.3" fill="#1f77b4"/>
<circle cx="556.89" cy="461.08" r="5.3" fill="#1f77b4"/>
<circle cx="566.16" cy="460.38" r="5.3" fill="#1f77b4"/>
<circle cx="575.02" cy="460.42" r="5.3" fill="#1f77b4"/>
<circle cx="578.99" cy="453.20" r="5.3" fill="#1f77b4"/>
<circle cx="603.94" cy="469.58" r="5.3" fill="#1f77b4"/>
<circle cx="612.50" cy="486.63" r="5.3" fill="#1f77b4"/>
<circle cx="635.09" cy="426.61" r="5.3" fill="#1f77b4"/>
<circle cx="641.80" cy="456.20" r="5.3" fill="#1f77b4"/>
<circle cx="644.41" cy="472.72" r="5.3" fill="#1f77b4"/>
<circle cx="653.31" cy="455.24" r="5.3" fill="#1f77b4"/>
<circle cx="657.81" cy="464.52" r="5.3" fill="#1f77b4"/>
<circle cx="669.31" cy="452.06" r="5.3" fill="#1f77b4"/>
<circle cx="689.95" cy="486.90" r="5.3" fill="#1f77b4"/>
<circle cx="695.95" cy="496.59" r="5.3" fill="#1f77b4"/>
<circle cx="698.34" cy="453.83" r="5.3" fill="#1f77b4"/>
<circle cx="712.45" cy="466.28" r="5.3" fill="#1f77b4"/>
<circle cx="717.49" cy="447.48" r="5.3" fill="#1f77b4"/>
<circle cx="752.96" cy="451.95" r="5.3" fill="#1f77b4"/>
<circle cx="756.71" cy="495.79" r="5.3" fill="#1f77b4"/>
<circle cx="759.38" cy="475.95" r="5.3" fill="#1f77b4"/>
<circle cx="763.91" cy="444.29" r="5.3" fill="#1f77b4"/>
<circle cx="772.46" cy="448.09" r="5.3" fill="#1f77b4"/>
<circle cx="784.28" cy="422.61" r="5.3" fill="#1f77b4"/>
<circle cx="785.79" cy="429.17" r="5.3" fill="#1f77b4"/>
<circle cx="789.86" cy="443.71" r="5.3" fill="#1f77b4"/>
<circle cx="803.09" cy="460.74" r="5.3" fill="#1f77b4"/>
<circle cx="811.05" cy="418.10" r="5.3" fill="#1f77b4"/>
<circle cx="830.62" cy="462.24" r="5.3" fill="#1f77b4"/>
<circle cx="835.49" cy="443.16" r="5.3" fill="#1f77b4"/>
<circle cx="836.02" cy="474.88" r="5.3" fill="#1f77b4"/>
<circle cx="855.57" cy="508.38" r="5.3" fill="#1f77b4"/>
<circle cx="859.13" cy="487.80" r="5.3" fill="#1f77b4"/>
<circle cx="875.96" cy="476.65" r="5.3" fill="#1f77b4"/>
<circle cx="879.22" cy="458.52" r="5.3" fill="#1f77b4"/>
<circle cx="880.64" cy="495.14" r="5.3" fill="#1f77b4"/>
<circle cx="884.99" cy="461.30" r="5.3" fill="#1f77b4"/>
<circle cx="888.47" cy="464.79" r="5.3" fill="#1f77b4"/>
<circle cx="891.17" cy="475.18" r="5.3" fill="#1f77b4"/>
<circle cx="902.44" cy="459.65" r="5.3" fill="#1f77b4"/>
<circle cx="909.09" cy="474.67" r="5.3" fill="#1f77b4"/>
<circle cx="917.77" cy="464.48" r="5.3" fill="#1f77b4"/>
<circle cx="933.15" cy="543.27" r="5.3" fill="#1f77b4"/>
<circle cx="942.55" cy="494.01" r="5.3" fill="#1f77b4"/>
<circle cx="956.16" cy="474.12" r="5.3" fill="#1f77b4"/>
<circle cx="162.50" cy="483.00" r="5.3" fill="#1f77b4"/>
<circle cx="478.00" cy="535.00" r="5.3" fill="#1f77b4"/>
</g>
<rect x="422.4" y="40.2" width="277.9" height="84.1" rx="5" ry="5" fill="#fff" fill-opacity="0.8" stroke="#cccccc" stroke-width="2.1"/>
<circle cx="458.7" cy="61.2" r="5.4" fill="#1f77b4"/>
<circle cx="458.7" cy="99.9" r="5.4" fill="#2ca02c"/>
<text x="506.00" y="70.70" font-size="26.15" text-anchor="start" font-family="'DejaVu Sans', sans-serif" >Observation 6</text>
<text x="506.00" y="109.00" font-size="26.15" text-anchor="start" font-family="'DejaVu Sans', sans-serif" >Observation 7</text>
<rect x="124.00" y="27.00" width="875.00" height="258.50" fill="none" stroke="#000" stroke-width="2.1" stroke-linejoin="miter"/>
<rect x="124.00" y="337.30" width="875.00" height="258.20" fill="none" stroke="#000" stroke-width="2.1" stroke-linejoin="miter"/>
<line x1="185.43" y1="285.50" x2="185.43" y2="294.80" stroke="#000" stroke-width="2.1"/>
<line x1="304.76" y1="285.50" x2="304.76" y2="294.80" stroke="#000" stroke-width="2.1"/>
<line x1="424.09" y1="285.50" x2="424.09" y2="294.80" stroke="#000" stroke-width="2.1"/>
<line x1="543.42" y1="285.50" x2="543.42" y2="294.80" stroke="#000" stroke-width="2.1"/>
<line x1="662.75" y1="285.50" x2="662.75" y2="294.80" stroke="#000" stroke-width="2.1"/>
<line x1="782.08" y1="285.50" x2="782.08" y2="294.80" stroke="#000" stroke-width="2.1"/>
<line x1="901.41" y1="285.50" x2="901.41" y2="294.80" stroke="#000" stroke-width="2.1"/>
<line x1="185.43" y1="595.50" x2="185.43" y2="604.80" stroke="#000" stroke-width="2.1"/>
<text x="185.43" y="633.70" font-size="26.15" text-anchor="middle" font-family="'DejaVu Sans', sans-serif" >0.46</text>
<line x1="304.76" y1="595.50" x2="304.76" y2="604.80" stroke="#000" stroke-width="2.1"/>
<text x="304.76" y="633.70" font-size="26.15" text-anchor="middle" font-family="'DejaVu Sans', sans-serif" >0.47</text>
<line x1="424.09" y1="595.50" x2="424.09" y2="604.80" stroke="#000" stroke-width="2.1"/>
<text x="424.09" y="633.70" font-size="26.15" text-anchor="middle" font-family="'DejaVu Sans', sans-serif" >0.48</text>
<line x1="543.42" y1="595.50" x2="543.42" y2="604.80" stroke="#000" stroke-width="2.1"/>
<text x="543.42" y="633.70" font-size="26.15" text-anchor="middle" font-family="'DejaVu Sans', sans-serif" >0.49</text>
<line x1="662.75" y1="595.50" x2="662.75" y2="604.80" stroke="#000" stroke-width="2.1"/>
<text x="662.75" y="633.70" font-size="26.15" text-anchor="middle" font-family="'DejaVu Sans', sans-serif" >0.50</text>
<line x1="782.08" y1="595.50" x2="782.08" y2="604.80" stroke="#000" stroke-width="2.1"/>
<text x="782.08" y="633.70" font-size="26.15" text-anchor="middle" font-family="'DejaVu Sans', sans-serif" >0.51</text>
<line x1="901.41" y1="595.50" x2="901.41" y2="604.80" stroke="#000" stroke-width="2.1"/>
<text x="901.41" y="633.70" font-size="26.15" text-anchor="middle" font-family="'DejaVu Sans', sans-serif" >0.52</text>
<line x1="114.70" y1="253.27" x2="124.00" y2="253.27" stroke="#000" stroke-width="2.1"/>
<text x="105.50" y="263.87" font-size="26.15" text-anchor="end" font-family="'DejaVu Sans', sans-serif" >−0.2</text>
<line x1="114.70" y1="188.40" x2="124.00" y2="188.40" stroke="#000" stroke-width="2.1"/>
<text x="105.50" y="199.00" font-size="26.15" text-anchor="end" font-family="'DejaVu Sans', sans-serif" >0.0</text>
<line x1="114.70" y1="123.53" x2="124.00" y2="123.53" stroke="#000" stroke-width="2.1"/>
<text x="105.50" y="134.13" font-size="26.15" text-anchor="end" font-family="'DejaVu Sans', sans-serif" >0.2</text>
<line x1="114.70" y1="58.66" x2="124.00" y2="58.66" stroke="#000" stroke-width="2.1"/>
<text x="105.50" y="69.26" font-size="26.15" text-anchor="end" font-family="'DejaVu Sans', sans-serif" >0.4</text>
<line x1="114.70" y1="569.30" x2="124.00" y2="569.30" stroke="#000" stroke-width="2.1"/>
<text x="105.50" y="579.90" font-size="26.15" text-anchor="end" font-family="'DejaVu Sans', sans-serif" >−0.2</text>
<line x1="114.70" y1="466.10" x2="124.00" y2="466.10" stroke="#000" stroke-width="2.1"/>
<text x="105.50" y="476.70" font-size="26.15" text-anchor="end" font-family="'DejaVu Sans', sans-serif" >0.0</text>
<line x1="114.70" y1="362.90" x2="124.00" y2="362.90" stroke="#000" stroke-width="2.1"/>
<text x="105.50" y="373.50" font-size="26.15" text-anchor="end" font-family="'DejaVu Sans', sans-serif" >0.2</text>
<text x="124.00" y="19.70" font-size="26.15" text-anchor="start" font-family="'DejaVu Sans', sans-serif" >+1e3</text>
<text x="561.50" y="669.40" font-size="26.15" text-anchor="middle" font-family="'DejaVu Sans', sans-serif" >Orbital Phase</text>
<text x="26.40" y="156.25" font-size="26.15" text-anchor="middle" font-family="'DejaVu Sans', sans-serif" transform="rotate(-90 26.40 156.25)" >Flux (ppt)</text>
<text x="26.40" y="466.40" font-size="26.15" text-anchor="middle" font-family="'DejaVu Sans', sans-serif" transform="rotate(-90 26.40 466.40)" >Residual (ppt)</text>
<g clip-path="url(#trt)">
<path d="M1208.30 39.55V62.75M1216.35 38.88V62.08M1224.39 42.85V66.05M1232.44 42.81V66.01M1240.48 67.75V90.95M1248.53 55.46V78.66M1256.58 100.61V123.81M1264.62 91.22V114.42M1272.67 92.95V116.15M1280.71 75.85V99.05M1288.76 66.08V89.28M1296.81 77.29V100.49M1304.85 80.32V103.52M1312.90 98.45V121.65M1320.94 78.09V101.29M1328.99 82.60V105.80M1337.04 117.57V140.77M1345.08 115.03V138.23M1353.13 97.40V120.60M1361.17 74.52V97.72M1369.22 106.37V129.57M1377.27 113.38V136.58M1385.31 86.76V109.96M1393.36 79.85V103.05M1401.40 98.72V121.92M1409.45 100.58V123.78M1417.50 84.94V108.14M1425.54 98.01V121.21M1433.59 103.82V127.02M1441.63 102.23V125.43M1449.68 105.89V129.09M1457.73 128.66V151.86M1465.77 131.56V154.76M1473.82 117.85V141.05M1481.86 112.37V135.57M1489.91 103.52V126.72M1497.96 109.89V133.09M1506.00 111.77V134.97M1514.05 108.46V131.66M1522.09 128.54V151.74M1530.14 126.40V149.60M1538.19 114.99V138.19M1546.23 136.94V160.14M1554.28 143.45V166.65M1562.32 118.28V141.48M1570.37 127.21V150.41M1578.42 147.50V170.70M1586.46 147.85V171.05M1594.51 174.37V197.57M1602.55 189.12V212.32M1610.60 199.72V222.92M1618.65 191.09V214.29M1626.69 189.61V212.81M1634.74 219.28V242.48M1642.78 201.66V224.86M1650.83 248.62V271.82M1658.88 211.29V234.49M1666.92 215.96V239.16M1674.97 236.83V260.03M1683.01 230.08V253.28M1691.06 194.27V217.47M1699.11 210.08V233.28M1707.15 204.72V227.92M1715.20 234.03V257.23M1723.24 235.94V259.14M1731.29 220.61V243.81M1739.34 249.37V272.57M1747.38 232.45V255.65M1755.43 239.75V262.95M1763.47 220.41V243.61M1771.52 241.56V264.76M1779.57 231.90V255.10M1787.61 203.88V227.08M1795.66 208.88V232.08M1803.70 223.39V246.59M1811.75 213.19V236.39M1819.80 202.65V225.85M1827.84 205.47V228.67M1835.89 193.12V216.32M1843.93 170.82V194.02M1851.98 149.06V172.26M1860.03 170.40V193.60M1868.07 159.74V182.94M1876.12 177.32V200.52M1884.16 165.97V189.17M1892.21 171.71V194.91M1900.26 175.93V199.13M1908.30 169.77V192.97M1916.35 173.30V196.50M1924.39 161.40V184.60M1932.44 187.84V211.04M1940.49 168.88V192.08M1948.53 162.16V185.36M1956.58 180.37V203.57M1964.62 199.19V222.39M1972.67 196.63V219.83M1980.72 184.38V207.58M1988.76 192.96V216.16M1996.81 180.71V203.91M2004.85 239.82V263.02" stroke="#1f77b4" stroke-width="4.0" fill="none"/>
<g fill="#1f77b4"><circle cx="1208.30" cy="51.15" r="5.3"/><circle cx="1216.35" cy="50.48" r="5.3"/><circle cx="1224.39" cy="54.45" r="5.3"/><circle cx="1232.44" cy="54.41" r="5.3"/><circle cx="1240.48" cy="79.35" r="5.3"/><circle cx="1248.53" cy="67.06" r="5.3"/><circle cx="1256.58" cy="112.21" r="5.3"/><circle cx="1264.62" cy="102.82" r="5.3"/><circle cx="1272.67" cy="104.55" r="5.3"/><circle cx="1280.71" cy="87.45" r="5.3"/><circle cx="1288.76" cy="77.68" r="5.3"/><circle cx="1296.81" cy="88.89" r="5.3"/><circle cx="1304.85" cy="91.92" r="5.3"/><circle cx="1312.90" cy="110.05" r="5.3"/><circle cx="1320.94" cy="89.69" r="5.3"/><circle cx="1328.99" cy="94.20" r="5.3"/><circle cx="1337.04" cy="129.17" r="5.3"/><circle cx="1345.08" cy="126.63" r="5.3"/><circle cx="1353.13" cy="109.00" r="5.3"/><circle cx="1361.17" cy="86.12" r="5.3"/><circle cx="1369.22" cy="117.97" r="5.3"/><circle cx="1377.27" cy="124.98" r="5.3"/><circle cx="1385.31" cy="98.36" r="5.3"/><circle cx="1393.36" cy="91.45" r="5.3"/><circle cx="1401.40" cy="110.32" r="5.3"/><circle cx="1409.45" cy="112.18" r="5.3"/><circle cx="1417.50" cy="96.54" r="5.3"/><circle cx="1425.54" cy="109.61" r="5.3"/><circle cx="1433.59" cy="115.42" r="5.3"/><circle cx="1441.63" cy="113.83" r="5.3"/><circle cx="1449.68" cy="117.49" r="5.3"/><circle cx="1457.73" cy="140.26" r="5.3"/><circle cx="1465.77" cy="143.16" r="5.3"/><circle cx="1473.82" cy="129.45" r="5.3"/><circle cx="1481.86" cy="123.97" r="5.3"/><circle cx="1489.91" cy="115.12" r="5.3"/><circle cx="1497.96" cy="121.49" r="5.3"/><circle cx="1506.00" cy="123.37" r="5.3"/><circle cx="1514.05" cy="120.06" r="5.3"/><circle cx="1522.09" cy="140.14" r="5.3"/><circle cx="1530.14" cy="138.00" r="5.3"/><circle cx="1538.19" cy="126.59" r="5.3"/><circle cx="1546.23" cy="148.54" r="5.3"/><circle cx="1554.28" cy="155.05" r="5.3"/><circle cx="1562.32" cy="129.88" r="5.3"/><circle cx="1570.37" cy="138.81" r="5.3"/><circle cx="1578.42" cy="159.10" r="5.3"/><circle cx="1586.46" cy="159.45" r="5.3"/><circle cx="1594.51" cy="185.97" r="5.3"/><circle cx="1602.55" cy="200.72" r="5.3"/><circle cx="1610.60" cy="211.32" r="5.3"/><circle cx="1618.65" cy="202.69" r="5.3"/><circle cx="1626.69" cy="201.21" r="5.3"/><circle cx="1634.74" cy="230.88" r="5.3"/><circle cx="1642.78" cy="213.26" r="5.3"/><circle cx="1650.83" cy="260.22" r="5.3"/><circle cx="1658.88" cy="222.89" r="5.3"/><circle cx="1666.92" cy="227.56" r="5.3"/><circle cx="1674.97" cy="248.43" r="5.3"/><circle cx="1683.01" cy="241.68" r="5.3"/><circle cx="1691.06" cy="205.87" r="5.3"/><circle cx="1699.11" cy="221.68" r="5.3"/><circle cx="1707.15" cy="216.32" r="5.3"/><circle cx="1715.20" cy="245.63" r="5.3"/><circle cx="1723.24" cy="247.54" r="5.3"/><circle cx="1731.29" cy="232.21" r="5.3"/><circle cx="1739.34" cy="260.97" r="5.3"/><circle cx="1747.38" cy="244.05" r="5.3"/><circle cx="1755.43" cy="251.35" r="5.3"/><circle cx="1763.47" cy="232.01" r="5.3"/><circle cx="1771.52" cy="253.16" r="5.3"/><circle cx="1779.57" cy="243.50" r="5.3"/><circle cx="1787.61" cy="215.48" r="5.3"/><circle cx="1795.66" cy="220.48" r="5.3"/><circle cx="1803.70" cy="234.99" r="5.3"/><circle cx="1811.75" cy="224.79" r="5.3"/><circle cx="1819.80" cy="214.25" r="5.3"/><circle cx="1827.84" cy="217.07" r="5.3"/><circle cx="1835.89" cy="204.72" r="5.3"/><circle cx="1843.93" cy="182.42" r="5.3"/><circle cx="1851.98" cy="160.66" r="5.3"/><circle cx="1860.03" cy="182.00" r="5.3"/><circle cx="1868.07" cy="171.34" r="5.3"/><circle cx="1876.12" cy="188.92" r="5.3"/><circle cx="1884.16" cy="177.57" r="5.3"/><circle cx="1892.21" cy="183.31" r="5.3"/><circle cx="1900.26" cy="187.53" r="5.3"/><circle cx="1908.30" cy="181.37" r="5.3"/><circle cx="1916.35" cy="184.90" r="5.3"/><circle cx="1924.39" cy="173.00" r="5.3"/><circle cx="1932.44" cy="199.44" r="5.3"/><circle cx="1940.49" cy="180.48" r="5.3"/><circle cx="1948.53" cy="173.76" r="5.3"/><circle cx="1956.58" cy="191.97" r="5.3"/><circle cx="1964.62" cy="210.79" r="5.3"/><circle cx="1972.67" cy="208.23" r="5.3"/><circle cx="1980.72" cy="195.98" r="5.3"/><circle cx="1988.76" cy="204.56" r="5.3"/><circle cx="1996.81" cy="192.31" r="5.3"/><circle cx="2004.85" cy="251.42" r="5.3"/></g>
</g>
<g clip-path="url(#trt)">
<polyline points="1204.30,65.60 1206.30,66.16 1208.30,66.71 1210.30,67.27 1212.30,67.83 1214.30,68.38 1216.30,68.94 1218.30,69.50 1220.30,70.05 1222.30,70.61 1224.30,71.17 1226.30,71.73 1228.30,72.28 1230.30,72.84 1232.30,73.40 1234.30,73.95 1236.30,74.51 1238.30,75.07 1240.30,75.62 1242.30,76.18 1244.30,76.74 1246.30,77.29 1248.30,77.85 1250.30,78.41 1252.30,78.96 1254.30,79.52 1256.30,80.08 1258.30,80.63 1260.30,81.19 1262.30,81.75 1264.30,82.30 1266.30,82.82 1268.30,83.32 1270.30,83.82 1272.30,84.31 1274.30,84.81 1276.30,85.31 1278.30,85.80 1280.30,86.30 1282.30,86.80 1284.30,87.29 1286.30,87.79 1288.30,88.29 1290.30,88.78 1292.30,89.28 1294.30,89.78 1296.30,90.27 1298.30,90.77 1300.30,91.27 1302.30,91.76 1304.30,92.26 1306.30,92.76 1308.30,93.25 1310.30,93.75 1312.30,94.25 1314.30,94.74 1316.30,95.24 1318.30,95.74 1320.30,96.24 1322.30,96.73 1324.30,97.23 1326.30,97.70 1328.30,98.14 1330.30,98.54 1332.30,98.94 1334.30,99.34 1336.30,99.74 1338.30,100.14 1340.30,100.54 1342.30,100.94 1344.30,101.34 1346.30,101.75 1348.30,102.15 1350.30,102.55 1352.30,102.95 1354.30,103.35 1356.30,103.75 1358.30,104.15 1360.30,104.55 1362.30,104.95 1364.30,105.35 1366.30,105.75 1368.30,106.15 1370.30,106.55 1372.30,106.95 1374.30,107.35 1376.30,107.75 1378.30,108.15 1380.30,108.55 1382.30,108.96 1384.30,109.36 1386.30,109.76 1388.30,110.16 1390.30,110.56 1392.30,110.96 1394.30,111.36 1396.30,111.76 1398.30,112.16 1400.30,112.53 1402.30,112.87 1404.30,113.20 1406.30,113.53 1408.30,113.85 1410.30,114.18 1412.30,114.50 1414.30,114.83 1416.30,115.16 1418.30,115.48 1420.30,115.81 1422.30,116.13 1424.30,116.46 1426.30,116.79 1428.30,117.11 1430.30,117.44 1432.30,117.76 1434.30,118.09 1436.30,118.42 1438.30,118.74 1440.30,119.07 1442.30,119.39 1444.30,119.72 1446.30,120.05 1448.30,120.37 1450.30,120.70 1452.30,121.02 1454.30,121.35 1456.30,121.67 1458.30,122.00 1460.30,122.33 1462.30,122.65 1464.30,122.98 1466.30,123.30 1468.30,123.63 1470.30,123.96 1472.30,124.28 1474.30,124.61 1476.30,124.93 1478.30,125.26 1480.30,125.58 1482.30,125.89 1484.30,126.19 1486.30,126.48 1488.30,126.78 1490.30,127.07 1492.30,127.36 1494.30,127.66 1496.30,127.95 1498.30,128.25 1500.30,128.54 1502.30,128.84 1504.30,129.13 1506.30,129.43 1508.30,129.72 1510.30,130.02 1512.30,130.31 1514.30,130.60 1516.30,130.90 1518.30,131.19 1520.30,131.49 1522.30,131.78 1524.30,132.08 1526.30,132.37 1528.30,132.67 1530.30,132.96 1532.30,133.26 1534.30,133.55 1536.30,133.85 1538.30,134.14 1540.30,134.43 1542.30,134.73 1544.30,135.02 1546.30,135.32 1548.30,135.61 1550.30,135.91 1552.30,136.20 1554.30,136.53 1556.30,136.96 1558.30,137.47 1560.30,137.99 1562.30,138.69 1564.30,139.68 1566.30,140.91 1568.30,142.30 1570.30,144.43 1572.30,147.31 1574.30,150.46 1576.30,153.61 1578.30,156.76 1580.30,159.91 1582.30,163.06 1584.30,166.21 1586.30,169.36 1588.30,172.52 1590.30,175.67 1592.30,178.82 1594.30,181.97 1596.30,185.12 1598.30,188.27 1600.30,191.42 1602.30,194.57 1604.30,197.72 1606.30,200.87 1608.30,204.02 1610.30,207.17 1612.30,210.29 1614.30,213.09 1616.30,215.50 1618.30,217.67 1620.30,219.59 1622.30,220.88 1624.30,221.59 1626.30,222.18 1628.30,222.66 1630.30,223.01 1632.30,223.27 1634.30,223.54 1636.30,223.81 1638.30,224.08 1640.30,224.34 1642.30,224.61 1644.30,224.88 1646.30,225.14 1648.30,225.41 1650.30,225.68 1652.30,225.95 1654.30,226.21 1656.30,226.48 1658.30,226.75 1660.30,227.01 1662.30,227.28 1664.30,227.55 1666.30,227.81 1668.30,228.08 1670.30,228.35 1672.30,228.62 1674.30,228.88 1676.30,229.15 1678.30,229.42 1680.30,229.68 1682.30,229.95 1684.30,230.22 1686.30,230.49 1688.30,230.75 1690.30,231.02 1692.30,231.29 1694.30,231.55 1696.30,231.82 1698.30,232.09 1700.30,232.36 1702.30,232.62 1704.30,232.89 1706.30,233.16 1708.30,233.42 1710.30,233.69 1712.30,233.96 1714.30,234.22 1716.30,234.49 1718.30,234.76 1720.30,235.03 1722.30,235.29 1724.30,235.56 1726.30,235.83 1728.30,236.09 1730.30,236.36 1732.30,236.63 1734.30,236.90 1736.30,237.16 1738.30,237.43 1740.30,237.70 1742.30,237.96 1744.30,238.23 1746.30,238.50 1748.30,238.77 1750.30,239.03 1752.30,239.30 1754.30,239.57 1756.30,239.83 1758.30,240.10 1760.30,240.37 1762.30,240.64 1764.30,240.90 1766.30,241.17 1768.30,241.44 1770.30,241.70 1772.30,241.97 1774.30,242.24 1776.30,242.50 1778.30,242.77 1780.30,243.04 1782.30,243.31 1784.30,243.56 1786.30,243.66 1788.30,243.57 1790.30,243.33 1792.30,242.64 1794.30,241.40 1796.30,239.81 1798.30,237.99 1800.30,235.88 1802.30,233.61 1804.30,231.33 1806.30,229.05 1808.30,226.78 1810.30,224.50 1812.30,222.22 1814.30,219.95 1816.30,217.67 1818.30,215.39 1820.30,213.12 1822.30,210.84 1824.30,208.56 1826.30,206.29 1828.30,204.01 1830.30,201.73 1832.30,199.46 1834.30,197.18 1836.30,194.90 1838.30,192.63 1840.30,190.35 1842.30,188.07 1844.30,185.95 1846.30,184.20 1848.30,182.80 1850.30,181.70 1852.30,181.20 1854.30,181.24 1856.30,181.38 1858.30,181.57 1860.30,181.82 1862.30,182.09 1864.30,182.37 1866.30,182.64 1868.30,182.92 1870.30,183.19 1872.30,183.47 1874.30,183.74 1876.30,184.02 1878.30,184.29 1880.30,184.57 1882.30,184.85 1884.30,185.12 1886.30,185.40 1888.30,185.67 1890.30,185.95 1892.30,186.22 1894.30,186.50 1896.30,186.77 1898.30,187.05 1900.30,187.32 1902.30,187.60 1904.30,187.87 1906.30,188.15 1908.30,188.43 1910.30,188.70 1912.30,188.98 1914.30,189.25 1916.30,189.53 1918.30,189.80 1920.30,190.08 1922.30,190.35 1924.30,190.63 1926.30,190.90 1928.30,191.18 1930.30,191.45 1932.30,191.73 1934.30,192.00 1936.30,192.28 1938.30,192.56 1940.30,192.83 1942.30,193.11 1944.30,193.38 1946.30,193.66 1948.30,193.93 1950.30,194.21 1952.30,194.48 1954.30,194.76 1956.30,195.03 1958.30,195.31 1960.30,195.58 1962.30,195.86 1964.30,196.13 1966.30,196.41 1968.30,196.69 1970.30,196.96 1972.30,197.24 1974.30,197.51 1976.30,197.79 1978.30,198.06 1980.30,198.34 1982.30,198.61 1984.30,198.89 1986.30,199.16 1988.30,199.44 1990.30,199.71 1992.30,199.99 1994.30,200.27 1996.30,200.54 1998.30,200.82 2000.30,201.09 2002.30,201.37 2004.30,201.64 2006.30,201.92 2006.90,202.00" fill="none" stroke="#ff7f0e" stroke-width="8.7" stroke-linejoin="round" stroke-linecap="butt" />
</g>
<g clip-path="url(#trr)">
<path d="M1208.30 377.91V431.91M1216.35 371.15V425.15M1224.39 375.18V429.18M1232.44 369.86V423.86M1240.48 422.65V476.65M1248.53 388.85V442.85M1256.58 488.63V542.63M1264.62 461.59V515.59M1272.67 460.95V514.95M1280.71 416.53V470.53M1288.76 389.18V443.18M1296.81 410.58V464.58M1304.85 412.99V466.99M1312.90 450.49V504.49M1320.94 398.51V452.51M1328.99 404.63V458.63M1337.04 482.19V536.19M1345.08 472.54V526.54M1353.13 427.80V481.80M1361.17 370.83V424.83M1369.22 441.16V495.16M1377.27 453.71V507.71M1385.31 388.05V442.05M1393.36 368.26V422.26M1401.40 408.49V462.49M1409.45 409.77V463.77M1417.50 370.35V424.35M1425.54 397.71V451.71M1433.59 408.17V462.17M1441.63 401.41V455.41M1449.68 406.88V460.88M1457.73 456.77V510.77M1465.77 460.47V514.47M1473.82 425.55V479.55M1481.86 409.77V463.77M1489.91 386.44V440.44M1497.96 398.51V452.51M1506.00 400.12V454.12M1514.05 389.66V443.66M1522.09 433.59V487.59M1530.14 425.87V479.87M1538.19 396.58V450.58M1546.23 444.86V498.86M1554.28 457.25V511.25M1562.32 394.00V448.00M1570.37 401.41V455.41M1578.42 419.11V473.11M1586.46 390.46V444.46M1594.51 422.65V476.65M1602.55 427.48V481.48M1610.60 422.65V476.65M1618.65 378.39V432.39M1626.69 365.04V419.04M1634.74 431.02V485.02M1642.78 387.57V441.57M1650.83 494.26V548.26M1658.88 404.95V458.95M1666.92 413.32V467.32M1674.97 459.34V513.34M1683.01 441.16V495.16M1691.06 355.38V409.38M1699.11 389.66V443.66M1707.15 374.69V428.69M1715.20 440.35V494.35M1723.24 442.28V496.28M1731.29 404.14V458.14M1739.34 468.51V522.51M1747.38 426.67V480.67M1755.43 441.16V495.16M1763.47 393.68V447.68M1771.52 440.35V494.35M1779.57 415.41V469.41M1787.61 348.62V402.62M1795.66 367.93V421.93M1803.70 421.04V475.04M1811.75 418.63V472.63M1819.80 415.41V469.41M1827.84 443.25V497.25M1835.89 435.84V489.84M1843.93 405.27V459.27M1851.98 366.65V420.65M1860.03 414.60V468.60M1868.07 387.24V441.24M1876.12 425.55V479.55M1884.16 396.58V450.58M1892.21 407.36V461.36M1900.26 414.60V468.60M1908.30 397.71V451.71M1916.35 403.34V457.34M1924.39 373.08V427.08M1932.44 431.98V485.98M1940.49 385.31V439.31M1948.53 367.13V421.13M1956.58 406.88V460.88M1964.62 448.08V502.08M1972.67 439.55V493.55M1980.72 408.49V462.49M1988.76 425.87V479.87M1996.81 394.81V448.81M2004.85 529.67V583.67" stroke="#1f77b4" stroke-width="4.0" fill="none"/>
<g fill="#1f77b4"><circle cx="1208.30" cy="404.91" r="5.3"/><circle cx="1216.35" cy="398.15" r="5.3"/><circle cx="1224.39" cy="402.18" r="5.3"/><circle cx="1232.44" cy="396.86" r="5.3"/><circle cx="1240.48" cy="449.65" r="5.3"/><circle cx="1248.53" cy="415.85" r="5.3"/><circle cx="1256.58" cy="515.63" r="5.3"/><circle cx="1264.62" cy="488.59" r="5.3"/><circle cx="1272.67" cy="487.95" r="5.3"/><circle cx="1280.71" cy="443.53" r="5.3"/><circle cx="1288.76" cy="416.18" r="5.3"/><circle cx="1296.81" cy="437.58" r="5.3"/><circle cx="1304.85" cy="439.99" r="5.3"/><circle cx="1312.90" cy="477.49" r="5.3"/><circle cx="1320.94" cy="425.51" r="5.3"/><circle cx="1328.99" cy="431.63" r="5.3"/><circle cx="1337.04" cy="509.19" r="5.3"/><circle cx="1345.08" cy="499.54" r="5.3"/><circle cx="1353.13" cy="454.80" r="5.3"/><circle cx="1361.17" cy="397.83" r="5.3"/><circle cx="1369.22" cy="468.16" r="5.3"/><circle cx="1377.27" cy="480.71" r="5.3"/><circle cx="1385.31" cy="415.05" r="5.3"/><circle cx="1393.36" cy="395.26" r="5.3"/><circle cx="1401.40" cy="435.49" r="5.3"/><circle cx="1409.45" cy="436.77" r="5.3"/><circle cx="1417.50" cy="397.35" r="5.3"/><circle cx="1425.54" cy="424.71" r="5.3"/><circle cx="1433.59" cy="435.17" r="5.3"/><circle cx="1441.63" cy="428.41" r="5.3"/><circle cx="1449.68" cy="433.88" r="5.3"/><circle cx="1457.73" cy="483.77" r="5.3"/><circle cx="1465.77" cy="487.47" r="5.3"/><circle cx="1473.82" cy="452.55" r="5.3"/><circle cx="1481.86" cy="436.77" r="5.3"/><circle cx="1489.91" cy="413.44" r="5.3"/><circle cx="1497.96" cy="425.51" r="5.3"/><circle cx="1506.00" cy="427.12" r="5.3"/><circle cx="1514.05" cy="416.66" r="5.3"/><circle cx="1522.09" cy="460.59" r="5.3"/><circle cx="1530.14" cy="452.87" r="5.3"/><circle cx="1538.19" cy="423.58" r="5.3"/><circle cx="1546.23" cy="471.86" r="5.3"/><circle cx="1554.28" cy="484.25" r="5.3"/><circle cx="1562.32" cy="421.00" r="5.3"/><circle cx="1570.37" cy="428.41" r="5.3"/><circle cx="1578.42" cy="446.11" r="5.3"/><circle cx="1586.46" cy="417.46" r="5.3"/><circle cx="1594.51" cy="449.65" r="5.3"/><circle cx="1602.55" cy="454.48" r="5.3"/><circle cx="1610.60" cy="449.65" r="5.3"/><circle cx="1618.65" cy="405.39" r="5.3"/><circle cx="1626.69" cy="392.04" r="5.3"/><circle cx="1634.74" cy="458.02" r="5.3"/><circle cx="1642.78" cy="414.57" r="5.3"/><circle cx="1650.83" cy="521.26" r="5.3"/><circle cx="1658.88" cy="431.95" r="5.3"/><circle cx="1666.92" cy="440.32" r="5.3"/><circle cx="1674.97" cy="486.34" r="5.3"/><circle cx="1683.01" cy="468.16" r="5.3"/><circle cx="1691.06" cy="382.38" r="5.3"/><circle cx="1699.11" cy="416.66" r="5.3"/><circle cx="1707.15" cy="401.69" r="5.3"/><circle cx="1715.20" cy="467.35" r="5.3"/><circle cx="1723.24" cy="469.28" r="5.3"/><circle cx="1731.29" cy="431.14" r="5.3"/><circle cx="1739.34" cy="495.51" r="5.3"/><circle cx="1747.38" cy="453.67" r="5.3"/><circle cx="1755.43" cy="468.16" r="5.3"/><circle cx="1763.47" cy="420.68" r="5.3"/><circle cx="1771.52" cy="467.35" r="5.3"/><circle cx="1779.57" cy="442.41" r="5.3"/><circle cx="1787.61" cy="375.62" r="5.3"/><circle cx="1795.66" cy="394.93" r="5.3"/><circle cx="1803.70" cy="448.04" r="5.3"/><circle cx="1811.75" cy="445.63" r="5.3"/><circle cx="1819.80" cy="442.41" r="5.3"/><circle cx="1827.84" cy="470.25" r="5.3"/><circle cx="1835.89" cy="462.84" r="5.3"/><circle cx="1843.93" cy="432.27" r="5.3"/><circle cx="1851.98" cy="393.65" r="5.3"/><circle cx="1860.03" cy="441.60" r="5.3"/><circle cx="1868.07" cy="414.24" r="5.3"/><circle cx="1876.12" cy="452.55" r="5.3"/><circle cx="1884.16" cy="423.58" r="5.3"/><circle cx="1892.21" cy="434.36" r="5.3"/><circle cx="1900.26" cy="441.60" r="5.3"/><circle cx="1908.30" cy="424.71" r="5.3"/><circle cx="1916.35" cy="430.34" r="5.3"/><circle cx="1924.39" cy="400.08" r="5.3"/><circle cx="1932.44" cy="458.98" r="5.3"/><circle cx="1940.49" cy="412.31" r="5.3"/><circle cx="1948.53" cy="394.13" r="5.3"/><circle cx="1956.58" cy="433.88" r="5.3"/><circle cx="1964.62" cy="475.08" r="5.3"/><circle cx="1972.67" cy="466.55" r="5.3"/><circle cx="1980.72" cy="435.49" r="5.3"/><circle cx="1988.76" cy="452.87" r="5.3"/><circle cx="1996.81" cy="421.81" r="5.3"/><circle cx="2004.85" cy="556.67" r="5.3"/></g>
</g>
<rect x="1168.60" y="27.00" width="875.00" height="258.50" fill="none" stroke="#000" stroke-width="2.1" stroke-linejoin="miter"/>
<rect x="1168.60" y="337.30" width="875.00" height="258.10" fill="none" stroke="#000" stroke-width="2.1" stroke-linejoin="miter"/>
<line x1="1170.97" y1="285.50" x2="1170.97" y2="294.80" stroke="#000" stroke-width="2.1"/>
<line x1="1326.29" y1="285.50" x2="1326.29" y2="294.80" stroke="#000" stroke-width="2.1"/>
<line x1="1481.61" y1="285.50" x2="1481.61" y2="294.80" stroke="#000" stroke-width="2.1"/>
<line x1="1636.93" y1="285.50" x2="1636.93" y2="294.80" stroke="#000" stroke-width="2.1"/>
<line x1="1792.25" y1="285.50" x2="1792.25" y2="294.80" stroke="#000" stroke-width="2.1"/>
<line x1="1947.57" y1="285.50" x2="1947.57" y2="294.80" stroke="#000" stroke-width="2.1"/>
<line x1="1170.97" y1="595.40" x2="1170.97" y2="604.70" stroke="#000" stroke-width="2.1"/>
<text x="1170.97" y="633.60" font-size="26.15" text-anchor="middle" font-family="'DejaVu Sans', sans-serif" >7.90</text>
<line x1="1326.29" y1="595.40" x2="1326.29" y2="604.70" stroke="#000" stroke-width="2.1"/>
<text x="1326.29" y="633.60" font-size="26.15" text-anchor="middle" font-family="'DejaVu Sans', sans-serif" >7.95</text>
<line x1="1481.61" y1="595.40" x2="1481.61" y2="604.70" stroke="#000" stroke-width="2.1"/>
<text x="1481.61" y="633.60" font-size="26.15" text-anchor="middle" font-family="'DejaVu Sans', sans-serif" >8.00</text>
<line x1="1636.93" y1="595.40" x2="1636.93" y2="604.70" stroke="#000" stroke-width="2.1"/>
<text x="1636.93" y="633.60" font-size="26.15" text-anchor="middle" font-family="'DejaVu Sans', sans-serif" >8.05</text>
<line x1="1792.25" y1="595.40" x2="1792.25" y2="604.70" stroke="#000" stroke-width="2.1"/>
<text x="1792.25" y="633.60" font-size="26.15" text-anchor="middle" font-family="'DejaVu Sans', sans-serif" >8.10</text>
<line x1="1947.57" y1="595.40" x2="1947.57" y2="604.70" stroke="#000" stroke-width="2.1"/>
<text x="1947.57" y="633.60" font-size="26.15" text-anchor="middle" font-family="'DejaVu Sans', sans-serif" >8.15</text>
<line x1="1159.30" y1="256.70" x2="1168.60" y2="256.70" stroke="#000" stroke-width="2.1"/>
<text x="1150.10" y="267.30" font-size="26.15" text-anchor="end" font-family="'DejaVu Sans', sans-serif" >−0.5</text>
<line x1="1159.30" y1="163.70" x2="1168.60" y2="163.70" stroke="#000" stroke-width="2.1"/>
<text x="1150.10" y="174.30" font-size="26.15" text-anchor="end" font-family="'DejaVu Sans', sans-serif" >0.0</text>
<line x1="1159.30" y1="70.70" x2="1168.60" y2="70.70" stroke="#000" stroke-width="2.1"/>
<text x="1150.10" y="81.30" font-size="26.15" text-anchor="end" font-family="'DejaVu Sans', sans-serif" >0.5</text>
<line x1="1159.30" y1="527.60" x2="1168.60" y2="527.60" stroke="#000" stroke-width="2.1"/>
<text x="1150.10" y="538.20" font-size="26.15" text-anchor="end" font-family="'DejaVu Sans', sans-serif" >−0.2</text>
<line x1="1159.30" y1="441.10" x2="1168.60" y2="441.10" stroke="#000" stroke-width="2.1"/>
<text x="1150.10" y="451.70" font-size="26.15" text-anchor="end" font-family="'DejaVu Sans', sans-serif" >0.0</text>
<line x1="1159.30" y1="354.60" x2="1168.60" y2="354.60" stroke="#000" stroke-width="2.1"/>
<text x="1150.10" y="365.20" font-size="26.15" text-anchor="end" font-family="'DejaVu Sans', sans-serif" >0.2</text>
<text x="1168.60" y="19.50" font-size="26.15" text-anchor="start" font-family="'DejaVu Sans', sans-serif" >+1e3</text>
<text x="1606.10" y="669.10" font-size="26.15" text-anchor="middle" font-family="'DejaVu Sans', sans-serif" >Time (JD)</text>
<text x="2043.60" y="666.50" font-size="26.15" text-anchor="end" font-family="'DejaVu Sans', sans-serif" >+2.4598700000e6</text>
<text x="1071.30" y="156.25" font-size="26.15" text-anchor="middle" font-family="'DejaVu Sans', sans-serif" transform="rotate(-90 1071.30 156.25)" >Flux (ppt)</text>
<text x="1071.30" y="466.35" font-size="26.15" text-anchor="middle" font-family="'DejaVu Sans', sans-serif" transform="rotate(-90 1071.30 466.35)" >Residual (ppt)</text>
<g clip-path="url(#blt)">
<path d="M157.20 941.56V965.56M165.25 907.43V931.43M173.29 900.69V924.69M181.34 910.94V934.94M189.38 926.88V950.88M197.43 927.76V951.76M205.48 911.87V935.87M213.52 947.98V971.98M221.57 968.77V992.77M229.61 947.82V971.82M237.66 918.34V942.34M245.71 925.33V949.33M253.75 944.45V968.45M261.80 933.20V957.20M269.84 948.65V972.65M277.89 907.04V931.04M285.94 933.23V957.23M293.98 952.49V976.49M302.03 946.80V970.80M310.07 922.58V946.58M318.12 932.49V956.49M326.17 988.98V1012.98M334.21 944.66V968.66M342.26 954.56V978.56M350.30 935.34V959.34M358.35 929.44V953.44M366.40 952.65V976.65M374.44 928.99V952.99M382.49 948.05V972.05M390.53 951.71V975.71M398.58 952.46V976.46M406.63 952.79V976.79M414.67 933.02V957.02M422.72 952.35V976.35M430.76 962.74V986.74M438.81 952.88V976.88M446.86 959.87V983.87M454.90 938.36V962.36M462.95 950.69V974.69M470.99 968.35V992.35M479.04 973.47V997.47M487.09 965.69V989.69M495.13 966.37V990.37M503.18 965.66V989.66M511.22 984.04V1008.04M519.27 984.51V1008.51M527.32 981.25V1005.25M535.36 1018.07V1042.07M543.41 1031.73V1055.73M551.45 1032.84V1056.84M559.50 1060.44V1084.44M567.55 1077.79V1101.79M575.59 1061.90V1085.90M583.64 1075.13V1099.13M591.68 1070.33V1094.33M599.73 1094.66V1118.66M607.78 1110.66V1134.66M615.82 1103.78V1127.78M623.87 1096.21V1120.21M631.91 1108.47V1132.47M639.96 1091.54V1115.54M648.01 1063.17V1087.17M656.05 1098.59V1122.59M664.10 1093.23V1117.23M672.14 1070.76V1094.76M680.19 1066.31V1090.31M688.24 1069.48V1093.48M696.28 1084.93V1108.93M704.33 1087.07V1111.07M712.37 1100.51V1124.51M720.42 1098.27V1122.27M728.47 1098.05V1122.05M736.51 1062.05V1086.05M744.56 1082.96V1106.96M752.60 1068.08V1092.08M760.65 1051.39V1075.39M768.70 1062.98V1086.98M776.74 1021.88V1045.88M784.79 1034.99V1058.99M792.83 976.28V1000.28M800.88 995.00V1019.00M808.93 991.54V1015.54M816.97 977.00V1001.00M825.02 977.01V1001.01M833.06 998.52V1022.52M841.11 990.00V1014.00M849.16 995.98V1019.98M857.20 988.51V1012.51M865.25 977.56V1001.56M873.29 980.07V1004.07M881.34 996.52V1020.52M889.39 1009.71V1033.71M897.43 1008.82V1032.82M905.48 998.16V1022.16M913.52 1010.79V1034.79M921.57 1023.28V1047.28M929.62 1010.96V1034.96M937.66 1015.34V1039.34M945.71 978.40V1002.40M953.75 976.75V1000.75" stroke="#1f77b4" stroke-width="4.0" fill="none"/>
<g fill="#1f77b4"><circle cx="157.20" cy="953.56" r="5.3"/><circle cx="165.25" cy="919.43" r="5.3"/><circle cx="173.29" cy="912.69" r="5.3"/><circle cx="181.34" cy="922.94" r="5.3"/><circle cx="189.38" cy="938.88" r="5.3"/><circle cx="197.43" cy="939.76" r="5.3"/><circle cx="205.48" cy="923.87" r="5.3"/><circle cx="213.52" cy="959.98" r="5.3"/><circle cx="221.57" cy="980.77" r="5.3"/><circle cx="229.61" cy="959.82" r="5.3"/><circle cx="237.66" cy="930.34" r="5.3"/><circle cx="245.71" cy="937.33" r="5.3"/><circle cx="253.75" cy="956.45" r="5.3"/><circle cx="261.80" cy="945.20" r="5.3"/><circle cx="269.84" cy="960.65" r="5.3"/><circle cx="277.89" cy="919.04" r="5.3"/><circle cx="285.94" cy="945.23" r="5.3"/><circle cx="293.98" cy="964.49" r="5.3"/><circle cx="302.03" cy="958.80" r="5.3"/><circle cx="310.07" cy="934.58" r="5.3"/><circle cx="318.12" cy="944.49" r="5.3"/><circle cx="326.17" cy="1000.98" r="5.3"/><circle cx="334.21" cy="956.66" r="5.3"/><circle cx="342.26" cy="966.56" r="5.3"/><circle cx="350.30" cy="947.34" r="5.3"/><circle cx="358.35" cy="941.44" r="5.3"/><circle cx="366.40" cy="964.65" r="5.3"/><circle cx="374.44" cy="940.99" r="5.3"/><circle cx="382.49" cy="960.05" r="5.3"/><circle cx="390.53" cy="963.71" r="5.3"/><circle cx="398.58" cy="964.46" r="5.3"/><circle cx="406.63" cy="964.79" r="5.3"/><circle cx="414.67" cy="945.02" r="5.3"/><circle cx="422.72" cy="964.35" r="5.3"/><circle cx="430.76" cy="974.74" r="5.3"/><circle cx="438.81" cy="964.88" r="5.3"/><circle cx="446.86" cy="971.87" r="5.3"/><circle cx="454.90" cy="950.36" r="5.3"/><circle cx="462.95" cy="962.69" r="5.3"/><circle cx="470.99" cy="980.35" r="5.3"/><circle cx="479.04" cy="985.47" r="5.3"/><circle cx="487.09" cy="977.69" r="5.3"/><circle cx="495.13" cy="978.37" r="5.3"/><circle cx="503.18" cy="977.66" r="5.3"/><circle cx="511.22" cy="996.04" r="5.3"/><circle cx="519.27" cy="996.51" r="5.3"/><circle cx="527.32" cy="993.25" r="5.3"/><circle cx="535.36" cy="1030.07" r="5.3"/><circle cx="543.41" cy="1043.73" r="5.3"/><circle cx="551.45" cy="1044.84" r="5.3"/><circle cx="559.50" cy="1072.44" r="5.3"/><circle cx="567.55" cy="1089.79" r="5.3"/><circle cx="575.59" cy="1073.90" r="5.3"/><circle cx="583.64" cy="1087.13" r="5.3"/><circle cx="591.68" cy="1082.33" r="5.3"/><circle cx="599.73" cy="1106.66" r="5.3"/><circle cx="607.78" cy="1122.66" r="5.3"/><circle cx="615.82" cy="1115.78" r="5.3"/><circle cx="623.87" cy="1108.21" r="5.3"/><circle cx="631.91" cy="1120.47" r="5.3"/><circle cx="639.96" cy="1103.54" r="5.3"/><circle cx="648.01" cy="1075.17" r="5.3"/><circle cx="656.05" cy="1110.59" r="5.3"/><circle cx="664.10" cy="1105.23" r="5.3"/><circle cx="672.14" cy="1082.76" r="5.3"/><circle cx="680.19" cy="1078.31" r="5.3"/><circle cx="688.24" cy="1081.48" r="5.3"/><circle cx="696.28" cy="1096.93" r="5.3"/><circle cx="704.33" cy="1099.07" r="5.3"/><circle cx="712.37" cy="1112.51" r="5.3"/><circle cx="720.42" cy="1110.27" r="5.3"/><circle cx="728.47" cy="1110.05" r="5.3"/><circle cx="736.51" cy="1074.05" r="5.3"/><circle cx="744.56" cy="1094.96" r="5.3"/><circle cx="752.60" cy="1080.08" r="5.3"/><circle cx="760.65" cy="1063.39" r="5.3"/><circle cx="768.70" cy="1074.98" r="5.3"/><circle cx="776.74" cy="1033.88" r="5.3"/><circle cx="784.79" cy="1046.99" r="5.3"/><circle cx="792.83" cy="988.28" r="5.3"/><circle cx="800.88" cy="1007.00" r="5.3"/><circle cx="808.93" cy="1003.54" r="5.3"/><circle cx="816.97" cy="989.00" r="5.3"/><circle cx="825.02" cy="989.01" r="5.3"/><circle cx="833.06" cy="1010.52" r="5.3"/><circle cx="841.11" cy="1002.00" r="5.3"/><circle cx="849.16" cy="1007.98" r="5.3"/><circle cx="857.20" cy="1000.51" r="5.3"/><circle cx="865.25" cy="989.56" r="5.3"/><circle cx="873.29" cy="992.07" r="5.3"/><circle cx="881.34" cy="1008.52" r="5.3"/><circle cx="889.39" cy="1021.71" r="5.3"/><circle cx="897.43" cy="1020.82" r="5.3"/><circle cx="905.48" cy="1010.16" r="5.3"/><circle cx="913.52" cy="1022.79" r="5.3"/><circle cx="921.57" cy="1035.28" r="5.3"/><circle cx="929.62" cy="1022.96" r="5.3"/><circle cx="937.66" cy="1027.34" r="5.3"/><circle cx="945.71" cy="990.40" r="5.3"/><circle cx="953.75" cy="988.75" r="5.3"/></g>
</g>
<g clip-path="url(#blt)">
<polyline points="154.30,935.50 156.30,935.72 158.30,935.94 160.30,936.16 162.30,936.38 164.30,936.60 166.30,936.82 168.30,937.04 170.30,937.27 172.30,937.49 174.30,937.71 176.30,937.93 178.30,938.15 180.30,938.37 182.30,938.59 184.30,938.81 186.30,939.03 188.30,939.25 190.30,939.47 192.30,939.69 194.30,939.91 196.30,940.13 198.30,940.36 200.30,940.58 202.30,940.80 204.30,941.02 206.30,941.24 208.30,941.46 210.30,941.68 212.30,941.90 214.30,942.12 216.30,942.34 218.30,942.56 220.30,942.78 222.30,943.00 224.30,943.22 226.30,943.45 228.30,943.67 230.30,943.89 232.30,944.11 234.30,944.33 236.30,944.55 238.30,944.77 240.30,944.99 242.30,945.21 244.30,945.43 246.30,945.65 248.30,945.87 250.30,946.09 252.30,946.31 254.30,946.54 256.30,946.76 258.30,946.98 260.30,947.20 262.30,947.42 264.30,947.64 266.30,947.86 268.30,948.08 270.30,948.30 272.30,948.52 274.30,948.74 276.30,948.96 278.30,949.18 280.30,949.40 282.30,949.62 284.30,949.85 286.30,950.07 288.30,950.29 290.30,950.51 292.30,950.73 294.30,950.95 296.30,951.17 298.30,951.39 300.30,951.61 302.30,951.83 304.30,952.05 306.30,952.27 308.30,952.49 310.30,952.71 312.30,952.94 314.30,953.16 316.30,953.38 318.30,953.60 320.30,953.82 322.30,954.04 324.30,954.26 326.30,954.48 328.30,954.70 330.30,954.92 332.30,955.14 334.30,955.36 336.30,955.58 338.30,955.80 340.30,956.03 342.30,956.25 344.30,956.47 346.30,956.69 348.30,956.91 350.30,957.13 352.30,957.35 354.30,957.57 356.30,957.79 358.30,958.01 360.30,958.23 362.30,958.45 364.30,958.67 366.30,958.89 368.30,959.12 370.30,959.34 372.30,959.56 374.30,959.78 376.30,960.00 378.30,960.22 380.30,960.44 382.30,960.66 384.30,960.88 386.30,961.10 388.30,961.32 390.30,961.54 392.30,961.76 394.30,961.98 396.30,962.20 398.30,962.43 400.30,962.65 402.30,962.87 404.30,963.09 406.30,963.31 408.30,963.53 410.30,963.75 412.30,963.97 414.30,964.19 416.30,964.41 418.30,964.63 420.30,964.85 422.30,965.07 424.30,965.29 426.30,965.52 428.30,965.74 430.30,965.96 432.30,966.18 434.30,966.40 436.30,966.62 438.30,966.84 440.30,967.06 442.30,967.28 444.30,967.50 446.30,967.72 448.30,967.94 450.30,968.16 452.30,968.38 454.30,968.61 456.30,968.83 458.30,969.05 460.30,969.27 462.30,969.49 464.30,969.71 466.30,969.93 468.30,970.15 470.30,970.37 472.30,970.59 474.30,970.81 476.30,971.03 478.30,971.25 480.30,971.47 482.30,971.70 484.30,971.92 486.30,972.14 488.30,972.36 490.30,972.58 492.30,972.80 494.30,973.02 496.30,973.24 498.30,973.46 500.30,973.68 502.30,973.90 504.30,974.12 506.30,974.35 508.30,974.68 510.30,975.49 512.30,976.86 514.30,979.31 516.30,982.88 518.30,987.12 520.30,991.36 522.30,995.60 524.30,999.84 526.30,1004.08 528.30,1008.32 530.30,1012.56 532.30,1016.80 534.30,1021.04 536.30,1025.28 538.30,1029.52 540.30,1033.76 542.30,1038.00 544.30,1042.24 546.30,1046.48 548.30,1050.72 550.30,1054.96 552.30,1059.20 554.30,1063.44 556.30,1067.68 558.30,1071.92 560.30,1076.16 562.30,1080.34 564.30,1083.86 566.30,1086.52 568.30,1088.06 570.30,1088.83 572.30,1089.19 574.30,1089.49 576.30,1089.71 578.30,1089.90 580.30,1090.09 582.30,1090.27 584.30,1090.46 586.30,1090.65 588.30,1090.83 590.30,1091.02 592.30,1091.20 594.30,1091.39 596.30,1091.58 598.30,1091.76 600.30,1091.95 602.30,1092.14 604.30,1092.32 606.30,1092.51 608.30,1092.70 610.30,1092.88 612.30,1093.07 614.30,1093.25 616.30,1093.44 618.30,1093.63 620.30,1093.81 622.30,1094.00 624.30,1094.19 626.30,1094.37 628.30,1094.56 630.30,1094.75 632.30,1094.93 634.30,1095.12 636.30,1095.30 638.30,1095.49 640.30,1095.68 642.30,1095.86 644.30,1096.05 646.30,1096.24 648.30,1096.42 650.30,1096.61 652.30,1096.80 654.30,1096.98 656.30,1097.17 658.30,1097.35 660.30,1097.54 662.30,1097.73 664.30,1097.91 666.30,1098.10 668.30,1098.29 670.30,1098.47 672.30,1098.66 674.30,1098.84 676.30,1099.03 678.30,1099.22 680.30,1099.40 682.30,1099.59 684.30,1099.78 686.30,1099.96 688.30,1100.15 690.30,1100.34 692.30,1100.52 694.30,1100.71 696.30,1100.89 698.30,1101.08 700.30,1101.27 702.30,1101.45 704.30,1101.64 706.30,1101.83 708.30,1102.01 710.30,1102.20 712.30,1102.39 714.30,1102.57 716.30,1102.76 718.30,1102.94 720.30,1103.13 722.30,1103.32 724.30,1103.50 726.30,1103.69 728.30,1103.88 730.30,1104.06 732.30,1104.25 734.30,1104.40 736.30,1104.49 738.30,1104.40 740.30,1103.81 742.30,1102.72 744.30,1101.03 746.30,1098.32 748.30,1094.66 750.30,1090.82 752.30,1086.98 754.30,1083.14 756.30,1079.30 758.30,1075.46 760.30,1071.62 762.30,1067.78 764.30,1063.94 766.30,1060.10 768.30,1056.26 770.30,1052.42 772.30,1048.58 774.30,1044.74 776.30,1040.90 778.30,1037.06 780.30,1033.22 782.30,1029.38 784.30,1025.54 786.30,1021.70 788.30,1017.86 790.30,1014.02 792.30,1010.18 794.30,1006.65 796.30,1003.86 798.30,1001.92 800.30,1000.86 802.30,1000.63 804.30,1000.72 806.30,1000.85 808.30,1001.00 810.30,1001.18 812.30,1001.35 814.30,1001.53 816.30,1001.71 818.30,1001.88 820.30,1002.06 822.30,1002.23 824.30,1002.41 826.30,1002.58 828.30,1002.76 830.30,1002.94 832.30,1003.11 834.30,1003.29 836.30,1003.46 838.30,1003.64 840.30,1003.81 842.30,1003.99 844.30,1004.17 846.30,1004.34 848.30,1004.52 850.30,1004.69 852.30,1004.87 854.30,1005.04 856.30,1005.22 858.30,1005.40 860.30,1005.57 862.30,1005.75 864.30,1005.92 866.30,1006.10 868.30,1006.28 870.30,1006.45 872.30,1006.63 874.30,1006.80 876.30,1006.98 878.30,1007.15 880.30,1007.33 882.30,1007.51 884.30,1007.68 886.30,1007.86 888.30,1008.03 890.30,1008.21 892.30,1008.38 894.30,1008.56 896.30,1008.74 898.30,1008.91 900.30,1009.09 902.30,1009.26 904.30,1009.44 906.30,1009.61 908.30,1009.79 910.30,1009.97 912.30,1010.14 914.30,1010.32 916.30,1010.49 918.30,1010.67 920.30,1010.85 922.30,1011.02 924.30,1011.20 926.30,1011.37 928.30,1011.55 930.30,1011.72 932.30,1011.90 934.30,1012.08 936.30,1012.25 938.30,1012.43 940.30,1012.60 942.30,1012.78 944.30,1012.95 946.30,1013.13 948.30,1013.31 950.30,1013.48 952.30,1013.66 954.30,1013.83 956.20,1014.00" fill="none" stroke="#ff7f0e" stroke-width="8.7" stroke-linejoin="round" stroke-linecap="butt" />
</g>
<g clip-path="url(#blr)">
<path d="M157.20 1323.08V1379.08M165.25 1241.81V1297.81M173.29 1224.11V1280.11M181.34 1245.83V1301.83M189.38 1280.75V1336.75M197.43 1280.75V1336.75M205.48 1241.81V1297.81M213.52 1323.56V1379.56M221.57 1369.74V1425.74M229.61 1319.05V1375.05M237.66 1248.57V1304.57M245.71 1262.73V1318.73M253.75 1305.05V1361.05M261.80 1276.89V1332.89M269.84 1310.68V1366.68M277.89 1212.04V1268.04M285.94 1270.77V1326.77M293.98 1313.42V1369.42M302.03 1298.13V1354.13M310.07 1239.88V1295.88M318.12 1260.80V1316.80M326.17 1389.86V1445.86M334.21 1284.94V1340.94M342.26 1305.86V1361.86M350.30 1259.19V1315.19M358.35 1243.42V1299.42M366.40 1295.24V1351.24M374.44 1238.27V1294.27M382.49 1280.43V1336.43M390.53 1286.87V1342.87M398.58 1286.55V1342.55M406.63 1285.26V1341.26M414.67 1237.30V1293.30M422.72 1280.11V1336.11M430.76 1302.16V1358.16M438.81 1277.21V1333.21M446.86 1291.37V1347.37M454.90 1239.39V1295.39M462.95 1265.95V1321.95M470.99 1304.89V1360.89M479.04 1314.71V1370.71M487.09 1294.59V1350.59M495.13 1294.11V1350.11M503.18 1290.41V1346.41M511.22 1328.39V1384.39M519.27 1298.94V1354.94M527.32 1251.79V1307.79M535.36 1297.65V1353.65M543.41 1289.76V1345.76M551.45 1252.75V1308.75M559.50 1277.21V1333.21M567.55 1286.06V1342.06M575.59 1245.35V1301.35M583.64 1274.32V1330.32M591.68 1261.44V1317.44M599.73 1316.16V1372.16M607.78 1351.56V1407.56M615.82 1333.86V1389.86M623.87 1314.55V1370.55M631.91 1341.26V1397.26M639.96 1300.22V1356.22M648.01 1232.64V1288.64M656.05 1313.10V1369.10M664.10 1298.94V1354.94M672.14 1245.03V1301.03M680.19 1232.96V1288.96M688.24 1238.59V1294.59M696.28 1272.71V1328.71M704.33 1275.92V1331.92M712.37 1305.37V1361.37M720.42 1298.45V1354.45M728.47 1296.20V1352.20M736.51 1211.23V1267.23M744.56 1267.23V1323.23M752.60 1267.23V1323.23M760.65 1264.34V1320.34M768.70 1327.10V1383.10M776.74 1267.56V1323.56M784.79 1333.86V1389.86M792.83 1233.44V1289.44M800.88 1296.84V1352.84M808.93 1287.67V1343.67M816.97 1252.27V1308.27M825.02 1250.66V1306.66M833.06 1298.94V1354.94M841.11 1277.53V1333.53M849.16 1289.76V1345.76M857.20 1270.77V1326.77M865.25 1243.74V1299.74M873.29 1247.92V1303.92M881.34 1284.45V1340.45M889.39 1313.42V1369.42M897.43 1309.72V1365.72M905.48 1283.33V1339.33M913.52 1311.01V1367.01M921.57 1338.36V1394.36M929.62 1308.11V1364.11M937.66 1316.64V1372.64M945.71 1229.26V1285.26M953.75 1223.78V1279.78" stroke="#1f77b4" stroke-width="4.0" fill="none"/>
<g fill="#1f77b4"><circle cx="157.20" cy="1351.08" r="5.3"/><circle cx="165.25" cy="1269.81" r="5.3"/><circle cx="173.29" cy="1252.11" r="5.3"/><circle cx="181.34" cy="1273.83" r="5.3"/><circle cx="189.38" cy="1308.75" r="5.3"/><circle cx="197.43" cy="1308.75" r="5.3"/><circle cx="205.48" cy="1269.81" r="5.3"/><circle cx="213.52" cy="1351.56" r="5.3"/><circle cx="221.57" cy="1397.74" r="5.3"/><circle cx="229.61" cy="1347.05" r="5.3"/><circle cx="237.66" cy="1276.57" r="5.3"/><circle cx="245.71" cy="1290.73" r="5.3"/><circle cx="253.75" cy="1333.05" r="5.3"/><circle cx="261.80" cy="1304.89" r="5.3"/><circle cx="269.84" cy="1338.68" r="5.3"/><circle cx="277.89" cy="1240.04" r="5.3"/><circle cx="285.94" cy="1298.77" r="5.3"/><circle cx="293.98" cy="1341.42" r="5.3"/><circle cx="302.03" cy="1326.13" r="5.3"/><circle cx="310.07" cy="1267.88" r="5.3"/><circle cx="318.12" cy="1288.80" r="5.3"/><circle cx="326.17" cy="1417.86" r="5.3"/><circle cx="334.21" cy="1312.94" r="5.3"/><circle cx="342.26" cy="1333.86" r="5.3"/><circle cx="350.30" cy="1287.19" r="5.3"/><circle cx="358.35" cy="1271.42" r="5.3"/><circle cx="366.40" cy="1323.24" r="5.3"/><circle cx="374.44" cy="1266.27" r="5.3"/><circle cx="382.49" cy="1308.43" r="5.3"/><circle cx="390.53" cy="1314.87" r="5.3"/><circle cx="398.58" cy="1314.55" r="5.3"/><circle cx="406.63" cy="1313.26" r="5.3"/><circle cx="414.67" cy="1265.30" r="5.3"/><circle cx="422.72" cy="1308.11" r="5.3"/><circle cx="430.76" cy="1330.16" r="5.3"/><circle cx="438.81" cy="1305.21" r="5.3"/><circle cx="446.86" cy="1319.37" r="5.3"/><circle cx="454.90" cy="1267.39" r="5.3"/><circle cx="462.95" cy="1293.95" r="5.3"/><circle cx="470.99" cy="1332.89" r="5.3"/><circle cx="479.04" cy="1342.71" r="5.3"/><circle cx="487.09" cy="1322.59" r="5.3"/><circle cx="495.13" cy="1322.11" r="5.3"/><circle cx="503.18" cy="1318.41" r="5.3"/><circle cx="511.22" cy="1356.39" r="5.3"/><circle cx="519.27" cy="1326.94" r="5.3"/><circle cx="527.32" cy="1279.79" r="5.3"/><circle cx="535.36" cy="1325.65" r="5.3"/><circle cx="543.41" cy="1317.76" r="5.3"/><circle cx="551.45" cy="1280.75" r="5.3"/><circle cx="559.50" cy="1305.21" r="5.3"/><circle cx="567.55" cy="1314.06" r="5.3"/><circle cx="575.59" cy="1273.35" r="5.3"/><circle cx="583.64" cy="1302.32" r="5.3"/><circle cx="591.68" cy="1289.44" r="5.3"/><circle cx="599.73" cy="1344.16" r="5.3"/><circle cx="607.78" cy="1379.56" r="5.3"/><circle cx="615.82" cy="1361.86" r="5.3"/><circle cx="623.87" cy="1342.55" r="5.3"/><circle cx="631.91" cy="1369.26" r="5.3"/><circle cx="639.96" cy="1328.22" r="5.3"/><circle cx="648.01" cy="1260.64" r="5.3"/><circle cx="656.05" cy="1341.10" r="5.3"/><circle cx="664.10" cy="1326.94" r="5.3"/><circle cx="672.14" cy="1273.03" r="5.3"/><circle cx="680.19" cy="1260.96" r="5.3"/><circle cx="688.24" cy="1266.59" r="5.3"/><circle cx="696.28" cy="1300.71" r="5.3"/><circle cx="704.33" cy="1303.92" r="5.3"/><circle cx="712.37" cy="1333.37" r="5.3"/><circle cx="720.42" cy="1326.45" r="5.3"/><circle cx="728.47" cy="1324.20" r="5.3"/><circle cx="736.51" cy="1239.23" r="5.3"/><circle cx="744.56" cy="1295.23" r="5.3"/><circle cx="752.60" cy="1295.23" r="5.3"/><circle cx="760.65" cy="1292.34" r="5.3"/><circle cx="768.70" cy="1355.10" r="5.3"/><circle cx="776.74" cy="1295.56" r="5.3"/><circle cx="784.79" cy="1361.86" r="5.3"/><circle cx="792.83" cy="1261.44" r="5.3"/><circle cx="800.88" cy="1324.84" r="5.3"/><circle cx="808.93" cy="1315.67" r="5.3"/><circle cx="816.97" cy="1280.27" r="5.3"/><circle cx="825.02" cy="1278.66" r="5.3"/><circle cx="833.06" cy="1326.94" r="5.3"/><circle cx="841.11" cy="1305.53" r="5.3"/><circle cx="849.16" cy="1317.76" r="5.3"/><circle cx="857.20" cy="1298.77" r="5.3"/><circle cx="865.25" cy="1271.74" r="5.3"/><circle cx="873.29" cy="1275.92" r="5.3"/><circle cx="881.34" cy="1312.45" r="5.3"/><circle cx="889.39" cy="1341.42" r="5.3"/><circle cx="897.43" cy="1337.72" r="5.3"/><circle cx="905.48" cy="1311.33" r="5.3"/><circle cx="913.52" cy="1339.01" r="5.3"/><circle cx="921.57" cy="1366.36" r="5.3"/><circle cx="929.62" cy="1336.11" r="5.3"/><circle cx="937.66" cy="1344.64" r="5.3"/><circle cx="945.71" cy="1257.26" r="5.3"/><circle cx="953.75" cy="1251.78" r="5.3"/></g>
</g>
<rect x="117.50" y="889.60" width="875.20" height="258.30" fill="none" stroke="#000" stroke-width="2.1" stroke-linejoin="miter"/>
<rect x="117.50" y="1199.40" width="875.20" height="258.60" fill="none" stroke="#000" stroke-width="2.1" stroke-linejoin="miter"/>
<line x1="268.53" y1="1147.90" x2="268.53" y2="1157.20" stroke="#000" stroke-width="2.1"/>
<line x1="423.90" y1="1147.90" x2="423.90" y2="1157.20" stroke="#000" stroke-width="2.1"/>
<line x1="579.27" y1="1147.90" x2="579.27" y2="1157.20" stroke="#000" stroke-width="2.1"/>
<line x1="734.64" y1="1147.90" x2="734.64" y2="1157.20" stroke="#000" stroke-width="2.1"/>
<line x1="890.01" y1="1147.90" x2="890.01" y2="1157.20" stroke="#000" stroke-width="2.1"/>
<line x1="268.53" y1="1458.00" x2="268.53" y2="1467.30" stroke="#000" stroke-width="2.1"/>
<text x="268.53" y="1496.20" font-size="26.15" text-anchor="middle" font-family="'DejaVu Sans', sans-serif" >0.30</text>
<line x1="423.90" y1="1458.00" x2="423.90" y2="1467.30" stroke="#000" stroke-width="2.1"/>
<text x="423.90" y="1496.20" font-size="26.15" text-anchor="middle" font-family="'DejaVu Sans', sans-serif" >0.35</text>
<line x1="579.27" y1="1458.00" x2="579.27" y2="1467.30" stroke="#000" stroke-width="2.1"/>
<text x="579.27" y="1496.20" font-size="26.15" text-anchor="middle" font-family="'DejaVu Sans', sans-serif" >0.40</text>
<line x1="734.64" y1="1458.00" x2="734.64" y2="1467.30" stroke="#000" stroke-width="2.1"/>
<text x="734.64" y="1496.20" font-size="26.15" text-anchor="middle" font-family="'DejaVu Sans', sans-serif" >0.45</text>
<line x1="890.01" y1="1458.00" x2="890.01" y2="1467.30" stroke="#000" stroke-width="2.1"/>
<text x="890.01" y="1496.20" font-size="26.15" text-anchor="middle" font-family="'DejaVu Sans', sans-serif" >0.50</text>
<line x1="108.20" y1="1091.15" x2="117.50" y2="1091.15" stroke="#000" stroke-width="2.1"/>
<text x="99.00" y="1101.75" font-size="26.15" text-anchor="end" font-family="'DejaVu Sans', sans-serif" >−0.5</text>
<line x1="108.20" y1="1002.50" x2="117.50" y2="1002.50" stroke="#000" stroke-width="2.1"/>
<text x="99.00" y="1013.10" font-size="26.15" text-anchor="end" font-family="'DejaVu Sans', sans-serif" >0.0</text>
<line x1="108.20" y1="913.85" x2="117.50" y2="913.85" stroke="#000" stroke-width="2.1"/>
<text x="99.00" y="924.45" font-size="26.15" text-anchor="end" font-family="'DejaVu Sans', sans-serif" >0.5</text>
<line x1="108.20" y1="1392.20" x2="117.50" y2="1392.20" stroke="#000" stroke-width="2.1"/>
<text x="99.00" y="1402.80" font-size="26.15" text-anchor="end" font-family="'DejaVu Sans', sans-serif" >−0.2</text>
<line x1="108.20" y1="1309.90" x2="117.50" y2="1309.90" stroke="#000" stroke-width="2.1"/>
<text x="99.00" y="1320.50" font-size="26.15" text-anchor="end" font-family="'DejaVu Sans', sans-serif" >0.0</text>
<line x1="108.20" y1="1227.60" x2="117.50" y2="1227.60" stroke="#000" stroke-width="2.1"/>
<text x="99.00" y="1238.20" font-size="26.15" text-anchor="end" font-family="'DejaVu Sans', sans-serif" >0.2</text>
<text x="117.50" y="882.10" font-size="26.15" text-anchor="start" font-family="'DejaVu Sans', sans-serif" >+1e3</text>
<text x="555.10" y="1531.90" font-size="26.15" text-anchor="middle" font-family="'DejaVu Sans', sans-serif" >Time (JD)</text>
<text x="992.70" y="1529.20" font-size="26.15" text-anchor="end" font-family="'DejaVu Sans', sans-serif" >+2.4601020000e6</text>
<text x="20.30" y="1018.75" font-size="26.15" text-anchor="middle" font-family="'DejaVu Sans', sans-serif" transform="rotate(-90 20.30 1018.75)" >Flux (ppt)</text>
<text x="20.30" y="1328.70" font-size="26.15" text-anchor="middle" font-family="'DejaVu Sans', sans-serif" transform="rotate(-90 20.30 1328.70)" >Residual (ppt)</text>
<g clip-path="url(#brt)">
<path d="M1214.60 912.59V921.99M1222.65 901.35V910.75M1230.69 906.60V916.00M1238.74 915.78V925.18M1246.78 914.54V923.94M1254.83 917.63V927.03M1262.88 918.23V927.63M1270.92 921.83V931.23M1278.97 916.31V925.71M1287.01 926.71V936.11M1295.06 932.06V941.46M1303.11 924.23V933.63M1311.15 924.04V933.44M1319.20 930.22V939.62M1327.24 936.31V945.71M1335.29 928.04V937.44M1343.34 931.40V940.80M1351.38 925.07V934.47M1359.43 934.33V943.73M1367.47 936.45V945.85M1375.52 943.15V952.55M1383.57 962.48V971.88M1391.61 945.10V954.50M1399.66 942.89V952.29M1407.70 940.50V949.90M1415.75 948.40V957.80M1423.80 941.62V951.02M1431.84 948.27V957.67M1439.89 943.36V952.76M1447.93 957.73V967.13M1455.98 953.61V963.01M1464.03 947.38V956.78M1472.07 945.89V955.29M1480.12 955.47V964.87M1488.16 949.88V959.28M1496.21 940.09V949.49M1504.26 956.10V965.50M1512.30 954.84V964.24M1520.35 963.65V973.05M1528.39 981.43V990.83M1536.44 1002.21V1011.61M1544.49 1035.84V1045.24M1552.53 1059.90V1069.30M1560.58 1066.63V1076.03M1568.62 1090.77V1100.17M1576.67 1112.16V1121.56M1584.72 1106.42V1115.82M1592.76 1107.70V1117.10M1600.81 1112.34V1121.74M1608.85 1106.95V1116.35M1616.90 1113.60V1123.00M1624.95 1100.81V1110.21M1632.99 1105.21V1114.61M1641.04 1106.58V1115.98M1649.08 1106.92V1116.32M1657.13 1100.27V1109.67M1665.18 1106.01V1115.41M1673.22 1117.41V1126.81M1681.27 1115.22V1124.62M1689.31 1117.42V1126.82M1697.36 1111.28V1120.68M1705.41 1109.83V1119.23M1713.45 1116.78V1126.18M1721.50 1126.37V1135.77M1729.54 1113.20V1122.60M1737.59 1108.43V1117.83M1745.64 1113.13V1122.53M1753.68 1122.27V1131.67M1761.73 1112.31V1121.71M1769.77 1109.85V1119.25M1777.82 1112.07V1121.47M1785.87 1098.37V1107.77M1793.91 1091.65V1101.05M1801.96 1054.43V1063.83M1810.00 1031.40V1040.80M1818.05 1008.15V1017.55M1826.10 993.23V1002.63M1834.14 975.76V985.16M1842.19 973.45V982.85M1850.23 981.89V991.29M1858.28 983.08V992.48M1866.33 970.21V979.61M1874.37 975.97V985.37M1882.42 967.79V977.19M1890.46 973.17V982.57M1898.51 967.86V977.26M1906.56 977.90V987.30M1914.60 979.80V989.20M1922.65 987.62V997.02M1930.69 983.56V992.96M1938.74 988.67V998.07M1946.79 987.43V996.83M1954.83 985.00V994.40M1962.88 986.25V995.65M1970.92 982.20V991.60M1978.97 979.50V988.90M1987.02 979.00V988.40M1995.06 985.03V994.43M2003.11 984.71V994.11M2011.15 984.88V994.28" stroke="#1f77b4" stroke-width="4.0" fill="none"/>
<g fill="#1f77b4"><circle cx="1214.60" cy="917.29" r="5.3"/><circle cx="1222.65" cy="906.05" r="5.3"/><circle cx="1230.69" cy="911.30" r="5.3"/><circle cx="1238.74" cy="920.48" r="5.3"/><circle cx="1246.78" cy="919.24" r="5.3"/><circle cx="1254.83" cy="922.33" r="5.3"/><circle cx="1262.88" cy="922.93" r="5.3"/><circle cx="1270.92" cy="926.53" r="5.3"/><circle cx="1278.97" cy="921.01" r="5.3"/><circle cx="1287.01" cy="931.41" r="5.3"/><circle cx="1295.06" cy="936.76" r="5.3"/><circle cx="1303.11" cy="928.93" r="5.3"/><circle cx="1311.15" cy="928.74" r="5.3"/><circle cx="1319.20" cy="934.92" r="5.3"/><circle cx="1327.24" cy="941.01" r="5.3"/><circle cx="1335.29" cy="932.74" r="5.3"/><circle cx="1343.34" cy="936.10" r="5.3"/><circle cx="1351.38" cy="929.77" r="5.3"/><circle cx="1359.43" cy="939.03" r="5.3"/><circle cx="1367.47" cy="941.15" r="5.3"/><circle cx="1375.52" cy="947.85" r="5.3"/><circle cx="1383.57" cy="967.18" r="5.3"/><circle cx="1391.61" cy="949.80" r="5.3"/><circle cx="1399.66" cy="947.59" r="5.3"/><circle cx="1407.70" cy="945.20" r="5.3"/><circle cx="1415.75" cy="953.10" r="5.3"/><circle cx="1423.80" cy="946.32" r="5.3"/><circle cx="1431.84" cy="952.97" r="5.3"/><circle cx="1439.89" cy="948.06" r="5.3"/><circle cx="1447.93" cy="962.43" r="5.3"/><circle cx="1455.98" cy="958.31" r="5.3"/><circle cx="1464.03" cy="952.08" r="5.3"/><circle cx="1472.07" cy="950.59" r="5.3"/><circle cx="1480.12" cy="960.17" r="5.3"/><circle cx="1488.16" cy="954.58" r="5.3"/><circle cx="1496.21" cy="944.79" r="5.3"/><circle cx="1504.26" cy="960.80" r="5.3"/><circle cx="1512.30" cy="959.54" r="5.3"/><circle cx="1520.35" cy="968.35" r="5.3"/><circle cx="1528.39" cy="986.13" r="5.3"/><circle cx="1536.44" cy="1006.91" r="5.3"/><circle cx="1544.49" cy="1040.54" r="5.3"/><circle cx="1552.53" cy="1064.60" r="5.3"/><circle cx="1560.58" cy="1071.33" r="5.3"/><circle cx="1568.62" cy="1095.47" r="5.3"/><circle cx="1576.67" cy="1116.86" r="5.3"/><circle cx="1584.72" cy="1111.12" r="5.3"/><circle cx="1592.76" cy="1112.40" r="5.3"/><circle cx="1600.81" cy="1117.04" r="5.3"/><circle cx="1608.85" cy="1111.65" r="5.3"/><circle cx="1616.90" cy="1118.30" r="5.3"/><circle cx="1624.95" cy="1105.51" r="5.3"/><circle cx="1632.99" cy="1109.91" r="5.3"/><circle cx="1641.04" cy="1111.28" r="5.3"/><circle cx="1649.08" cy="1111.62" r="5.3"/><circle cx="1657.13" cy="1104.97" r="5.3"/><circle cx="1665.18" cy="1110.71" r="5.3"/><circle cx="1673.22" cy="1122.11" r="5.3"/><circle cx="1681.27" cy="1119.92" r="5.3"/><circle cx="1689.31" cy="1122.12" r="5.3"/><circle cx="1697.36" cy="1115.98" r="5.3"/><circle cx="1705.41" cy="1114.53" r="5.3"/><circle cx="1713.45" cy="1121.48" r="5.3"/><circle cx="1721.50" cy="1131.07" r="5.3"/><circle cx="1729.54" cy="1117.90" r="5.3"/><circle cx="1737.59" cy="1113.13" r="5.3"/><circle cx="1745.64" cy="1117.83" r="5.3"/><circle cx="1753.68" cy="1126.97" r="5.3"/><circle cx="1761.73" cy="1117.01" r="5.3"/><circle cx="1769.77" cy="1114.55" r="5.3"/><circle cx="1777.82" cy="1116.77" r="5.3"/><circle cx="1785.87" cy="1103.07" r="5.3"/><circle cx="1793.91" cy="1096.35" r="5.3"/><circle cx="1801.96" cy="1059.13" r="5.3"/><circle cx="1810.00" cy="1036.10" r="5.3"/><circle cx="1818.05" cy="1012.85" r="5.3"/><circle cx="1826.10" cy="997.93" r="5.3"/><circle cx="1834.14" cy="980.46" r="5.3"/><circle cx="1842.19" cy="978.15" r="5.3"/><circle cx="1850.23" cy="986.59" r="5.3"/><circle cx="1858.28" cy="987.78" r="5.3"/><circle cx="1866.33" cy="974.91" r="5.3"/><circle cx="1874.37" cy="980.67" r="5.3"/><circle cx="1882.42" cy="972.49" r="5.3"/><circle cx="1890.46" cy="977.87" r="5.3"/><circle cx="1898.51" cy="972.56" r="5.3"/><circle cx="1906.56" cy="982.60" r="5.3"/><circle cx="1914.60" cy="984.50" r="5.3"/><circle cx="1922.65" cy="992.32" r="5.3"/><circle cx="1930.69" cy="988.26" r="5.3"/><circle cx="1938.74" cy="993.37" r="5.3"/><circle cx="1946.79" cy="992.13" r="5.3"/><circle cx="1954.83" cy="989.70" r="5.3"/><circle cx="1962.88" cy="990.95" r="5.3"/><circle cx="1970.92" cy="986.90" r="5.3"/><circle cx="1978.97" cy="984.20" r="5.3"/><circle cx="1987.02" cy="983.70" r="5.3"/><circle cx="1995.06" cy="989.73" r="5.3"/><circle cx="2003.11" cy="989.41" r="5.3"/><circle cx="2011.15" cy="989.58" r="5.3"/></g>
</g>
<g clip-path="url(#brt)">
<polyline points="1211.50,909.30 1213.50,909.85 1215.50,910.39 1217.50,910.94 1219.50,911.49 1221.50,912.04 1223.50,912.58 1225.50,913.13 1227.50,913.68 1229.50,914.23 1231.50,914.77 1233.50,915.32 1235.50,915.87 1237.50,916.42 1239.50,916.96 1241.50,917.51 1243.50,918.06 1245.50,918.61 1247.50,919.15 1249.50,919.70 1251.50,920.25 1253.50,920.79 1255.50,921.34 1257.50,921.89 1259.50,922.44 1261.50,922.98 1263.50,923.53 1265.50,924.08 1267.50,924.63 1269.50,925.17 1271.50,925.72 1273.50,926.27 1275.50,926.82 1277.50,927.32 1279.50,927.76 1281.50,928.12 1283.50,928.48 1285.50,928.84 1287.50,929.19 1289.50,929.55 1291.50,929.91 1293.50,930.26 1295.50,930.62 1297.50,930.98 1299.50,931.33 1301.50,931.69 1303.50,932.05 1305.50,932.40 1307.50,932.76 1309.50,933.11 1311.50,933.47 1313.50,933.83 1315.50,934.18 1317.50,934.54 1319.50,934.90 1321.50,935.25 1323.50,935.61 1325.50,935.97 1327.50,936.32 1329.50,936.68 1331.50,937.04 1333.50,937.39 1335.50,937.75 1337.50,938.11 1339.50,938.46 1341.50,938.82 1343.50,939.17 1345.50,939.53 1347.50,939.89 1349.50,940.24 1351.50,940.60 1353.50,940.96 1355.50,941.31 1357.50,941.67 1359.50,942.03 1361.50,942.38 1363.50,942.74 1365.50,943.10 1367.50,943.45 1369.50,943.81 1371.50,944.17 1373.50,944.51 1375.50,944.79 1377.50,945.02 1379.50,945.24 1381.50,945.46 1383.50,945.67 1385.50,945.89 1387.50,946.11 1389.50,946.32 1391.50,946.54 1393.50,946.76 1395.50,946.97 1397.50,947.19 1399.50,947.41 1401.50,947.62 1403.50,947.84 1405.50,948.06 1407.50,948.27 1409.50,948.49 1411.50,948.71 1413.50,948.92 1415.50,949.14 1417.50,949.36 1419.50,949.57 1421.50,949.79 1423.50,950.01 1425.50,950.22 1427.50,950.44 1429.50,950.66 1431.50,950.87 1433.50,951.09 1435.50,951.31 1437.50,951.52 1439.50,951.74 1441.50,951.96 1443.50,952.17 1445.50,952.39 1447.50,952.61 1449.50,952.82 1451.50,953.04 1453.50,953.25 1455.50,953.45 1457.50,953.63 1459.50,953.81 1461.50,954.00 1463.50,954.18 1465.50,954.36 1467.50,954.54 1469.50,954.73 1471.50,954.91 1473.50,955.09 1475.50,955.28 1477.50,955.46 1479.50,955.64 1481.50,955.83 1483.50,956.01 1485.50,956.19 1487.50,956.38 1489.50,956.56 1491.50,956.74 1493.50,956.92 1495.50,957.11 1497.50,957.29 1499.50,957.47 1501.50,957.66 1503.50,957.84 1505.50,958.02 1507.50,958.21 1509.50,958.39 1511.50,958.87 1513.50,959.86 1515.50,961.26 1517.50,962.79 1519.50,965.71 1521.50,970.36 1523.50,976.15 1525.50,981.93 1527.50,987.72 1529.50,993.50 1531.50,999.28 1533.50,1005.07 1535.50,1010.85 1537.50,1016.64 1539.50,1022.27 1541.50,1027.66 1543.50,1032.86 1545.50,1038.05 1547.50,1043.24 1549.50,1048.43 1551.50,1053.63 1553.50,1058.82 1555.50,1064.01 1557.50,1069.20 1559.50,1074.37 1561.50,1079.38 1563.50,1084.19 1565.50,1088.88 1567.50,1093.57 1569.50,1098.25 1571.50,1102.94 1573.50,1106.78 1575.50,1108.91 1577.50,1109.54 1579.50,1109.97 1581.50,1110.33 1583.50,1110.57 1585.50,1110.71 1587.50,1110.83 1589.50,1110.95 1591.50,1111.07 1593.50,1111.19 1595.50,1111.31 1597.50,1111.43 1599.50,1111.55 1601.50,1111.66 1603.50,1111.78 1605.50,1111.90 1607.50,1112.02 1609.50,1112.14 1611.50,1112.26 1613.50,1112.38 1615.50,1112.50 1617.50,1112.62 1619.50,1112.74 1621.50,1112.86 1623.50,1112.98 1625.50,1113.10 1627.50,1113.22 1629.50,1113.34 1631.50,1113.46 1633.50,1113.58 1635.50,1113.70 1637.50,1113.82 1639.50,1113.93 1641.50,1114.05 1643.50,1114.17 1645.50,1114.29 1647.50,1114.41 1649.50,1114.53 1651.50,1114.65 1653.50,1114.77 1655.50,1114.89 1657.50,1115.01 1659.50,1115.13 1661.50,1115.25 1663.50,1115.37 1665.50,1115.49 1667.50,1115.61 1669.50,1115.73 1671.50,1115.85 1673.50,1115.97 1675.50,1116.09 1677.50,1116.20 1679.50,1116.32 1681.50,1116.44 1683.50,1116.56 1685.50,1116.68 1687.50,1116.80 1689.50,1116.92 1691.50,1117.04 1693.50,1117.16 1695.50,1117.28 1697.50,1117.40 1699.50,1117.52 1701.50,1117.64 1703.50,1117.76 1705.50,1117.88 1707.50,1118.00 1709.50,1118.12 1711.50,1118.24 1713.50,1118.35 1715.50,1118.47 1717.50,1118.59 1719.50,1118.71 1721.50,1118.83 1723.50,1118.95 1725.50,1119.07 1727.50,1119.19 1729.50,1119.31 1731.50,1119.43 1733.50,1119.55 1735.50,1119.67 1737.50,1119.79 1739.50,1119.91 1741.50,1120.03 1743.50,1120.15 1745.50,1120.27 1747.50,1120.39 1749.50,1120.51 1751.50,1120.62 1753.50,1120.74 1755.50,1120.86 1757.50,1120.98 1759.50,1121.10 1761.50,1121.22 1763.50,1121.34 1765.50,1121.46 1767.50,1121.58 1769.50,1121.44 1771.50,1120.95 1773.50,1120.19 1775.50,1119.44 1777.50,1118.01 1779.50,1115.22 1781.50,1111.24 1783.50,1107.10 1785.50,1102.95 1787.50,1098.80 1789.50,1094.66 1791.50,1090.44 1793.50,1085.72 1795.50,1080.43 1797.50,1074.85 1799.50,1069.27 1801.50,1063.69 1803.50,1058.11 1805.50,1052.53 1807.50,1046.95 1809.50,1041.37 1811.50,1035.79 1813.50,1030.22 1815.50,1024.64 1817.50,1019.06 1819.50,1013.48 1821.50,1007.90 1823.50,1002.35 1825.50,997.29 1827.50,992.85 1829.50,988.80 1831.50,984.75 1833.50,981.65 1835.50,980.14 1837.50,979.92 1839.50,979.82 1841.50,979.77 1843.50,979.80 1845.50,979.91 1847.50,980.03 1849.50,980.15 1851.50,980.27 1853.50,980.39 1855.50,980.51 1857.50,980.63 1859.50,980.75 1861.50,980.87 1863.50,980.99 1865.50,981.11 1867.50,981.23 1869.50,981.35 1871.50,981.47 1873.50,981.58 1875.50,981.70 1877.50,981.82 1879.50,981.94 1881.50,982.06 1883.50,982.18 1885.50,982.30 1887.50,982.42 1889.50,982.54 1891.50,982.66 1893.50,982.78 1895.50,982.90 1897.50,983.02 1899.50,983.14 1901.50,983.26 1903.50,983.38 1905.50,983.50 1907.50,983.62 1909.50,983.74 1911.50,983.86 1913.50,983.98 1915.50,984.10 1917.50,984.22 1919.50,984.34 1921.50,984.46 1923.50,984.58 1925.50,984.70 1927.50,984.82 1929.50,984.94 1931.50,985.06 1933.50,985.17 1935.50,985.29 1937.50,985.41 1939.50,985.53 1941.50,985.65 1943.50,985.77 1945.50,985.89 1947.50,986.01 1949.50,986.13 1951.50,986.25 1953.50,986.37 1955.50,986.49 1957.50,986.61 1959.50,986.73 1961.50,986.85 1963.50,986.97 1965.50,987.09 1967.50,987.21 1969.50,987.33 1971.50,987.45 1973.50,987.57 1975.50,987.69 1977.50,987.81 1979.50,987.93 1981.50,988.05 1983.50,988.17 1985.50,988.29 1987.50,988.41 1989.50,988.53 1991.50,988.65 1993.50,988.76 1995.50,988.88 1997.50,989.00 1999.50,989.12 2001.50,989.24 2003.50,989.36 2005.50,989.48 2007.50,989.60 2009.50,989.72 2010.80,989.80" fill="none" stroke="#ff7f0e" stroke-width="8.7" stroke-linejoin="round" stroke-linecap="butt" />
</g>
<g clip-path="url(#brr)">
<path d="M1214.60 1317.41V1368.01M1222.65 1244.51V1295.11M1230.69 1261.08V1311.68M1238.74 1298.90V1349.50M1246.78 1280.23V1330.83M1254.83 1285.06V1335.66M1262.88 1276.37V1326.97M1270.92 1283.93V1334.53M1278.97 1242.58V1293.18M1287.01 1291.18V1341.78M1295.06 1312.42V1363.02M1303.11 1262.21V1312.81M1311.15 1253.36V1303.96M1319.20 1279.11V1329.71M1327.24 1304.37V1354.97M1335.29 1251.75V1302.35M1343.34 1262.21V1312.81M1351.38 1220.05V1270.65M1359.43 1262.53V1313.13M1367.47 1266.23V1316.83M1375.52 1295.20V1345.80M1383.57 1395.30V1445.90M1391.61 1296.33V1346.93M1399.66 1279.59V1330.19M1407.70 1261.89V1312.49M1415.75 1300.03V1350.63M1423.80 1258.51V1309.11M1431.84 1289.89V1340.49M1439.89 1258.51V1309.11M1447.93 1331.73V1382.33M1455.98 1304.86V1355.46M1464.03 1267.04V1317.64M1472.07 1254.97V1305.57M1480.12 1302.92V1353.52M1488.16 1268.65V1319.25M1496.21 1211.52V1262.12M1504.26 1294.40V1345.00M1512.30 1281.84V1332.44M1520.35 1285.87V1336.47M1528.39 1256.09V1306.69M1536.44 1242.58V1293.18M1544.49 1306.46V1357.06M1552.53 1323.68V1374.28M1560.58 1246.92V1297.52M1568.62 1274.76V1325.36M1576.67 1319.34V1369.94M1584.72 1281.20V1331.80M1592.76 1285.54V1336.14M1600.81 1308.07V1358.67M1608.85 1276.21V1326.81M1616.90 1309.68V1360.28M1624.95 1237.75V1288.35M1632.99 1258.99V1309.59M1641.04 1263.82V1314.42M1649.08 1263.01V1313.61M1657.13 1224.39V1274.99M1665.18 1252.88V1303.48M1673.22 1312.10V1362.70M1681.27 1297.61V1348.21M1689.31 1306.95V1357.55M1697.36 1271.06V1321.66M1705.41 1260.60V1311.20M1713.45 1295.68V1346.28M1721.50 1345.09V1395.69M1729.54 1271.06V1321.66M1737.59 1242.58V1293.18M1745.64 1265.43V1316.03M1753.68 1312.42V1363.02M1761.73 1255.77V1306.37M1769.77 1240.48V1291.08M1777.82 1268.97V1319.57M1785.87 1283.45V1334.05M1793.91 1341.06V1391.66M1801.96 1260.92V1311.52M1810.00 1257.70V1308.30M1818.05 1253.36V1303.96M1826.10 1290.85V1341.45M1834.14 1280.72V1331.32M1842.19 1270.26V1320.86M1850.23 1313.38V1363.98M1858.28 1317.25V1367.85M1866.33 1244.83V1295.43M1874.37 1273.47V1324.07M1882.42 1226.48V1277.08M1890.46 1253.04V1303.64M1898.51 1221.66V1272.26M1906.56 1273.47V1324.07M1914.60 1281.20V1331.80M1922.65 1320.95V1371.55M1930.69 1296.33V1346.93M1938.74 1321.43V1372.03M1946.79 1312.10V1362.70M1954.83 1296.33V1346.93M1962.88 1300.51V1351.11M1970.92 1275.89V1326.49M1978.97 1258.67V1309.27M1987.02 1253.36V1303.96M1995.06 1283.45V1334.05M2003.11 1279.11V1329.71M2011.15 1277.50V1328.10" stroke="#1f77b4" stroke-width="4.0" fill="none"/>
<g fill="#1f77b4"><circle cx="1214.60" cy="1342.71" r="5.3"/><circle cx="1222.65" cy="1269.81" r="5.3"/><circle cx="1230.69" cy="1286.38" r="5.3"/><circle cx="1238.74" cy="1324.20" r="5.3"/><circle cx="1246.78" cy="1305.53" r="5.3"/><circle cx="1254.83" cy="1310.36" r="5.3"/><circle cx="1262.88" cy="1301.67" r="5.3"/><circle cx="1270.92" cy="1309.23" r="5.3"/><circle cx="1278.97" cy="1267.88" r="5.3"/><circle cx="1287.01" cy="1316.48" r="5.3"/><circle cx="1295.06" cy="1337.72" r="5.3"/><circle cx="1303.11" cy="1287.51" r="5.3"/><circle cx="1311.15" cy="1278.66" r="5.3"/><circle cx="1319.20" cy="1304.41" r="5.3"/><circle cx="1327.24" cy="1329.67" r="5.3"/><circle cx="1335.29" cy="1277.05" r="5.3"/><circle cx="1343.34" cy="1287.51" r="5.3"/><circle cx="1351.38" cy="1245.35" r="5.3"/><circle cx="1359.43" cy="1287.83" r="5.3"/><circle cx="1367.47" cy="1291.53" r="5.3"/><circle cx="1375.52" cy="1320.50" r="5.3"/><circle cx="1383.57" cy="1420.60" r="5.3"/><circle cx="1391.61" cy="1321.63" r="5.3"/><circle cx="1399.66" cy="1304.89" r="5.3"/><circle cx="1407.70" cy="1287.19" r="5.3"/><circle cx="1415.75" cy="1325.33" r="5.3"/><circle cx="1423.80" cy="1283.81" r="5.3"/><circle cx="1431.84" cy="1315.19" r="5.3"/><circle cx="1439.89" cy="1283.81" r="5.3"/><circle cx="1447.93" cy="1357.03" r="5.3"/><circle cx="1455.98" cy="1330.16" r="5.3"/><circle cx="1464.03" cy="1292.34" r="5.3"/><circle cx="1472.07" cy="1280.27" r="5.3"/><circle cx="1480.12" cy="1328.22" r="5.3"/><circle cx="1488.16" cy="1293.95" r="5.3"/><circle cx="1496.21" cy="1236.82" r="5.3"/><circle cx="1504.26" cy="1319.70" r="5.3"/><circle cx="1512.30" cy="1307.14" r="5.3"/><circle cx="1520.35" cy="1311.17" r="5.3"/><circle cx="1528.39" cy="1281.39" r="5.3"/><circle cx="1536.44" cy="1267.88" r="5.3"/><circle cx="1544.49" cy="1331.76" r="5.3"/><circle cx="1552.53" cy="1348.98" r="5.3"/><circle cx="1560.58" cy="1272.22" r="5.3"/><circle cx="1568.62" cy="1300.06" r="5.3"/><circle cx="1576.67" cy="1344.64" r="5.3"/><circle cx="1584.72" cy="1306.50" r="5.3"/><circle cx="1592.76" cy="1310.84" r="5.3"/><circle cx="1600.81" cy="1333.37" r="5.3"/><circle cx="1608.85" cy="1301.51" r="5.3"/><circle cx="1616.90" cy="1334.98" r="5.3"/><circle cx="1624.95" cy="1263.05" r="5.3"/><circle cx="1632.99" cy="1284.29" r="5.3"/><circle cx="1641.04" cy="1289.12" r="5.3"/><circle cx="1649.08" cy="1288.31" r="5.3"/><circle cx="1657.13" cy="1249.69" r="5.3"/><circle cx="1665.18" cy="1278.18" r="5.3"/><circle cx="1673.22" cy="1337.40" r="5.3"/><circle cx="1681.27" cy="1322.91" r="5.3"/><circle cx="1689.31" cy="1332.25" r="5.3"/><circle cx="1697.36" cy="1296.36" r="5.3"/><circle cx="1705.41" cy="1285.90" r="5.3"/><circle cx="1713.45" cy="1320.98" r="5.3"/><circle cx="1721.50" cy="1370.39" r="5.3"/><circle cx="1729.54" cy="1296.36" r="5.3"/><circle cx="1737.59" cy="1267.88" r="5.3"/><circle cx="1745.64" cy="1290.73" r="5.3"/><circle cx="1753.68" cy="1337.72" r="5.3"/><circle cx="1761.73" cy="1281.07" r="5.3"/><circle cx="1769.77" cy="1265.78" r="5.3"/><circle cx="1777.82" cy="1294.27" r="5.3"/><circle cx="1785.87" cy="1308.75" r="5.3"/><circle cx="1793.91" cy="1366.36" r="5.3"/><circle cx="1801.96" cy="1286.22" r="5.3"/><circle cx="1810.00" cy="1283.00" r="5.3"/><circle cx="1818.05" cy="1278.66" r="5.3"/><circle cx="1826.10" cy="1316.15" r="5.3"/><circle cx="1834.14" cy="1306.02" r="5.3"/><circle cx="1842.19" cy="1295.56" r="5.3"/><circle cx="1850.23" cy="1338.68" r="5.3"/><circle cx="1858.28" cy="1342.55" r="5.3"/><circle cx="1866.33" cy="1270.13" r="5.3"/><circle cx="1874.37" cy="1298.77" r="5.3"/><circle cx="1882.42" cy="1251.78" r="5.3"/><circle cx="1890.46" cy="1278.34" r="5.3"/><circle cx="1898.51" cy="1246.96" r="5.3"/><circle cx="1906.56" cy="1298.77" r="5.3"/><circle cx="1914.60" cy="1306.50" r="5.3"/><circle cx="1922.65" cy="1346.25" r="5.3"/><circle cx="1930.69" cy="1321.63" r="5.3"/><circle cx="1938.74" cy="1346.73" r="5.3"/><circle cx="1946.79" cy="1337.40" r="5.3"/><circle cx="1954.83" cy="1321.63" r="5.3"/><circle cx="1962.88" cy="1325.81" r="5.3"/><circle cx="1970.92" cy="1301.19" r="5.3"/><circle cx="1978.97" cy="1283.97" r="5.3"/><circle cx="1987.02" cy="1278.66" r="5.3"/><circle cx="1995.06" cy="1308.75" r="5.3"/><circle cx="2003.11" cy="1304.41" r="5.3"/><circle cx="2011.15" cy="1302.80" r="5.3"/></g>
</g>
<rect x="1174.85" y="889.80" width="875.15" height="258.10" fill="none" stroke="#000" stroke-width="2.1" stroke-linejoin="miter"/>
<rect x="1174.85" y="1199.40" width="875.15" height="258.60" fill="none" stroke="#000" stroke-width="2.1" stroke-linejoin="miter"/>
<line x1="1280.36" y1="1147.90" x2="1280.36" y2="1157.20" stroke="#000" stroke-width="2.1"/>
<line x1="1456.77" y1="1147.90" x2="1456.77" y2="1157.20" stroke="#000" stroke-width="2.1"/>
<line x1="1633.18" y1="1147.90" x2="1633.18" y2="1157.20" stroke="#000" stroke-width="2.1"/>
<line x1="1809.59" y1="1147.90" x2="1809.59" y2="1157.20" stroke="#000" stroke-width="2.1"/>
<line x1="1986.00" y1="1147.90" x2="1986.00" y2="1157.20" stroke="#000" stroke-width="2.1"/>
<line x1="1280.36" y1="1458.00" x2="1280.36" y2="1467.30" stroke="#000" stroke-width="2.1"/>
<text x="1280.36" y="1496.20" font-size="26.15" text-anchor="middle" font-family="'DejaVu Sans', sans-serif" >0.50</text>
<line x1="1456.77" y1="1458.00" x2="1456.77" y2="1467.30" stroke="#000" stroke-width="2.1"/>
<text x="1456.77" y="1496.20" font-size="26.15" text-anchor="middle" font-family="'DejaVu Sans', sans-serif" >0.55</text>
<line x1="1633.18" y1="1458.00" x2="1633.18" y2="1467.30" stroke="#000" stroke-width="2.1"/>
<text x="1633.18" y="1496.20" font-size="26.15" text-anchor="middle" font-family="'DejaVu Sans', sans-serif" >0.60</text>
<line x1="1809.59" y1="1458.00" x2="1809.59" y2="1467.30" stroke="#000" stroke-width="2.1"/>
<text x="1809.59" y="1496.20" font-size="26.15" text-anchor="middle" font-family="'DejaVu Sans', sans-serif" >0.65</text>
<line x1="1986.00" y1="1458.00" x2="1986.00" y2="1467.30" stroke="#000" stroke-width="2.1"/>
<text x="1986.00" y="1496.20" font-size="26.15" text-anchor="middle" font-family="'DejaVu Sans', sans-serif" >0.70</text>
<line x1="1165.55" y1="1087.90" x2="1174.85" y2="1087.90" stroke="#000" stroke-width="2.1"/>
<text x="1156.35" y="1098.50" font-size="26.15" text-anchor="end" font-family="'DejaVu Sans', sans-serif" >−1</text>
<line x1="1165.55" y1="979.30" x2="1174.85" y2="979.30" stroke="#000" stroke-width="2.1"/>
<text x="1156.35" y="989.90" font-size="26.15" text-anchor="end" font-family="'DejaVu Sans', sans-serif" >0</text>
<line x1="1165.55" y1="1421.80" x2="1174.85" y2="1421.80" stroke="#000" stroke-width="2.1"/>
<text x="1156.35" y="1432.40" font-size="26.15" text-anchor="end" font-family="'DejaVu Sans', sans-serif" >−0.2</text>
<line x1="1165.55" y1="1304.00" x2="1174.85" y2="1304.00" stroke="#000" stroke-width="2.1"/>
<text x="1156.35" y="1314.60" font-size="26.15" text-anchor="end" font-family="'DejaVu Sans', sans-serif" >0.0</text>
<text x="1174.85" y="882.30" font-size="26.15" text-anchor="start" font-family="'DejaVu Sans', sans-serif" >+1e3</text>
<text x="1612.42" y="1531.90" font-size="26.15" text-anchor="middle" font-family="'DejaVu Sans', sans-serif" >Time (JD)</text>
<text x="2050.00" y="1529.20" font-size="26.15" text-anchor="end" font-family="'DejaVu Sans', sans-serif" >+2.4600670000e6</text>
<text x="1102.50" y="1018.85" font-size="26.15" text-anchor="middle" font-family="'DejaVu Sans', sans-serif" transform="rotate(-90 1102.50 1018.85)" >Flux (ppt)</text>
<text x="1077.90" y="1328.70" font-size="26.15" text-anchor="middle" font-family="'DejaVu Sans', sans-serif" transform="rotate(-90 1077.90 1328.70)" >Residual (ppt)</text>
<text x="34.10" y="746.80" font-size="33.0" font-family="'Liberation Serif', 'DejaVu Serif', serif" textLength="936.90" lengthAdjust="spacingAndGlyphs">Program 1185 Obs 6 and 7 F210M Eclipses, binned, with GP</text>
<text x="449.50" y="785.80" font-size="33.0" font-family="'Liberation Serif', 'DejaVu Serif', serif" textLength="107.10" lengthAdjust="spacingAndGlyphs">models</text>
<text x="1260.70" y="747.10" font-size="33.0" font-family="'Liberation Serif', 'DejaVu Serif', serif" textLength="574.60" lengthAdjust="spacingAndGlyphs">Prog 1185 Obs 6 F322W2 Broadband</text>
<text x="218.90" y="1609.50" font-size="33.0" font-family="'Liberation Serif', 'DejaVu Serif', serif" textLength="556.20" lengthAdjust="spacingAndGlyphs">Prog 1185 Obs 7 F444W Broadband</text>
<text x="1387.90" y="1609.30" font-size="33.0" font-family="'Liberation Serif', 'DejaVu Serif', serif" textLength="332.50" lengthAdjust="spacingAndGlyphs">Prog 1177 Obs 3 LRS</text>
</svg></body></html>
